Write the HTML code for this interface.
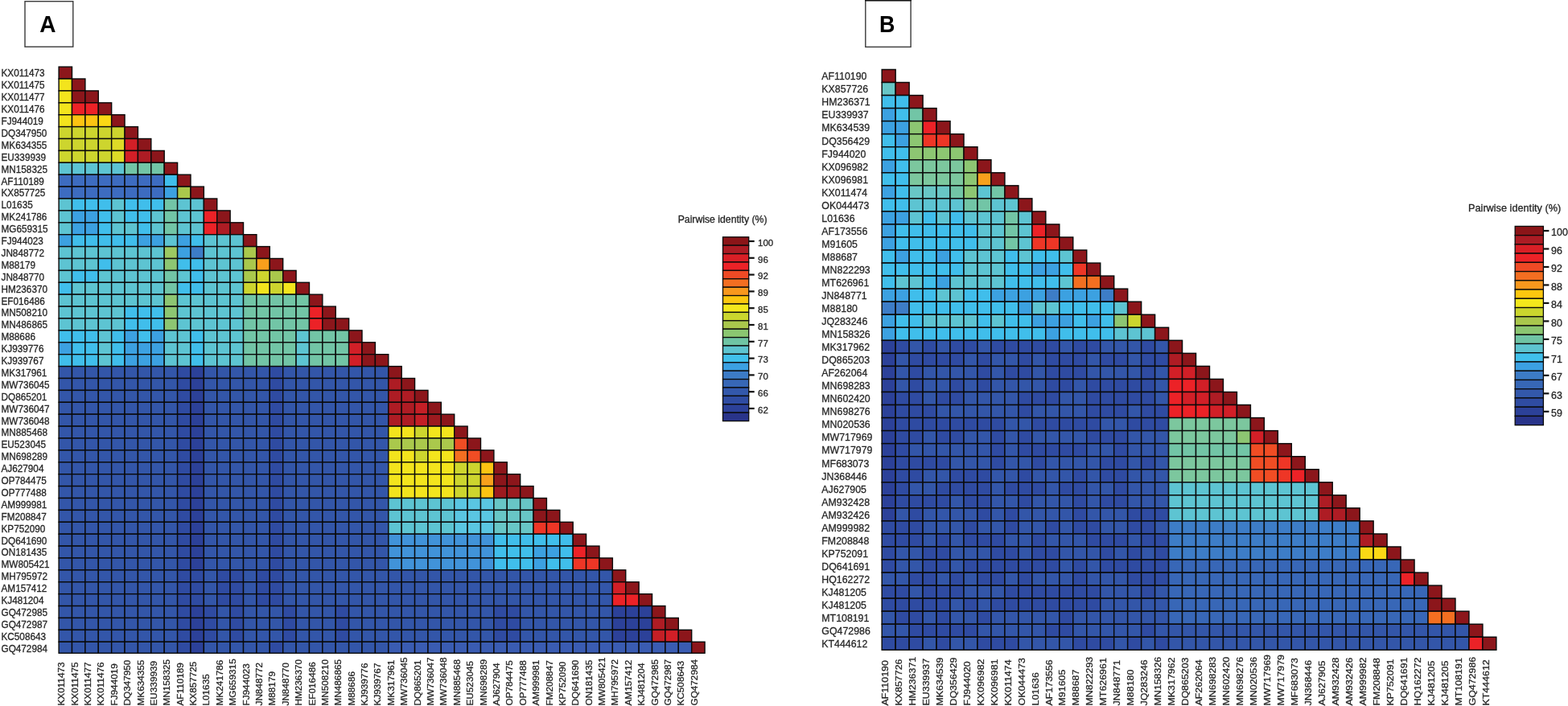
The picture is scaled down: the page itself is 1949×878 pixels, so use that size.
<!DOCTYPE html><html><head><meta charset="utf-8"><title>Pairwise identity heatmaps</title>
<style>html,body{margin:0;padding:0;background:#fff;width:1949px;height:878px;overflow:hidden}svg{display:block}text{font-family:"Liberation Sans",Arial,sans-serif;fill:#262626;stroke:#262626;stroke-width:0.3px}</style></head><body>
<svg width="1949" height="878" viewBox="0 0 1949 878">
<rect width="1949" height="878" fill="#fff"/>
<g stroke="#0a0a0a" stroke-width="1.4"><rect x="73.11" y="83.12" width="16.39" height="14.9" fill="#8c161b"/><rect x="73.11" y="98.02" width="16.39" height="14.9" fill="#f3e41d"/><rect x="89.5" y="98.02" width="16.39" height="14.9" fill="#8c161b"/><rect x="73.11" y="112.92" width="16.39" height="14.9" fill="#f3e41d"/><rect x="89.5" y="112.92" width="16.39" height="14.9" fill="#8c161b"/><rect x="105.88" y="112.92" width="16.39" height="14.9" fill="#8c161b"/><rect x="73.11" y="127.82" width="16.39" height="14.9" fill="#f3e41d"/><rect x="89.5" y="127.82" width="16.39" height="14.9" fill="#ec2227"/><rect x="105.88" y="127.82" width="16.39" height="14.9" fill="#ec2227"/><rect x="122.27" y="127.82" width="16.39" height="14.9" fill="#8c161b"/><rect x="73.11" y="142.72" width="16.39" height="14.9" fill="#f3e41d"/><rect x="89.5" y="142.72" width="16.39" height="14.9" fill="#fdc412"/><rect x="105.88" y="142.72" width="16.39" height="14.9" fill="#fdc412"/><rect x="122.27" y="142.72" width="16.39" height="14.9" fill="#fbd915"/><rect x="138.66" y="142.72" width="16.39" height="14.9" fill="#8c161b"/><rect x="73.11" y="157.62" width="16.39" height="14.9" fill="#cdd52e"/><rect x="89.5" y="157.62" width="16.39" height="14.9" fill="#cdd52e"/><rect x="105.88" y="157.62" width="16.39" height="14.9" fill="#cdd52e"/><rect x="122.27" y="157.62" width="16.39" height="14.9" fill="#cdd52e"/><rect x="138.66" y="157.62" width="16.39" height="14.9" fill="#cdd52e"/><rect x="155.05" y="157.62" width="16.39" height="14.9" fill="#8c161b"/><rect x="73.11" y="172.51" width="16.39" height="14.9" fill="#cdd52e"/><rect x="89.5" y="172.51" width="16.39" height="14.9" fill="#cdd52e"/><rect x="105.88" y="172.51" width="16.39" height="14.9" fill="#cdd52e"/><rect x="122.27" y="172.51" width="16.39" height="14.9" fill="#cdd52e"/><rect x="138.66" y="172.51" width="16.39" height="14.9" fill="#dedb27"/><rect x="155.05" y="172.51" width="16.39" height="14.9" fill="#d21f27"/><rect x="171.43" y="172.51" width="16.39" height="14.9" fill="#8c161b"/><rect x="73.11" y="187.41" width="16.39" height="14.9" fill="#cdd52e"/><rect x="89.5" y="187.41" width="16.39" height="14.9" fill="#cdd52e"/><rect x="105.88" y="187.41" width="16.39" height="14.9" fill="#cdd52e"/><rect x="122.27" y="187.41" width="16.39" height="14.9" fill="#cdd52e"/><rect x="138.66" y="187.41" width="16.39" height="14.9" fill="#dedb27"/><rect x="155.05" y="187.41" width="16.39" height="14.9" fill="#d21f27"/><rect x="171.43" y="187.41" width="16.39" height="14.9" fill="#ae1c24"/><rect x="187.82" y="187.41" width="16.39" height="14.9" fill="#8c161b"/><rect x="73.11" y="202.31" width="16.39" height="14.9" fill="#5dc4d2"/><rect x="89.5" y="202.31" width="16.39" height="14.9" fill="#5dc4d2"/><rect x="105.88" y="202.31" width="16.39" height="14.9" fill="#5dc4d2"/><rect x="122.27" y="202.31" width="16.39" height="14.9" fill="#5dc4d2"/><rect x="138.66" y="202.31" width="16.39" height="14.9" fill="#5dc4d2"/><rect x="155.05" y="202.31" width="16.39" height="14.9" fill="#72c5a6"/><rect x="171.43" y="202.31" width="16.39" height="14.9" fill="#72c5a6"/><rect x="187.82" y="202.31" width="16.39" height="14.9" fill="#72c5a6"/><rect x="204.21" y="202.31" width="16.39" height="14.9" fill="#8c161b"/><rect x="73.11" y="217.21" width="16.39" height="14.9" fill="#3d6cc0"/><rect x="89.5" y="217.21" width="16.39" height="14.9" fill="#3d6cc0"/><rect x="105.88" y="217.21" width="16.39" height="14.9" fill="#3d6cc0"/><rect x="122.27" y="217.21" width="16.39" height="14.9" fill="#3d6cc0"/><rect x="138.66" y="217.21" width="16.39" height="14.9" fill="#3d6cc0"/><rect x="155.05" y="217.21" width="16.39" height="14.9" fill="#3d6cc0"/><rect x="171.43" y="217.21" width="16.39" height="14.9" fill="#3d6cc0"/><rect x="187.82" y="217.21" width="16.39" height="14.9" fill="#3d6cc0"/><rect x="204.21" y="217.21" width="16.39" height="14.9" fill="#40beeb"/><rect x="220.59" y="217.21" width="16.39" height="14.9" fill="#8c161b"/><rect x="73.11" y="232.11" width="16.39" height="14.9" fill="#3d6cc0"/><rect x="89.5" y="232.11" width="16.39" height="14.9" fill="#3d6cc0"/><rect x="105.88" y="232.11" width="16.39" height="14.9" fill="#3d6cc0"/><rect x="122.27" y="232.11" width="16.39" height="14.9" fill="#3d6cc0"/><rect x="138.66" y="232.11" width="16.39" height="14.9" fill="#3d6cc0"/><rect x="155.05" y="232.11" width="16.39" height="14.9" fill="#3d6cc0"/><rect x="171.43" y="232.11" width="16.39" height="14.9" fill="#3d6cc0"/><rect x="187.82" y="232.11" width="16.39" height="14.9" fill="#3d6cc0"/><rect x="204.21" y="232.11" width="16.39" height="14.9" fill="#3ca1e1"/><rect x="220.59" y="232.11" width="16.39" height="14.9" fill="#aac84c"/><rect x="236.98" y="232.11" width="16.39" height="14.9" fill="#8c161b"/><rect x="73.11" y="247.01" width="16.39" height="14.9" fill="#5dc4d2"/><rect x="89.5" y="247.01" width="16.39" height="14.9" fill="#40beeb"/><rect x="105.88" y="247.01" width="16.39" height="14.9" fill="#40beeb"/><rect x="122.27" y="247.01" width="16.39" height="14.9" fill="#40beeb"/><rect x="138.66" y="247.01" width="16.39" height="14.9" fill="#5dc4d2"/><rect x="155.05" y="247.01" width="16.39" height="14.9" fill="#40beeb"/><rect x="171.43" y="247.01" width="16.39" height="14.9" fill="#40beeb"/><rect x="187.82" y="247.01" width="16.39" height="14.9" fill="#40beeb"/><rect x="204.21" y="247.01" width="16.39" height="14.9" fill="#72c5a6"/><rect x="220.59" y="247.01" width="16.39" height="14.9" fill="#5dc4d2"/><rect x="236.98" y="247.01" width="16.39" height="14.9" fill="#5dc4d2"/><rect x="253.37" y="247.01" width="16.39" height="14.9" fill="#8c161b"/><rect x="73.11" y="261.91" width="16.39" height="14.9" fill="#5dc4d2"/><rect x="89.5" y="261.91" width="16.39" height="14.9" fill="#3ca1e1"/><rect x="105.88" y="261.91" width="16.39" height="14.9" fill="#3ca1e1"/><rect x="122.27" y="261.91" width="16.39" height="14.9" fill="#40beeb"/><rect x="138.66" y="261.91" width="16.39" height="14.9" fill="#5dc4d2"/><rect x="155.05" y="261.91" width="16.39" height="14.9" fill="#40beeb"/><rect x="171.43" y="261.91" width="16.39" height="14.9" fill="#40beeb"/><rect x="187.82" y="261.91" width="16.39" height="14.9" fill="#5dc4d2"/><rect x="204.21" y="261.91" width="16.39" height="14.9" fill="#72c5a6"/><rect x="220.59" y="261.91" width="16.39" height="14.9" fill="#5dc4d2"/><rect x="236.98" y="261.91" width="16.39" height="14.9" fill="#5dc4d2"/><rect x="253.37" y="261.91" width="16.39" height="14.9" fill="#ec2227"/><rect x="269.75" y="261.91" width="16.39" height="14.9" fill="#8c161b"/><rect x="73.11" y="276.81" width="16.39" height="14.9" fill="#5dc4d2"/><rect x="89.5" y="276.81" width="16.39" height="14.9" fill="#3ca1e1"/><rect x="105.88" y="276.81" width="16.39" height="14.9" fill="#3ca1e1"/><rect x="122.27" y="276.81" width="16.39" height="14.9" fill="#40beeb"/><rect x="138.66" y="276.81" width="16.39" height="14.9" fill="#5dc4d2"/><rect x="155.05" y="276.81" width="16.39" height="14.9" fill="#5dc4d2"/><rect x="171.43" y="276.81" width="16.39" height="14.9" fill="#40beeb"/><rect x="187.82" y="276.81" width="16.39" height="14.9" fill="#5dc4d2"/><rect x="204.21" y="276.81" width="16.39" height="14.9" fill="#72c5a6"/><rect x="220.59" y="276.81" width="16.39" height="14.9" fill="#5dc4d2"/><rect x="236.98" y="276.81" width="16.39" height="14.9" fill="#5dc4d2"/><rect x="253.37" y="276.81" width="16.39" height="14.9" fill="#ec2227"/><rect x="269.75" y="276.81" width="16.39" height="14.9" fill="#ae1c24"/><rect x="286.14" y="276.81" width="16.39" height="14.9" fill="#8c161b"/><rect x="73.11" y="291.71" width="16.39" height="14.9" fill="#3ca1e1"/><rect x="89.5" y="291.71" width="16.39" height="14.9" fill="#40beeb"/><rect x="105.88" y="291.71" width="16.39" height="14.9" fill="#40beeb"/><rect x="122.27" y="291.71" width="16.39" height="14.9" fill="#40beeb"/><rect x="138.66" y="291.71" width="16.39" height="14.9" fill="#40beeb"/><rect x="155.05" y="291.71" width="16.39" height="14.9" fill="#40beeb"/><rect x="171.43" y="291.71" width="16.39" height="14.9" fill="#3ca1e1"/><rect x="187.82" y="291.71" width="16.39" height="14.9" fill="#3ca1e1"/><rect x="204.21" y="291.71" width="16.39" height="14.9" fill="#5dc4d2"/><rect x="220.59" y="291.71" width="16.39" height="14.9" fill="#3ca1e1"/><rect x="236.98" y="291.71" width="16.39" height="14.9" fill="#40beeb"/><rect x="253.37" y="291.71" width="16.39" height="14.9" fill="#5dc4d2"/><rect x="269.75" y="291.71" width="16.39" height="14.9" fill="#5dc4d2"/><rect x="286.14" y="291.71" width="16.39" height="14.9" fill="#5dc4d2"/><rect x="302.53" y="291.71" width="16.39" height="14.9" fill="#8c161b"/><rect x="73.11" y="306.61" width="16.39" height="14.9" fill="#5dc4d2"/><rect x="89.5" y="306.61" width="16.39" height="14.9" fill="#5dc4d2"/><rect x="105.88" y="306.61" width="16.39" height="14.9" fill="#5dc4d2"/><rect x="122.27" y="306.61" width="16.39" height="14.9" fill="#5dc4d2"/><rect x="138.66" y="306.61" width="16.39" height="14.9" fill="#5dc4d2"/><rect x="155.05" y="306.61" width="16.39" height="14.9" fill="#5dc4d2"/><rect x="171.43" y="306.61" width="16.39" height="14.9" fill="#5dc4d2"/><rect x="187.82" y="306.61" width="16.39" height="14.9" fill="#5dc4d2"/><rect x="204.21" y="306.61" width="16.39" height="14.9" fill="#9cc962"/><rect x="220.59" y="306.61" width="16.39" height="14.9" fill="#3ca1e1"/><rect x="236.98" y="306.61" width="16.39" height="14.9" fill="#3d7dc7"/><rect x="253.37" y="306.61" width="16.39" height="14.9" fill="#5dc4d2"/><rect x="269.75" y="306.61" width="16.39" height="14.9" fill="#5dc4d2"/><rect x="286.14" y="306.61" width="16.39" height="14.9" fill="#5dc4d2"/><rect x="302.53" y="306.61" width="16.39" height="14.9" fill="#aac84c"/><rect x="318.92" y="306.61" width="16.39" height="14.9" fill="#8c161b"/><rect x="73.11" y="321.5" width="16.39" height="14.9" fill="#5dc4d2"/><rect x="89.5" y="321.5" width="16.39" height="14.9" fill="#5dc4d2"/><rect x="105.88" y="321.5" width="16.39" height="14.9" fill="#5dc4d2"/><rect x="122.27" y="321.5" width="16.39" height="14.9" fill="#40beeb"/><rect x="138.66" y="321.5" width="16.39" height="14.9" fill="#5dc4d2"/><rect x="155.05" y="321.5" width="16.39" height="14.9" fill="#5dc4d2"/><rect x="171.43" y="321.5" width="16.39" height="14.9" fill="#5dc4d2"/><rect x="187.82" y="321.5" width="16.39" height="14.9" fill="#5dc4d2"/><rect x="204.21" y="321.5" width="16.39" height="14.9" fill="#8dc672"/><rect x="220.59" y="321.5" width="16.39" height="14.9" fill="#40beeb"/><rect x="236.98" y="321.5" width="16.39" height="14.9" fill="#40beeb"/><rect x="253.37" y="321.5" width="16.39" height="14.9" fill="#5dc4d2"/><rect x="269.75" y="321.5" width="16.39" height="14.9" fill="#5dc4d2"/><rect x="286.14" y="321.5" width="16.39" height="14.9" fill="#5dc4d2"/><rect x="302.53" y="321.5" width="16.39" height="14.9" fill="#aac84c"/><rect x="318.92" y="321.5" width="16.39" height="14.9" fill="#f8a01c"/><rect x="335.3" y="321.5" width="16.39" height="14.9" fill="#8c161b"/><rect x="73.11" y="336.4" width="16.39" height="14.9" fill="#5dc4d2"/><rect x="89.5" y="336.4" width="16.39" height="14.9" fill="#40beeb"/><rect x="105.88" y="336.4" width="16.39" height="14.9" fill="#40beeb"/><rect x="122.27" y="336.4" width="16.39" height="14.9" fill="#5dc4d2"/><rect x="138.66" y="336.4" width="16.39" height="14.9" fill="#5dc4d2"/><rect x="155.05" y="336.4" width="16.39" height="14.9" fill="#5dc4d2"/><rect x="171.43" y="336.4" width="16.39" height="14.9" fill="#5dc4d2"/><rect x="187.82" y="336.4" width="16.39" height="14.9" fill="#5dc4d2"/><rect x="204.21" y="336.4" width="16.39" height="14.9" fill="#72c5a6"/><rect x="220.59" y="336.4" width="16.39" height="14.9" fill="#5dc4d2"/><rect x="236.98" y="336.4" width="16.39" height="14.9" fill="#40beeb"/><rect x="253.37" y="336.4" width="16.39" height="14.9" fill="#5dc4d2"/><rect x="269.75" y="336.4" width="16.39" height="14.9" fill="#5dc4d2"/><rect x="286.14" y="336.4" width="16.39" height="14.9" fill="#5dc4d2"/><rect x="302.53" y="336.4" width="16.39" height="14.9" fill="#aac84c"/><rect x="318.92" y="336.4" width="16.39" height="14.9" fill="#cdd52e"/><rect x="335.3" y="336.4" width="16.39" height="14.9" fill="#aac84c"/><rect x="351.69" y="336.4" width="16.39" height="14.9" fill="#8c161b"/><rect x="73.11" y="351.3" width="16.39" height="14.9" fill="#40beeb"/><rect x="89.5" y="351.3" width="16.39" height="14.9" fill="#5dc4d2"/><rect x="105.88" y="351.3" width="16.39" height="14.9" fill="#5dc4d2"/><rect x="122.27" y="351.3" width="16.39" height="14.9" fill="#5dc4d2"/><rect x="138.66" y="351.3" width="16.39" height="14.9" fill="#5dc4d2"/><rect x="155.05" y="351.3" width="16.39" height="14.9" fill="#5dc4d2"/><rect x="171.43" y="351.3" width="16.39" height="14.9" fill="#5dc4d2"/><rect x="187.82" y="351.3" width="16.39" height="14.9" fill="#5dc4d2"/><rect x="204.21" y="351.3" width="16.39" height="14.9" fill="#72c5a6"/><rect x="220.59" y="351.3" width="16.39" height="14.9" fill="#40beeb"/><rect x="236.98" y="351.3" width="16.39" height="14.9" fill="#40beeb"/><rect x="253.37" y="351.3" width="16.39" height="14.9" fill="#5dc4d2"/><rect x="269.75" y="351.3" width="16.39" height="14.9" fill="#5dc4d2"/><rect x="286.14" y="351.3" width="16.39" height="14.9" fill="#5dc4d2"/><rect x="302.53" y="351.3" width="16.39" height="14.9" fill="#cdd52e"/><rect x="318.92" y="351.3" width="16.39" height="14.9" fill="#f3e41d"/><rect x="335.3" y="351.3" width="16.39" height="14.9" fill="#cdd52e"/><rect x="351.69" y="351.3" width="16.39" height="14.9" fill="#f3e41d"/><rect x="368.08" y="351.3" width="16.39" height="14.9" fill="#8c161b"/><rect x="73.11" y="366.2" width="16.39" height="14.9" fill="#5dc4d2"/><rect x="89.5" y="366.2" width="16.39" height="14.9" fill="#5dc4d2"/><rect x="105.88" y="366.2" width="16.39" height="14.9" fill="#5dc4d2"/><rect x="122.27" y="366.2" width="16.39" height="14.9" fill="#5dc4d2"/><rect x="138.66" y="366.2" width="16.39" height="14.9" fill="#5dc4d2"/><rect x="155.05" y="366.2" width="16.39" height="14.9" fill="#5dc4d2"/><rect x="171.43" y="366.2" width="16.39" height="14.9" fill="#5dc4d2"/><rect x="187.82" y="366.2" width="16.39" height="14.9" fill="#5dc4d2"/><rect x="204.21" y="366.2" width="16.39" height="14.9" fill="#8dc672"/><rect x="220.59" y="366.2" width="16.39" height="14.9" fill="#5dc4d2"/><rect x="236.98" y="366.2" width="16.39" height="14.9" fill="#5dc4d2"/><rect x="253.37" y="366.2" width="16.39" height="14.9" fill="#5dc4d2"/><rect x="269.75" y="366.2" width="16.39" height="14.9" fill="#5dc4d2"/><rect x="286.14" y="366.2" width="16.39" height="14.9" fill="#5dc4d2"/><rect x="302.53" y="366.2" width="16.39" height="14.9" fill="#72c5a6"/><rect x="318.92" y="366.2" width="16.39" height="14.9" fill="#72c5a6"/><rect x="335.3" y="366.2" width="16.39" height="14.9" fill="#72c5a6"/><rect x="351.69" y="366.2" width="16.39" height="14.9" fill="#72c5a6"/><rect x="368.08" y="366.2" width="16.39" height="14.9" fill="#72c5a6"/><rect x="384.46" y="366.2" width="16.39" height="14.9" fill="#8c161b"/><rect x="73.11" y="381.1" width="16.39" height="14.9" fill="#5dc4d2"/><rect x="89.5" y="381.1" width="16.39" height="14.9" fill="#5dc4d2"/><rect x="105.88" y="381.1" width="16.39" height="14.9" fill="#5dc4d2"/><rect x="122.27" y="381.1" width="16.39" height="14.9" fill="#5dc4d2"/><rect x="138.66" y="381.1" width="16.39" height="14.9" fill="#5dc4d2"/><rect x="155.05" y="381.1" width="16.39" height="14.9" fill="#40beeb"/><rect x="171.43" y="381.1" width="16.39" height="14.9" fill="#40beeb"/><rect x="187.82" y="381.1" width="16.39" height="14.9" fill="#40beeb"/><rect x="204.21" y="381.1" width="16.39" height="14.9" fill="#8dc672"/><rect x="220.59" y="381.1" width="16.39" height="14.9" fill="#5dc4d2"/><rect x="236.98" y="381.1" width="16.39" height="14.9" fill="#5dc4d2"/><rect x="253.37" y="381.1" width="16.39" height="14.9" fill="#5dc4d2"/><rect x="269.75" y="381.1" width="16.39" height="14.9" fill="#5dc4d2"/><rect x="286.14" y="381.1" width="16.39" height="14.9" fill="#5dc4d2"/><rect x="302.53" y="381.1" width="16.39" height="14.9" fill="#72c5a6"/><rect x="318.92" y="381.1" width="16.39" height="14.9" fill="#72c5a6"/><rect x="335.3" y="381.1" width="16.39" height="14.9" fill="#72c5a6"/><rect x="351.69" y="381.1" width="16.39" height="14.9" fill="#72c5a6"/><rect x="368.08" y="381.1" width="16.39" height="14.9" fill="#72c5a6"/><rect x="384.46" y="381.1" width="16.39" height="14.9" fill="#ec2227"/><rect x="400.85" y="381.1" width="16.39" height="14.9" fill="#8c161b"/><rect x="73.11" y="396" width="16.39" height="14.9" fill="#5dc4d2"/><rect x="89.5" y="396" width="16.39" height="14.9" fill="#5dc4d2"/><rect x="105.88" y="396" width="16.39" height="14.9" fill="#5dc4d2"/><rect x="122.27" y="396" width="16.39" height="14.9" fill="#5dc4d2"/><rect x="138.66" y="396" width="16.39" height="14.9" fill="#5dc4d2"/><rect x="155.05" y="396" width="16.39" height="14.9" fill="#40beeb"/><rect x="171.43" y="396" width="16.39" height="14.9" fill="#40beeb"/><rect x="187.82" y="396" width="16.39" height="14.9" fill="#40beeb"/><rect x="204.21" y="396" width="16.39" height="14.9" fill="#8dc672"/><rect x="220.59" y="396" width="16.39" height="14.9" fill="#5dc4d2"/><rect x="236.98" y="396" width="16.39" height="14.9" fill="#5dc4d2"/><rect x="253.37" y="396" width="16.39" height="14.9" fill="#5dc4d2"/><rect x="269.75" y="396" width="16.39" height="14.9" fill="#5dc4d2"/><rect x="286.14" y="396" width="16.39" height="14.9" fill="#5dc4d2"/><rect x="302.53" y="396" width="16.39" height="14.9" fill="#72c5a6"/><rect x="318.92" y="396" width="16.39" height="14.9" fill="#72c5a6"/><rect x="335.3" y="396" width="16.39" height="14.9" fill="#72c5a6"/><rect x="351.69" y="396" width="16.39" height="14.9" fill="#72c5a6"/><rect x="368.08" y="396" width="16.39" height="14.9" fill="#72c5a6"/><rect x="384.46" y="396" width="16.39" height="14.9" fill="#ec2227"/><rect x="400.85" y="396" width="16.39" height="14.9" fill="#8c161b"/><rect x="417.24" y="396" width="16.39" height="14.9" fill="#8c161b"/><rect x="73.11" y="410.9" width="16.39" height="14.9" fill="#40beeb"/><rect x="89.5" y="410.9" width="16.39" height="14.9" fill="#40beeb"/><rect x="105.88" y="410.9" width="16.39" height="14.9" fill="#40beeb"/><rect x="122.27" y="410.9" width="16.39" height="14.9" fill="#5dc4d2"/><rect x="138.66" y="410.9" width="16.39" height="14.9" fill="#40beeb"/><rect x="155.05" y="410.9" width="16.39" height="14.9" fill="#3ca1e1"/><rect x="171.43" y="410.9" width="16.39" height="14.9" fill="#40beeb"/><rect x="187.82" y="410.9" width="16.39" height="14.9" fill="#3ca1e1"/><rect x="204.21" y="410.9" width="16.39" height="14.9" fill="#5dc4d2"/><rect x="220.59" y="410.9" width="16.39" height="14.9" fill="#5dc4d2"/><rect x="236.98" y="410.9" width="16.39" height="14.9" fill="#40beeb"/><rect x="253.37" y="410.9" width="16.39" height="14.9" fill="#5dc4d2"/><rect x="269.75" y="410.9" width="16.39" height="14.9" fill="#5dc4d2"/><rect x="286.14" y="410.9" width="16.39" height="14.9" fill="#5dc4d2"/><rect x="302.53" y="410.9" width="16.39" height="14.9" fill="#72c5a6"/><rect x="318.92" y="410.9" width="16.39" height="14.9" fill="#72c5a6"/><rect x="335.3" y="410.9" width="16.39" height="14.9" fill="#72c5a6"/><rect x="351.69" y="410.9" width="16.39" height="14.9" fill="#72c5a6"/><rect x="368.08" y="410.9" width="16.39" height="14.9" fill="#5dc4d2"/><rect x="384.46" y="410.9" width="16.39" height="14.9" fill="#72c5a6"/><rect x="400.85" y="410.9" width="16.39" height="14.9" fill="#72c5a6"/><rect x="417.24" y="410.9" width="16.39" height="14.9" fill="#72c5a6"/><rect x="433.62" y="410.9" width="16.39" height="14.9" fill="#8c161b"/><rect x="73.11" y="425.8" width="16.39" height="14.9" fill="#3ca1e1"/><rect x="89.5" y="425.8" width="16.39" height="14.9" fill="#40beeb"/><rect x="105.88" y="425.8" width="16.39" height="14.9" fill="#40beeb"/><rect x="122.27" y="425.8" width="16.39" height="14.9" fill="#5dc4d2"/><rect x="138.66" y="425.8" width="16.39" height="14.9" fill="#40beeb"/><rect x="155.05" y="425.8" width="16.39" height="14.9" fill="#3ca1e1"/><rect x="171.43" y="425.8" width="16.39" height="14.9" fill="#3ca1e1"/><rect x="187.82" y="425.8" width="16.39" height="14.9" fill="#3ca1e1"/><rect x="204.21" y="425.8" width="16.39" height="14.9" fill="#5dc4d2"/><rect x="220.59" y="425.8" width="16.39" height="14.9" fill="#5dc4d2"/><rect x="236.98" y="425.8" width="16.39" height="14.9" fill="#40beeb"/><rect x="253.37" y="425.8" width="16.39" height="14.9" fill="#5dc4d2"/><rect x="269.75" y="425.8" width="16.39" height="14.9" fill="#5dc4d2"/><rect x="286.14" y="425.8" width="16.39" height="14.9" fill="#5dc4d2"/><rect x="302.53" y="425.8" width="16.39" height="14.9" fill="#72c5a6"/><rect x="318.92" y="425.8" width="16.39" height="14.9" fill="#72c5a6"/><rect x="335.3" y="425.8" width="16.39" height="14.9" fill="#72c5a6"/><rect x="351.69" y="425.8" width="16.39" height="14.9" fill="#72c5a6"/><rect x="368.08" y="425.8" width="16.39" height="14.9" fill="#5dc4d2"/><rect x="384.46" y="425.8" width="16.39" height="14.9" fill="#72c5a6"/><rect x="400.85" y="425.8" width="16.39" height="14.9" fill="#72c5a6"/><rect x="417.24" y="425.8" width="16.39" height="14.9" fill="#72c5a6"/><rect x="433.62" y="425.8" width="16.39" height="14.9" fill="#d21f27"/><rect x="450.01" y="425.8" width="16.39" height="14.9" fill="#8c161b"/><rect x="73.11" y="440.7" width="16.39" height="14.9" fill="#40beeb"/><rect x="89.5" y="440.7" width="16.39" height="14.9" fill="#40beeb"/><rect x="105.88" y="440.7" width="16.39" height="14.9" fill="#40beeb"/><rect x="122.27" y="440.7" width="16.39" height="14.9" fill="#5dc4d2"/><rect x="138.66" y="440.7" width="16.39" height="14.9" fill="#40beeb"/><rect x="155.05" y="440.7" width="16.39" height="14.9" fill="#3ca1e1"/><rect x="171.43" y="440.7" width="16.39" height="14.9" fill="#3ca1e1"/><rect x="187.82" y="440.7" width="16.39" height="14.9" fill="#3ca1e1"/><rect x="204.21" y="440.7" width="16.39" height="14.9" fill="#5dc4d2"/><rect x="220.59" y="440.7" width="16.39" height="14.9" fill="#5dc4d2"/><rect x="236.98" y="440.7" width="16.39" height="14.9" fill="#40beeb"/><rect x="253.37" y="440.7" width="16.39" height="14.9" fill="#5dc4d2"/><rect x="269.75" y="440.7" width="16.39" height="14.9" fill="#5dc4d2"/><rect x="286.14" y="440.7" width="16.39" height="14.9" fill="#5dc4d2"/><rect x="302.53" y="440.7" width="16.39" height="14.9" fill="#72c5a6"/><rect x="318.92" y="440.7" width="16.39" height="14.9" fill="#72c5a6"/><rect x="335.3" y="440.7" width="16.39" height="14.9" fill="#72c5a6"/><rect x="351.69" y="440.7" width="16.39" height="14.9" fill="#72c5a6"/><rect x="368.08" y="440.7" width="16.39" height="14.9" fill="#5dc4d2"/><rect x="384.46" y="440.7" width="16.39" height="14.9" fill="#72c5a6"/><rect x="400.85" y="440.7" width="16.39" height="14.9" fill="#72c5a6"/><rect x="417.24" y="440.7" width="16.39" height="14.9" fill="#72c5a6"/><rect x="433.62" y="440.7" width="16.39" height="14.9" fill="#d21f27"/><rect x="450.01" y="440.7" width="16.39" height="14.9" fill="#8c161b"/><rect x="466.4" y="440.7" width="16.39" height="14.9" fill="#8c161b"/><rect x="73.11" y="455.59" width="16.39" height="14.9" fill="#3356a9"/><rect x="89.5" y="455.59" width="16.39" height="14.9" fill="#3356a9"/><rect x="105.88" y="455.59" width="16.39" height="14.9" fill="#3356a9"/><rect x="122.27" y="455.59" width="16.39" height="14.9" fill="#3356a9"/><rect x="138.66" y="455.59" width="16.39" height="14.9" fill="#3356a9"/><rect x="155.05" y="455.59" width="16.39" height="14.9" fill="#3356a9"/><rect x="171.43" y="455.59" width="16.39" height="14.9" fill="#3356a9"/><rect x="187.82" y="455.59" width="16.39" height="14.9" fill="#3356a9"/><rect x="204.21" y="455.59" width="16.39" height="14.9" fill="#3356a9"/><rect x="220.59" y="455.59" width="16.39" height="14.9" fill="#2f4ba2"/><rect x="236.98" y="455.59" width="16.39" height="14.9" fill="#2c4199"/><rect x="253.37" y="455.59" width="16.39" height="14.9" fill="#3356a9"/><rect x="269.75" y="455.59" width="16.39" height="14.9" fill="#3356a9"/><rect x="286.14" y="455.59" width="16.39" height="14.9" fill="#3356a9"/><rect x="302.53" y="455.59" width="16.39" height="14.9" fill="#3356a9"/><rect x="318.92" y="455.59" width="16.39" height="14.9" fill="#3356a9"/><rect x="335.3" y="455.59" width="16.39" height="14.9" fill="#2f4ba2"/><rect x="351.69" y="455.59" width="16.39" height="14.9" fill="#3356a9"/><rect x="368.08" y="455.59" width="16.39" height="14.9" fill="#3356a9"/><rect x="384.46" y="455.59" width="16.39" height="14.9" fill="#3356a9"/><rect x="400.85" y="455.59" width="16.39" height="14.9" fill="#3356a9"/><rect x="417.24" y="455.59" width="16.39" height="14.9" fill="#3356a9"/><rect x="433.62" y="455.59" width="16.39" height="14.9" fill="#3356a9"/><rect x="450.01" y="455.59" width="16.39" height="14.9" fill="#3356a9"/><rect x="466.4" y="455.59" width="16.39" height="14.9" fill="#3356a9"/><rect x="482.79" y="455.59" width="16.39" height="14.9" fill="#8c161b"/><rect x="73.11" y="470.49" width="16.39" height="14.9" fill="#3356a9"/><rect x="89.5" y="470.49" width="16.39" height="14.9" fill="#3356a9"/><rect x="105.88" y="470.49" width="16.39" height="14.9" fill="#3356a9"/><rect x="122.27" y="470.49" width="16.39" height="14.9" fill="#3356a9"/><rect x="138.66" y="470.49" width="16.39" height="14.9" fill="#3356a9"/><rect x="155.05" y="470.49" width="16.39" height="14.9" fill="#3356a9"/><rect x="171.43" y="470.49" width="16.39" height="14.9" fill="#3356a9"/><rect x="187.82" y="470.49" width="16.39" height="14.9" fill="#3356a9"/><rect x="204.21" y="470.49" width="16.39" height="14.9" fill="#3356a9"/><rect x="220.59" y="470.49" width="16.39" height="14.9" fill="#2f4ba2"/><rect x="236.98" y="470.49" width="16.39" height="14.9" fill="#2c4199"/><rect x="253.37" y="470.49" width="16.39" height="14.9" fill="#3356a9"/><rect x="269.75" y="470.49" width="16.39" height="14.9" fill="#3356a9"/><rect x="286.14" y="470.49" width="16.39" height="14.9" fill="#3356a9"/><rect x="302.53" y="470.49" width="16.39" height="14.9" fill="#3356a9"/><rect x="318.92" y="470.49" width="16.39" height="14.9" fill="#3356a9"/><rect x="335.3" y="470.49" width="16.39" height="14.9" fill="#2f4ba2"/><rect x="351.69" y="470.49" width="16.39" height="14.9" fill="#3356a9"/><rect x="368.08" y="470.49" width="16.39" height="14.9" fill="#3356a9"/><rect x="384.46" y="470.49" width="16.39" height="14.9" fill="#3356a9"/><rect x="400.85" y="470.49" width="16.39" height="14.9" fill="#3356a9"/><rect x="417.24" y="470.49" width="16.39" height="14.9" fill="#3356a9"/><rect x="433.62" y="470.49" width="16.39" height="14.9" fill="#3356a9"/><rect x="450.01" y="470.49" width="16.39" height="14.9" fill="#3356a9"/><rect x="466.4" y="470.49" width="16.39" height="14.9" fill="#3356a9"/><rect x="482.79" y="470.49" width="16.39" height="14.9" fill="#ae1c24"/><rect x="499.17" y="470.49" width="16.39" height="14.9" fill="#8c161b"/><rect x="73.11" y="485.39" width="16.39" height="14.9" fill="#3356a9"/><rect x="89.5" y="485.39" width="16.39" height="14.9" fill="#3356a9"/><rect x="105.88" y="485.39" width="16.39" height="14.9" fill="#3356a9"/><rect x="122.27" y="485.39" width="16.39" height="14.9" fill="#3356a9"/><rect x="138.66" y="485.39" width="16.39" height="14.9" fill="#3356a9"/><rect x="155.05" y="485.39" width="16.39" height="14.9" fill="#3356a9"/><rect x="171.43" y="485.39" width="16.39" height="14.9" fill="#3356a9"/><rect x="187.82" y="485.39" width="16.39" height="14.9" fill="#3356a9"/><rect x="204.21" y="485.39" width="16.39" height="14.9" fill="#3356a9"/><rect x="220.59" y="485.39" width="16.39" height="14.9" fill="#2f4ba2"/><rect x="236.98" y="485.39" width="16.39" height="14.9" fill="#2c4199"/><rect x="253.37" y="485.39" width="16.39" height="14.9" fill="#3356a9"/><rect x="269.75" y="485.39" width="16.39" height="14.9" fill="#3356a9"/><rect x="286.14" y="485.39" width="16.39" height="14.9" fill="#3356a9"/><rect x="302.53" y="485.39" width="16.39" height="14.9" fill="#3356a9"/><rect x="318.92" y="485.39" width="16.39" height="14.9" fill="#3356a9"/><rect x="335.3" y="485.39" width="16.39" height="14.9" fill="#2f4ba2"/><rect x="351.69" y="485.39" width="16.39" height="14.9" fill="#3356a9"/><rect x="368.08" y="485.39" width="16.39" height="14.9" fill="#3356a9"/><rect x="384.46" y="485.39" width="16.39" height="14.9" fill="#3356a9"/><rect x="400.85" y="485.39" width="16.39" height="14.9" fill="#3356a9"/><rect x="417.24" y="485.39" width="16.39" height="14.9" fill="#3356a9"/><rect x="433.62" y="485.39" width="16.39" height="14.9" fill="#3356a9"/><rect x="450.01" y="485.39" width="16.39" height="14.9" fill="#3356a9"/><rect x="466.4" y="485.39" width="16.39" height="14.9" fill="#3356a9"/><rect x="482.79" y="485.39" width="16.39" height="14.9" fill="#ae1c24"/><rect x="499.17" y="485.39" width="16.39" height="14.9" fill="#ae1c24"/><rect x="515.56" y="485.39" width="16.39" height="14.9" fill="#8c161b"/><rect x="73.11" y="500.29" width="16.39" height="14.9" fill="#3356a9"/><rect x="89.5" y="500.29" width="16.39" height="14.9" fill="#3356a9"/><rect x="105.88" y="500.29" width="16.39" height="14.9" fill="#3356a9"/><rect x="122.27" y="500.29" width="16.39" height="14.9" fill="#3356a9"/><rect x="138.66" y="500.29" width="16.39" height="14.9" fill="#3356a9"/><rect x="155.05" y="500.29" width="16.39" height="14.9" fill="#3356a9"/><rect x="171.43" y="500.29" width="16.39" height="14.9" fill="#3356a9"/><rect x="187.82" y="500.29" width="16.39" height="14.9" fill="#3356a9"/><rect x="204.21" y="500.29" width="16.39" height="14.9" fill="#3356a9"/><rect x="220.59" y="500.29" width="16.39" height="14.9" fill="#2f4ba2"/><rect x="236.98" y="500.29" width="16.39" height="14.9" fill="#2c4199"/><rect x="253.37" y="500.29" width="16.39" height="14.9" fill="#3356a9"/><rect x="269.75" y="500.29" width="16.39" height="14.9" fill="#3356a9"/><rect x="286.14" y="500.29" width="16.39" height="14.9" fill="#3356a9"/><rect x="302.53" y="500.29" width="16.39" height="14.9" fill="#3356a9"/><rect x="318.92" y="500.29" width="16.39" height="14.9" fill="#3356a9"/><rect x="335.3" y="500.29" width="16.39" height="14.9" fill="#2f4ba2"/><rect x="351.69" y="500.29" width="16.39" height="14.9" fill="#3356a9"/><rect x="368.08" y="500.29" width="16.39" height="14.9" fill="#3356a9"/><rect x="384.46" y="500.29" width="16.39" height="14.9" fill="#3356a9"/><rect x="400.85" y="500.29" width="16.39" height="14.9" fill="#3356a9"/><rect x="417.24" y="500.29" width="16.39" height="14.9" fill="#3356a9"/><rect x="433.62" y="500.29" width="16.39" height="14.9" fill="#3356a9"/><rect x="450.01" y="500.29" width="16.39" height="14.9" fill="#3356a9"/><rect x="466.4" y="500.29" width="16.39" height="14.9" fill="#3356a9"/><rect x="482.79" y="500.29" width="16.39" height="14.9" fill="#ae1c24"/><rect x="499.17" y="500.29" width="16.39" height="14.9" fill="#ae1c24"/><rect x="515.56" y="500.29" width="16.39" height="14.9" fill="#c41f26"/><rect x="531.95" y="500.29" width="16.39" height="14.9" fill="#8c161b"/><rect x="73.11" y="515.19" width="16.39" height="14.9" fill="#3356a9"/><rect x="89.5" y="515.19" width="16.39" height="14.9" fill="#3356a9"/><rect x="105.88" y="515.19" width="16.39" height="14.9" fill="#3356a9"/><rect x="122.27" y="515.19" width="16.39" height="14.9" fill="#3356a9"/><rect x="138.66" y="515.19" width="16.39" height="14.9" fill="#3356a9"/><rect x="155.05" y="515.19" width="16.39" height="14.9" fill="#3356a9"/><rect x="171.43" y="515.19" width="16.39" height="14.9" fill="#3356a9"/><rect x="187.82" y="515.19" width="16.39" height="14.9" fill="#3356a9"/><rect x="204.21" y="515.19" width="16.39" height="14.9" fill="#3356a9"/><rect x="220.59" y="515.19" width="16.39" height="14.9" fill="#2f4ba2"/><rect x="236.98" y="515.19" width="16.39" height="14.9" fill="#2c4199"/><rect x="253.37" y="515.19" width="16.39" height="14.9" fill="#3356a9"/><rect x="269.75" y="515.19" width="16.39" height="14.9" fill="#3356a9"/><rect x="286.14" y="515.19" width="16.39" height="14.9" fill="#3356a9"/><rect x="302.53" y="515.19" width="16.39" height="14.9" fill="#3356a9"/><rect x="318.92" y="515.19" width="16.39" height="14.9" fill="#3356a9"/><rect x="335.3" y="515.19" width="16.39" height="14.9" fill="#2f4ba2"/><rect x="351.69" y="515.19" width="16.39" height="14.9" fill="#3356a9"/><rect x="368.08" y="515.19" width="16.39" height="14.9" fill="#3356a9"/><rect x="384.46" y="515.19" width="16.39" height="14.9" fill="#3356a9"/><rect x="400.85" y="515.19" width="16.39" height="14.9" fill="#3356a9"/><rect x="417.24" y="515.19" width="16.39" height="14.9" fill="#3356a9"/><rect x="433.62" y="515.19" width="16.39" height="14.9" fill="#3356a9"/><rect x="450.01" y="515.19" width="16.39" height="14.9" fill="#3356a9"/><rect x="466.4" y="515.19" width="16.39" height="14.9" fill="#3356a9"/><rect x="482.79" y="515.19" width="16.39" height="14.9" fill="#ae1c24"/><rect x="499.17" y="515.19" width="16.39" height="14.9" fill="#ae1c24"/><rect x="515.56" y="515.19" width="16.39" height="14.9" fill="#c41f26"/><rect x="531.95" y="515.19" width="16.39" height="14.9" fill="#9c1a1f"/><rect x="548.33" y="515.19" width="16.39" height="14.9" fill="#8c161b"/><rect x="73.11" y="530.09" width="16.39" height="14.9" fill="#3356a9"/><rect x="89.5" y="530.09" width="16.39" height="14.9" fill="#3356a9"/><rect x="105.88" y="530.09" width="16.39" height="14.9" fill="#3356a9"/><rect x="122.27" y="530.09" width="16.39" height="14.9" fill="#3356a9"/><rect x="138.66" y="530.09" width="16.39" height="14.9" fill="#3356a9"/><rect x="155.05" y="530.09" width="16.39" height="14.9" fill="#3356a9"/><rect x="171.43" y="530.09" width="16.39" height="14.9" fill="#3356a9"/><rect x="187.82" y="530.09" width="16.39" height="14.9" fill="#3356a9"/><rect x="204.21" y="530.09" width="16.39" height="14.9" fill="#3356a9"/><rect x="220.59" y="530.09" width="16.39" height="14.9" fill="#2f4ba2"/><rect x="236.98" y="530.09" width="16.39" height="14.9" fill="#2c4199"/><rect x="253.37" y="530.09" width="16.39" height="14.9" fill="#3356a9"/><rect x="269.75" y="530.09" width="16.39" height="14.9" fill="#3356a9"/><rect x="286.14" y="530.09" width="16.39" height="14.9" fill="#3356a9"/><rect x="302.53" y="530.09" width="16.39" height="14.9" fill="#3356a9"/><rect x="318.92" y="530.09" width="16.39" height="14.9" fill="#3356a9"/><rect x="335.3" y="530.09" width="16.39" height="14.9" fill="#2f4ba2"/><rect x="351.69" y="530.09" width="16.39" height="14.9" fill="#3356a9"/><rect x="368.08" y="530.09" width="16.39" height="14.9" fill="#3356a9"/><rect x="384.46" y="530.09" width="16.39" height="14.9" fill="#3356a9"/><rect x="400.85" y="530.09" width="16.39" height="14.9" fill="#3356a9"/><rect x="417.24" y="530.09" width="16.39" height="14.9" fill="#3356a9"/><rect x="433.62" y="530.09" width="16.39" height="14.9" fill="#3356a9"/><rect x="450.01" y="530.09" width="16.39" height="14.9" fill="#3356a9"/><rect x="466.4" y="530.09" width="16.39" height="14.9" fill="#3356a9"/><rect x="482.79" y="530.09" width="16.39" height="14.9" fill="#f3e41d"/><rect x="499.17" y="530.09" width="16.39" height="14.9" fill="#f3e41d"/><rect x="515.56" y="530.09" width="16.39" height="14.9" fill="#cdd52e"/><rect x="531.95" y="530.09" width="16.39" height="14.9" fill="#f3e41d"/><rect x="548.33" y="530.09" width="16.39" height="14.9" fill="#f3e41d"/><rect x="564.72" y="530.09" width="16.39" height="14.9" fill="#8c161b"/><rect x="73.11" y="544.99" width="16.39" height="14.9" fill="#3356a9"/><rect x="89.5" y="544.99" width="16.39" height="14.9" fill="#3356a9"/><rect x="105.88" y="544.99" width="16.39" height="14.9" fill="#3356a9"/><rect x="122.27" y="544.99" width="16.39" height="14.9" fill="#3356a9"/><rect x="138.66" y="544.99" width="16.39" height="14.9" fill="#3356a9"/><rect x="155.05" y="544.99" width="16.39" height="14.9" fill="#3356a9"/><rect x="171.43" y="544.99" width="16.39" height="14.9" fill="#3356a9"/><rect x="187.82" y="544.99" width="16.39" height="14.9" fill="#3356a9"/><rect x="204.21" y="544.99" width="16.39" height="14.9" fill="#3356a9"/><rect x="220.59" y="544.99" width="16.39" height="14.9" fill="#2f4ba2"/><rect x="236.98" y="544.99" width="16.39" height="14.9" fill="#2c4199"/><rect x="253.37" y="544.99" width="16.39" height="14.9" fill="#3356a9"/><rect x="269.75" y="544.99" width="16.39" height="14.9" fill="#3356a9"/><rect x="286.14" y="544.99" width="16.39" height="14.9" fill="#3356a9"/><rect x="302.53" y="544.99" width="16.39" height="14.9" fill="#3356a9"/><rect x="318.92" y="544.99" width="16.39" height="14.9" fill="#3356a9"/><rect x="335.3" y="544.99" width="16.39" height="14.9" fill="#2f4ba2"/><rect x="351.69" y="544.99" width="16.39" height="14.9" fill="#3356a9"/><rect x="368.08" y="544.99" width="16.39" height="14.9" fill="#3356a9"/><rect x="384.46" y="544.99" width="16.39" height="14.9" fill="#3356a9"/><rect x="400.85" y="544.99" width="16.39" height="14.9" fill="#3356a9"/><rect x="417.24" y="544.99" width="16.39" height="14.9" fill="#3356a9"/><rect x="433.62" y="544.99" width="16.39" height="14.9" fill="#3356a9"/><rect x="450.01" y="544.99" width="16.39" height="14.9" fill="#3356a9"/><rect x="466.4" y="544.99" width="16.39" height="14.9" fill="#3356a9"/><rect x="482.79" y="544.99" width="16.39" height="14.9" fill="#aac84c"/><rect x="499.17" y="544.99" width="16.39" height="14.9" fill="#aac84c"/><rect x="515.56" y="544.99" width="16.39" height="14.9" fill="#aac84c"/><rect x="531.95" y="544.99" width="16.39" height="14.9" fill="#aac84c"/><rect x="548.33" y="544.99" width="16.39" height="14.9" fill="#aac84c"/><rect x="564.72" y="544.99" width="16.39" height="14.9" fill="#f04d24"/><rect x="581.11" y="544.99" width="16.39" height="14.9" fill="#8c161b"/><rect x="73.11" y="559.89" width="16.39" height="14.9" fill="#3356a9"/><rect x="89.5" y="559.89" width="16.39" height="14.9" fill="#3356a9"/><rect x="105.88" y="559.89" width="16.39" height="14.9" fill="#3356a9"/><rect x="122.27" y="559.89" width="16.39" height="14.9" fill="#3356a9"/><rect x="138.66" y="559.89" width="16.39" height="14.9" fill="#3356a9"/><rect x="155.05" y="559.89" width="16.39" height="14.9" fill="#3356a9"/><rect x="171.43" y="559.89" width="16.39" height="14.9" fill="#3356a9"/><rect x="187.82" y="559.89" width="16.39" height="14.9" fill="#3356a9"/><rect x="204.21" y="559.89" width="16.39" height="14.9" fill="#3356a9"/><rect x="220.59" y="559.89" width="16.39" height="14.9" fill="#2f4ba2"/><rect x="236.98" y="559.89" width="16.39" height="14.9" fill="#2c4199"/><rect x="253.37" y="559.89" width="16.39" height="14.9" fill="#3356a9"/><rect x="269.75" y="559.89" width="16.39" height="14.9" fill="#3356a9"/><rect x="286.14" y="559.89" width="16.39" height="14.9" fill="#3356a9"/><rect x="302.53" y="559.89" width="16.39" height="14.9" fill="#3356a9"/><rect x="318.92" y="559.89" width="16.39" height="14.9" fill="#3356a9"/><rect x="335.3" y="559.89" width="16.39" height="14.9" fill="#2f4ba2"/><rect x="351.69" y="559.89" width="16.39" height="14.9" fill="#3356a9"/><rect x="368.08" y="559.89" width="16.39" height="14.9" fill="#3356a9"/><rect x="384.46" y="559.89" width="16.39" height="14.9" fill="#3356a9"/><rect x="400.85" y="559.89" width="16.39" height="14.9" fill="#3356a9"/><rect x="417.24" y="559.89" width="16.39" height="14.9" fill="#3356a9"/><rect x="433.62" y="559.89" width="16.39" height="14.9" fill="#3356a9"/><rect x="450.01" y="559.89" width="16.39" height="14.9" fill="#3356a9"/><rect x="466.4" y="559.89" width="16.39" height="14.9" fill="#3356a9"/><rect x="482.79" y="559.89" width="16.39" height="14.9" fill="#f3e41d"/><rect x="499.17" y="559.89" width="16.39" height="14.9" fill="#f3e41d"/><rect x="515.56" y="559.89" width="16.39" height="14.9" fill="#cdd52e"/><rect x="531.95" y="559.89" width="16.39" height="14.9" fill="#f3e41d"/><rect x="548.33" y="559.89" width="16.39" height="14.9" fill="#f3e41d"/><rect x="564.72" y="559.89" width="16.39" height="14.9" fill="#f36f21"/><rect x="581.11" y="559.89" width="16.39" height="14.9" fill="#f04d24"/><rect x="597.49" y="559.89" width="16.39" height="14.9" fill="#8c161b"/><rect x="73.11" y="574.79" width="16.39" height="14.9" fill="#3356a9"/><rect x="89.5" y="574.79" width="16.39" height="14.9" fill="#3356a9"/><rect x="105.88" y="574.79" width="16.39" height="14.9" fill="#3356a9"/><rect x="122.27" y="574.79" width="16.39" height="14.9" fill="#3356a9"/><rect x="138.66" y="574.79" width="16.39" height="14.9" fill="#3356a9"/><rect x="155.05" y="574.79" width="16.39" height="14.9" fill="#3356a9"/><rect x="171.43" y="574.79" width="16.39" height="14.9" fill="#3356a9"/><rect x="187.82" y="574.79" width="16.39" height="14.9" fill="#3356a9"/><rect x="204.21" y="574.79" width="16.39" height="14.9" fill="#3356a9"/><rect x="220.59" y="574.79" width="16.39" height="14.9" fill="#2f4ba2"/><rect x="236.98" y="574.79" width="16.39" height="14.9" fill="#2c4199"/><rect x="253.37" y="574.79" width="16.39" height="14.9" fill="#3356a9"/><rect x="269.75" y="574.79" width="16.39" height="14.9" fill="#3356a9"/><rect x="286.14" y="574.79" width="16.39" height="14.9" fill="#3356a9"/><rect x="302.53" y="574.79" width="16.39" height="14.9" fill="#3356a9"/><rect x="318.92" y="574.79" width="16.39" height="14.9" fill="#3356a9"/><rect x="335.3" y="574.79" width="16.39" height="14.9" fill="#2f4ba2"/><rect x="351.69" y="574.79" width="16.39" height="14.9" fill="#3356a9"/><rect x="368.08" y="574.79" width="16.39" height="14.9" fill="#3356a9"/><rect x="384.46" y="574.79" width="16.39" height="14.9" fill="#3356a9"/><rect x="400.85" y="574.79" width="16.39" height="14.9" fill="#3356a9"/><rect x="417.24" y="574.79" width="16.39" height="14.9" fill="#3356a9"/><rect x="433.62" y="574.79" width="16.39" height="14.9" fill="#3356a9"/><rect x="450.01" y="574.79" width="16.39" height="14.9" fill="#3356a9"/><rect x="466.4" y="574.79" width="16.39" height="14.9" fill="#3356a9"/><rect x="482.79" y="574.79" width="16.39" height="14.9" fill="#f3e41d"/><rect x="499.17" y="574.79" width="16.39" height="14.9" fill="#f3e41d"/><rect x="515.56" y="574.79" width="16.39" height="14.9" fill="#f3e41d"/><rect x="531.95" y="574.79" width="16.39" height="14.9" fill="#f3e41d"/><rect x="548.33" y="574.79" width="16.39" height="14.9" fill="#f3e41d"/><rect x="564.72" y="574.79" width="16.39" height="14.9" fill="#cdd52e"/><rect x="581.11" y="574.79" width="16.39" height="14.9" fill="#cdd52e"/><rect x="597.49" y="574.79" width="16.39" height="14.9" fill="#fdc412"/><rect x="613.88" y="574.79" width="16.39" height="14.9" fill="#8c161b"/><rect x="73.11" y="589.69" width="16.39" height="14.9" fill="#3356a9"/><rect x="89.5" y="589.69" width="16.39" height="14.9" fill="#3356a9"/><rect x="105.88" y="589.69" width="16.39" height="14.9" fill="#3356a9"/><rect x="122.27" y="589.69" width="16.39" height="14.9" fill="#3356a9"/><rect x="138.66" y="589.69" width="16.39" height="14.9" fill="#3356a9"/><rect x="155.05" y="589.69" width="16.39" height="14.9" fill="#3356a9"/><rect x="171.43" y="589.69" width="16.39" height="14.9" fill="#3356a9"/><rect x="187.82" y="589.69" width="16.39" height="14.9" fill="#3356a9"/><rect x="204.21" y="589.69" width="16.39" height="14.9" fill="#3356a9"/><rect x="220.59" y="589.69" width="16.39" height="14.9" fill="#2f4ba2"/><rect x="236.98" y="589.69" width="16.39" height="14.9" fill="#2c4199"/><rect x="253.37" y="589.69" width="16.39" height="14.9" fill="#3356a9"/><rect x="269.75" y="589.69" width="16.39" height="14.9" fill="#3356a9"/><rect x="286.14" y="589.69" width="16.39" height="14.9" fill="#3356a9"/><rect x="302.53" y="589.69" width="16.39" height="14.9" fill="#3356a9"/><rect x="318.92" y="589.69" width="16.39" height="14.9" fill="#3356a9"/><rect x="335.3" y="589.69" width="16.39" height="14.9" fill="#2f4ba2"/><rect x="351.69" y="589.69" width="16.39" height="14.9" fill="#3356a9"/><rect x="368.08" y="589.69" width="16.39" height="14.9" fill="#3356a9"/><rect x="384.46" y="589.69" width="16.39" height="14.9" fill="#3356a9"/><rect x="400.85" y="589.69" width="16.39" height="14.9" fill="#3356a9"/><rect x="417.24" y="589.69" width="16.39" height="14.9" fill="#3356a9"/><rect x="433.62" y="589.69" width="16.39" height="14.9" fill="#3356a9"/><rect x="450.01" y="589.69" width="16.39" height="14.9" fill="#3356a9"/><rect x="466.4" y="589.69" width="16.39" height="14.9" fill="#3356a9"/><rect x="482.79" y="589.69" width="16.39" height="14.9" fill="#f3e41d"/><rect x="499.17" y="589.69" width="16.39" height="14.9" fill="#f3e41d"/><rect x="515.56" y="589.69" width="16.39" height="14.9" fill="#f3e41d"/><rect x="531.95" y="589.69" width="16.39" height="14.9" fill="#f3e41d"/><rect x="548.33" y="589.69" width="16.39" height="14.9" fill="#f3e41d"/><rect x="564.72" y="589.69" width="16.39" height="14.9" fill="#cdd52e"/><rect x="581.11" y="589.69" width="16.39" height="14.9" fill="#cdd52e"/><rect x="597.49" y="589.69" width="16.39" height="14.9" fill="#f8a01c"/><rect x="613.88" y="589.69" width="16.39" height="14.9" fill="#8c161b"/><rect x="630.27" y="589.69" width="16.39" height="14.9" fill="#8c161b"/><rect x="73.11" y="604.58" width="16.39" height="14.9" fill="#3356a9"/><rect x="89.5" y="604.58" width="16.39" height="14.9" fill="#3356a9"/><rect x="105.88" y="604.58" width="16.39" height="14.9" fill="#3356a9"/><rect x="122.27" y="604.58" width="16.39" height="14.9" fill="#3356a9"/><rect x="138.66" y="604.58" width="16.39" height="14.9" fill="#3356a9"/><rect x="155.05" y="604.58" width="16.39" height="14.9" fill="#3356a9"/><rect x="171.43" y="604.58" width="16.39" height="14.9" fill="#3356a9"/><rect x="187.82" y="604.58" width="16.39" height="14.9" fill="#3356a9"/><rect x="204.21" y="604.58" width="16.39" height="14.9" fill="#3356a9"/><rect x="220.59" y="604.58" width="16.39" height="14.9" fill="#2f4ba2"/><rect x="236.98" y="604.58" width="16.39" height="14.9" fill="#2c4199"/><rect x="253.37" y="604.58" width="16.39" height="14.9" fill="#3356a9"/><rect x="269.75" y="604.58" width="16.39" height="14.9" fill="#3356a9"/><rect x="286.14" y="604.58" width="16.39" height="14.9" fill="#3356a9"/><rect x="302.53" y="604.58" width="16.39" height="14.9" fill="#3356a9"/><rect x="318.92" y="604.58" width="16.39" height="14.9" fill="#3356a9"/><rect x="335.3" y="604.58" width="16.39" height="14.9" fill="#2f4ba2"/><rect x="351.69" y="604.58" width="16.39" height="14.9" fill="#3356a9"/><rect x="368.08" y="604.58" width="16.39" height="14.9" fill="#3356a9"/><rect x="384.46" y="604.58" width="16.39" height="14.9" fill="#3356a9"/><rect x="400.85" y="604.58" width="16.39" height="14.9" fill="#3356a9"/><rect x="417.24" y="604.58" width="16.39" height="14.9" fill="#3356a9"/><rect x="433.62" y="604.58" width="16.39" height="14.9" fill="#3356a9"/><rect x="450.01" y="604.58" width="16.39" height="14.9" fill="#3356a9"/><rect x="466.4" y="604.58" width="16.39" height="14.9" fill="#3356a9"/><rect x="482.79" y="604.58" width="16.39" height="14.9" fill="#f3e41d"/><rect x="499.17" y="604.58" width="16.39" height="14.9" fill="#f3e41d"/><rect x="515.56" y="604.58" width="16.39" height="14.9" fill="#f3e41d"/><rect x="531.95" y="604.58" width="16.39" height="14.9" fill="#f3e41d"/><rect x="548.33" y="604.58" width="16.39" height="14.9" fill="#f3e41d"/><rect x="564.72" y="604.58" width="16.39" height="14.9" fill="#cdd52e"/><rect x="581.11" y="604.58" width="16.39" height="14.9" fill="#cdd52e"/><rect x="597.49" y="604.58" width="16.39" height="14.9" fill="#fdc412"/><rect x="613.88" y="604.58" width="16.39" height="14.9" fill="#9c1a1f"/><rect x="630.27" y="604.58" width="16.39" height="14.9" fill="#9c1a1f"/><rect x="646.66" y="604.58" width="16.39" height="14.9" fill="#8c161b"/><rect x="73.11" y="619.48" width="16.39" height="14.9" fill="#3356a9"/><rect x="89.5" y="619.48" width="16.39" height="14.9" fill="#3356a9"/><rect x="105.88" y="619.48" width="16.39" height="14.9" fill="#3356a9"/><rect x="122.27" y="619.48" width="16.39" height="14.9" fill="#3356a9"/><rect x="138.66" y="619.48" width="16.39" height="14.9" fill="#3356a9"/><rect x="155.05" y="619.48" width="16.39" height="14.9" fill="#3356a9"/><rect x="171.43" y="619.48" width="16.39" height="14.9" fill="#3356a9"/><rect x="187.82" y="619.48" width="16.39" height="14.9" fill="#3356a9"/><rect x="204.21" y="619.48" width="16.39" height="14.9" fill="#3356a9"/><rect x="220.59" y="619.48" width="16.39" height="14.9" fill="#2f4ba2"/><rect x="236.98" y="619.48" width="16.39" height="14.9" fill="#2c4199"/><rect x="253.37" y="619.48" width="16.39" height="14.9" fill="#3356a9"/><rect x="269.75" y="619.48" width="16.39" height="14.9" fill="#3356a9"/><rect x="286.14" y="619.48" width="16.39" height="14.9" fill="#3356a9"/><rect x="302.53" y="619.48" width="16.39" height="14.9" fill="#3356a9"/><rect x="318.92" y="619.48" width="16.39" height="14.9" fill="#3356a9"/><rect x="335.3" y="619.48" width="16.39" height="14.9" fill="#2f4ba2"/><rect x="351.69" y="619.48" width="16.39" height="14.9" fill="#3356a9"/><rect x="368.08" y="619.48" width="16.39" height="14.9" fill="#3356a9"/><rect x="384.46" y="619.48" width="16.39" height="14.9" fill="#3356a9"/><rect x="400.85" y="619.48" width="16.39" height="14.9" fill="#3356a9"/><rect x="417.24" y="619.48" width="16.39" height="14.9" fill="#3356a9"/><rect x="433.62" y="619.48" width="16.39" height="14.9" fill="#3356a9"/><rect x="450.01" y="619.48" width="16.39" height="14.9" fill="#3356a9"/><rect x="466.4" y="619.48" width="16.39" height="14.9" fill="#3356a9"/><rect x="482.79" y="619.48" width="16.39" height="14.9" fill="#5dc4d2"/><rect x="499.17" y="619.48" width="16.39" height="14.9" fill="#5dc4d2"/><rect x="515.56" y="619.48" width="16.39" height="14.9" fill="#5dc4d2"/><rect x="531.95" y="619.48" width="16.39" height="14.9" fill="#5dc4d2"/><rect x="548.33" y="619.48" width="16.39" height="14.9" fill="#5dc4d2"/><rect x="564.72" y="619.48" width="16.39" height="14.9" fill="#5ac6e2"/><rect x="581.11" y="619.48" width="16.39" height="14.9" fill="#5ac6e2"/><rect x="597.49" y="619.48" width="16.39" height="14.9" fill="#5ac6e2"/><rect x="613.88" y="619.48" width="16.39" height="14.9" fill="#68c6c6"/><rect x="630.27" y="619.48" width="16.39" height="14.9" fill="#68c6c6"/><rect x="646.66" y="619.48" width="16.39" height="14.9" fill="#68c6c6"/><rect x="663.04" y="619.48" width="16.39" height="14.9" fill="#8c161b"/><rect x="73.11" y="634.38" width="16.39" height="14.9" fill="#3356a9"/><rect x="89.5" y="634.38" width="16.39" height="14.9" fill="#3356a9"/><rect x="105.88" y="634.38" width="16.39" height="14.9" fill="#3356a9"/><rect x="122.27" y="634.38" width="16.39" height="14.9" fill="#3356a9"/><rect x="138.66" y="634.38" width="16.39" height="14.9" fill="#3356a9"/><rect x="155.05" y="634.38" width="16.39" height="14.9" fill="#3356a9"/><rect x="171.43" y="634.38" width="16.39" height="14.9" fill="#3356a9"/><rect x="187.82" y="634.38" width="16.39" height="14.9" fill="#3356a9"/><rect x="204.21" y="634.38" width="16.39" height="14.9" fill="#3356a9"/><rect x="220.59" y="634.38" width="16.39" height="14.9" fill="#2f4ba2"/><rect x="236.98" y="634.38" width="16.39" height="14.9" fill="#2c4199"/><rect x="253.37" y="634.38" width="16.39" height="14.9" fill="#3356a9"/><rect x="269.75" y="634.38" width="16.39" height="14.9" fill="#3356a9"/><rect x="286.14" y="634.38" width="16.39" height="14.9" fill="#3356a9"/><rect x="302.53" y="634.38" width="16.39" height="14.9" fill="#3356a9"/><rect x="318.92" y="634.38" width="16.39" height="14.9" fill="#3356a9"/><rect x="335.3" y="634.38" width="16.39" height="14.9" fill="#2f4ba2"/><rect x="351.69" y="634.38" width="16.39" height="14.9" fill="#3356a9"/><rect x="368.08" y="634.38" width="16.39" height="14.9" fill="#3356a9"/><rect x="384.46" y="634.38" width="16.39" height="14.9" fill="#3356a9"/><rect x="400.85" y="634.38" width="16.39" height="14.9" fill="#3356a9"/><rect x="417.24" y="634.38" width="16.39" height="14.9" fill="#3356a9"/><rect x="433.62" y="634.38" width="16.39" height="14.9" fill="#3356a9"/><rect x="450.01" y="634.38" width="16.39" height="14.9" fill="#3356a9"/><rect x="466.4" y="634.38" width="16.39" height="14.9" fill="#3356a9"/><rect x="482.79" y="634.38" width="16.39" height="14.9" fill="#5dc4d2"/><rect x="499.17" y="634.38" width="16.39" height="14.9" fill="#5dc4d2"/><rect x="515.56" y="634.38" width="16.39" height="14.9" fill="#5dc4d2"/><rect x="531.95" y="634.38" width="16.39" height="14.9" fill="#5dc4d2"/><rect x="548.33" y="634.38" width="16.39" height="14.9" fill="#5dc4d2"/><rect x="564.72" y="634.38" width="16.39" height="14.9" fill="#5ac6e2"/><rect x="581.11" y="634.38" width="16.39" height="14.9" fill="#5ac6e2"/><rect x="597.49" y="634.38" width="16.39" height="14.9" fill="#5ac6e2"/><rect x="613.88" y="634.38" width="16.39" height="14.9" fill="#68c6c6"/><rect x="630.27" y="634.38" width="16.39" height="14.9" fill="#68c6c6"/><rect x="646.66" y="634.38" width="16.39" height="14.9" fill="#68c6c6"/><rect x="663.04" y="634.38" width="16.39" height="14.9" fill="#8c161b"/><rect x="679.43" y="634.38" width="16.39" height="14.9" fill="#8c161b"/><rect x="73.11" y="649.28" width="16.39" height="14.9" fill="#3356a9"/><rect x="89.5" y="649.28" width="16.39" height="14.9" fill="#3356a9"/><rect x="105.88" y="649.28" width="16.39" height="14.9" fill="#3356a9"/><rect x="122.27" y="649.28" width="16.39" height="14.9" fill="#3356a9"/><rect x="138.66" y="649.28" width="16.39" height="14.9" fill="#3356a9"/><rect x="155.05" y="649.28" width="16.39" height="14.9" fill="#3356a9"/><rect x="171.43" y="649.28" width="16.39" height="14.9" fill="#3356a9"/><rect x="187.82" y="649.28" width="16.39" height="14.9" fill="#3356a9"/><rect x="204.21" y="649.28" width="16.39" height="14.9" fill="#3356a9"/><rect x="220.59" y="649.28" width="16.39" height="14.9" fill="#2f4ba2"/><rect x="236.98" y="649.28" width="16.39" height="14.9" fill="#2c4199"/><rect x="253.37" y="649.28" width="16.39" height="14.9" fill="#3356a9"/><rect x="269.75" y="649.28" width="16.39" height="14.9" fill="#3356a9"/><rect x="286.14" y="649.28" width="16.39" height="14.9" fill="#3356a9"/><rect x="302.53" y="649.28" width="16.39" height="14.9" fill="#3356a9"/><rect x="318.92" y="649.28" width="16.39" height="14.9" fill="#3356a9"/><rect x="335.3" y="649.28" width="16.39" height="14.9" fill="#2f4ba2"/><rect x="351.69" y="649.28" width="16.39" height="14.9" fill="#3356a9"/><rect x="368.08" y="649.28" width="16.39" height="14.9" fill="#3356a9"/><rect x="384.46" y="649.28" width="16.39" height="14.9" fill="#3356a9"/><rect x="400.85" y="649.28" width="16.39" height="14.9" fill="#3356a9"/><rect x="417.24" y="649.28" width="16.39" height="14.9" fill="#3356a9"/><rect x="433.62" y="649.28" width="16.39" height="14.9" fill="#3356a9"/><rect x="450.01" y="649.28" width="16.39" height="14.9" fill="#3356a9"/><rect x="466.4" y="649.28" width="16.39" height="14.9" fill="#3356a9"/><rect x="482.79" y="649.28" width="16.39" height="14.9" fill="#5dc4d2"/><rect x="499.17" y="649.28" width="16.39" height="14.9" fill="#5dc4d2"/><rect x="515.56" y="649.28" width="16.39" height="14.9" fill="#5dc4d2"/><rect x="531.95" y="649.28" width="16.39" height="14.9" fill="#5dc4d2"/><rect x="548.33" y="649.28" width="16.39" height="14.9" fill="#5dc4d2"/><rect x="564.72" y="649.28" width="16.39" height="14.9" fill="#5ac6e2"/><rect x="581.11" y="649.28" width="16.39" height="14.9" fill="#5ac6e2"/><rect x="597.49" y="649.28" width="16.39" height="14.9" fill="#5ac6e2"/><rect x="613.88" y="649.28" width="16.39" height="14.9" fill="#68c6c6"/><rect x="630.27" y="649.28" width="16.39" height="14.9" fill="#68c6c6"/><rect x="646.66" y="649.28" width="16.39" height="14.9" fill="#68c6c6"/><rect x="663.04" y="649.28" width="16.39" height="14.9" fill="#ee3626"/><rect x="679.43" y="649.28" width="16.39" height="14.9" fill="#ee3626"/><rect x="695.82" y="649.28" width="16.39" height="14.9" fill="#8c161b"/><rect x="73.11" y="664.18" width="16.39" height="14.9" fill="#3356a9"/><rect x="89.5" y="664.18" width="16.39" height="14.9" fill="#3356a9"/><rect x="105.88" y="664.18" width="16.39" height="14.9" fill="#3356a9"/><rect x="122.27" y="664.18" width="16.39" height="14.9" fill="#3356a9"/><rect x="138.66" y="664.18" width="16.39" height="14.9" fill="#3356a9"/><rect x="155.05" y="664.18" width="16.39" height="14.9" fill="#3356a9"/><rect x="171.43" y="664.18" width="16.39" height="14.9" fill="#3356a9"/><rect x="187.82" y="664.18" width="16.39" height="14.9" fill="#3356a9"/><rect x="204.21" y="664.18" width="16.39" height="14.9" fill="#3356a9"/><rect x="220.59" y="664.18" width="16.39" height="14.9" fill="#2f4ba2"/><rect x="236.98" y="664.18" width="16.39" height="14.9" fill="#2c4199"/><rect x="253.37" y="664.18" width="16.39" height="14.9" fill="#3356a9"/><rect x="269.75" y="664.18" width="16.39" height="14.9" fill="#3356a9"/><rect x="286.14" y="664.18" width="16.39" height="14.9" fill="#3356a9"/><rect x="302.53" y="664.18" width="16.39" height="14.9" fill="#3356a9"/><rect x="318.92" y="664.18" width="16.39" height="14.9" fill="#3356a9"/><rect x="335.3" y="664.18" width="16.39" height="14.9" fill="#2f4ba2"/><rect x="351.69" y="664.18" width="16.39" height="14.9" fill="#3356a9"/><rect x="368.08" y="664.18" width="16.39" height="14.9" fill="#3356a9"/><rect x="384.46" y="664.18" width="16.39" height="14.9" fill="#3356a9"/><rect x="400.85" y="664.18" width="16.39" height="14.9" fill="#3356a9"/><rect x="417.24" y="664.18" width="16.39" height="14.9" fill="#3356a9"/><rect x="433.62" y="664.18" width="16.39" height="14.9" fill="#3356a9"/><rect x="450.01" y="664.18" width="16.39" height="14.9" fill="#3356a9"/><rect x="466.4" y="664.18" width="16.39" height="14.9" fill="#3356a9"/><rect x="482.79" y="664.18" width="16.39" height="14.9" fill="#4193d9"/><rect x="499.17" y="664.18" width="16.39" height="14.9" fill="#4193d9"/><rect x="515.56" y="664.18" width="16.39" height="14.9" fill="#4193d9"/><rect x="531.95" y="664.18" width="16.39" height="14.9" fill="#4193d9"/><rect x="548.33" y="664.18" width="16.39" height="14.9" fill="#4193d9"/><rect x="564.72" y="664.18" width="16.39" height="14.9" fill="#4193d9"/><rect x="581.11" y="664.18" width="16.39" height="14.9" fill="#4193d9"/><rect x="597.49" y="664.18" width="16.39" height="14.9" fill="#4193d9"/><rect x="613.88" y="664.18" width="16.39" height="14.9" fill="#40beeb"/><rect x="630.27" y="664.18" width="16.39" height="14.9" fill="#40beeb"/><rect x="646.66" y="664.18" width="16.39" height="14.9" fill="#40beeb"/><rect x="663.04" y="664.18" width="16.39" height="14.9" fill="#40beeb"/><rect x="679.43" y="664.18" width="16.39" height="14.9" fill="#40beeb"/><rect x="695.82" y="664.18" width="16.39" height="14.9" fill="#40beeb"/><rect x="712.2" y="664.18" width="16.39" height="14.9" fill="#8c161b"/><rect x="73.11" y="679.08" width="16.39" height="14.9" fill="#3356a9"/><rect x="89.5" y="679.08" width="16.39" height="14.9" fill="#3356a9"/><rect x="105.88" y="679.08" width="16.39" height="14.9" fill="#3356a9"/><rect x="122.27" y="679.08" width="16.39" height="14.9" fill="#3356a9"/><rect x="138.66" y="679.08" width="16.39" height="14.9" fill="#3356a9"/><rect x="155.05" y="679.08" width="16.39" height="14.9" fill="#3356a9"/><rect x="171.43" y="679.08" width="16.39" height="14.9" fill="#3356a9"/><rect x="187.82" y="679.08" width="16.39" height="14.9" fill="#3356a9"/><rect x="204.21" y="679.08" width="16.39" height="14.9" fill="#3356a9"/><rect x="220.59" y="679.08" width="16.39" height="14.9" fill="#2f4ba2"/><rect x="236.98" y="679.08" width="16.39" height="14.9" fill="#2c4199"/><rect x="253.37" y="679.08" width="16.39" height="14.9" fill="#3356a9"/><rect x="269.75" y="679.08" width="16.39" height="14.9" fill="#3356a9"/><rect x="286.14" y="679.08" width="16.39" height="14.9" fill="#3356a9"/><rect x="302.53" y="679.08" width="16.39" height="14.9" fill="#3356a9"/><rect x="318.92" y="679.08" width="16.39" height="14.9" fill="#3356a9"/><rect x="335.3" y="679.08" width="16.39" height="14.9" fill="#2f4ba2"/><rect x="351.69" y="679.08" width="16.39" height="14.9" fill="#3356a9"/><rect x="368.08" y="679.08" width="16.39" height="14.9" fill="#3356a9"/><rect x="384.46" y="679.08" width="16.39" height="14.9" fill="#3356a9"/><rect x="400.85" y="679.08" width="16.39" height="14.9" fill="#3356a9"/><rect x="417.24" y="679.08" width="16.39" height="14.9" fill="#3356a9"/><rect x="433.62" y="679.08" width="16.39" height="14.9" fill="#3356a9"/><rect x="450.01" y="679.08" width="16.39" height="14.9" fill="#3356a9"/><rect x="466.4" y="679.08" width="16.39" height="14.9" fill="#3356a9"/><rect x="482.79" y="679.08" width="16.39" height="14.9" fill="#4193d9"/><rect x="499.17" y="679.08" width="16.39" height="14.9" fill="#4193d9"/><rect x="515.56" y="679.08" width="16.39" height="14.9" fill="#4193d9"/><rect x="531.95" y="679.08" width="16.39" height="14.9" fill="#4193d9"/><rect x="548.33" y="679.08" width="16.39" height="14.9" fill="#4193d9"/><rect x="564.72" y="679.08" width="16.39" height="14.9" fill="#4193d9"/><rect x="581.11" y="679.08" width="16.39" height="14.9" fill="#4193d9"/><rect x="597.49" y="679.08" width="16.39" height="14.9" fill="#4193d9"/><rect x="613.88" y="679.08" width="16.39" height="14.9" fill="#40beeb"/><rect x="630.27" y="679.08" width="16.39" height="14.9" fill="#40beeb"/><rect x="646.66" y="679.08" width="16.39" height="14.9" fill="#40beeb"/><rect x="663.04" y="679.08" width="16.39" height="14.9" fill="#3ca1e1"/><rect x="679.43" y="679.08" width="16.39" height="14.9" fill="#3ca1e1"/><rect x="695.82" y="679.08" width="16.39" height="14.9" fill="#40beeb"/><rect x="712.2" y="679.08" width="16.39" height="14.9" fill="#ec2227"/><rect x="728.59" y="679.08" width="16.39" height="14.9" fill="#8c161b"/><rect x="73.11" y="693.98" width="16.39" height="14.9" fill="#3356a9"/><rect x="89.5" y="693.98" width="16.39" height="14.9" fill="#3356a9"/><rect x="105.88" y="693.98" width="16.39" height="14.9" fill="#3356a9"/><rect x="122.27" y="693.98" width="16.39" height="14.9" fill="#3356a9"/><rect x="138.66" y="693.98" width="16.39" height="14.9" fill="#3356a9"/><rect x="155.05" y="693.98" width="16.39" height="14.9" fill="#3356a9"/><rect x="171.43" y="693.98" width="16.39" height="14.9" fill="#3356a9"/><rect x="187.82" y="693.98" width="16.39" height="14.9" fill="#3356a9"/><rect x="204.21" y="693.98" width="16.39" height="14.9" fill="#3356a9"/><rect x="220.59" y="693.98" width="16.39" height="14.9" fill="#2f4ba2"/><rect x="236.98" y="693.98" width="16.39" height="14.9" fill="#2c4199"/><rect x="253.37" y="693.98" width="16.39" height="14.9" fill="#3356a9"/><rect x="269.75" y="693.98" width="16.39" height="14.9" fill="#3356a9"/><rect x="286.14" y="693.98" width="16.39" height="14.9" fill="#3356a9"/><rect x="302.53" y="693.98" width="16.39" height="14.9" fill="#3356a9"/><rect x="318.92" y="693.98" width="16.39" height="14.9" fill="#3356a9"/><rect x="335.3" y="693.98" width="16.39" height="14.9" fill="#2f4ba2"/><rect x="351.69" y="693.98" width="16.39" height="14.9" fill="#3356a9"/><rect x="368.08" y="693.98" width="16.39" height="14.9" fill="#3356a9"/><rect x="384.46" y="693.98" width="16.39" height="14.9" fill="#3356a9"/><rect x="400.85" y="693.98" width="16.39" height="14.9" fill="#3356a9"/><rect x="417.24" y="693.98" width="16.39" height="14.9" fill="#3356a9"/><rect x="433.62" y="693.98" width="16.39" height="14.9" fill="#3356a9"/><rect x="450.01" y="693.98" width="16.39" height="14.9" fill="#3356a9"/><rect x="466.4" y="693.98" width="16.39" height="14.9" fill="#3356a9"/><rect x="482.79" y="693.98" width="16.39" height="14.9" fill="#4193d9"/><rect x="499.17" y="693.98" width="16.39" height="14.9" fill="#4193d9"/><rect x="515.56" y="693.98" width="16.39" height="14.9" fill="#4193d9"/><rect x="531.95" y="693.98" width="16.39" height="14.9" fill="#4193d9"/><rect x="548.33" y="693.98" width="16.39" height="14.9" fill="#4193d9"/><rect x="564.72" y="693.98" width="16.39" height="14.9" fill="#4193d9"/><rect x="581.11" y="693.98" width="16.39" height="14.9" fill="#4193d9"/><rect x="597.49" y="693.98" width="16.39" height="14.9" fill="#4193d9"/><rect x="613.88" y="693.98" width="16.39" height="14.9" fill="#40beeb"/><rect x="630.27" y="693.98" width="16.39" height="14.9" fill="#40beeb"/><rect x="646.66" y="693.98" width="16.39" height="14.9" fill="#40beeb"/><rect x="663.04" y="693.98" width="16.39" height="14.9" fill="#3ca1e1"/><rect x="679.43" y="693.98" width="16.39" height="14.9" fill="#40beeb"/><rect x="695.82" y="693.98" width="16.39" height="14.9" fill="#40beeb"/><rect x="712.2" y="693.98" width="16.39" height="14.9" fill="#ee3626"/><rect x="728.59" y="693.98" width="16.39" height="14.9" fill="#ee3626"/><rect x="744.98" y="693.98" width="16.39" height="14.9" fill="#8c161b"/><rect x="73.11" y="708.88" width="16.39" height="14.9" fill="#3356a9"/><rect x="89.5" y="708.88" width="16.39" height="14.9" fill="#3356a9"/><rect x="105.88" y="708.88" width="16.39" height="14.9" fill="#3356a9"/><rect x="122.27" y="708.88" width="16.39" height="14.9" fill="#3356a9"/><rect x="138.66" y="708.88" width="16.39" height="14.9" fill="#3356a9"/><rect x="155.05" y="708.88" width="16.39" height="14.9" fill="#3356a9"/><rect x="171.43" y="708.88" width="16.39" height="14.9" fill="#3356a9"/><rect x="187.82" y="708.88" width="16.39" height="14.9" fill="#3356a9"/><rect x="204.21" y="708.88" width="16.39" height="14.9" fill="#3356a9"/><rect x="220.59" y="708.88" width="16.39" height="14.9" fill="#2f4ba2"/><rect x="236.98" y="708.88" width="16.39" height="14.9" fill="#2f4ba2"/><rect x="253.37" y="708.88" width="16.39" height="14.9" fill="#3356a9"/><rect x="269.75" y="708.88" width="16.39" height="14.9" fill="#2f4ba2"/><rect x="286.14" y="708.88" width="16.39" height="14.9" fill="#2f4ba2"/><rect x="302.53" y="708.88" width="16.39" height="14.9" fill="#3356a9"/><rect x="318.92" y="708.88" width="16.39" height="14.9" fill="#2f4ba2"/><rect x="335.3" y="708.88" width="16.39" height="14.9" fill="#2f4ba2"/><rect x="351.69" y="708.88" width="16.39" height="14.9" fill="#3356a9"/><rect x="368.08" y="708.88" width="16.39" height="14.9" fill="#3356a9"/><rect x="384.46" y="708.88" width="16.39" height="14.9" fill="#3356a9"/><rect x="400.85" y="708.88" width="16.39" height="14.9" fill="#3356a9"/><rect x="417.24" y="708.88" width="16.39" height="14.9" fill="#3356a9"/><rect x="433.62" y="708.88" width="16.39" height="14.9" fill="#3356a9"/><rect x="450.01" y="708.88" width="16.39" height="14.9" fill="#3356a9"/><rect x="466.4" y="708.88" width="16.39" height="14.9" fill="#3356a9"/><rect x="482.79" y="708.88" width="16.39" height="14.9" fill="#3356a9"/><rect x="499.17" y="708.88" width="16.39" height="14.9" fill="#3356a9"/><rect x="515.56" y="708.88" width="16.39" height="14.9" fill="#3356a9"/><rect x="531.95" y="708.88" width="16.39" height="14.9" fill="#3356a9"/><rect x="548.33" y="708.88" width="16.39" height="14.9" fill="#3356a9"/><rect x="564.72" y="708.88" width="16.39" height="14.9" fill="#3356a9"/><rect x="581.11" y="708.88" width="16.39" height="14.9" fill="#3356a9"/><rect x="597.49" y="708.88" width="16.39" height="14.9" fill="#3356a9"/><rect x="613.88" y="708.88" width="16.39" height="14.9" fill="#3356a9"/><rect x="630.27" y="708.88" width="16.39" height="14.9" fill="#3356a9"/><rect x="646.66" y="708.88" width="16.39" height="14.9" fill="#3356a9"/><rect x="663.04" y="708.88" width="16.39" height="14.9" fill="#3356a9"/><rect x="679.43" y="708.88" width="16.39" height="14.9" fill="#3356a9"/><rect x="695.82" y="708.88" width="16.39" height="14.9" fill="#3356a9"/><rect x="712.2" y="708.88" width="16.39" height="14.9" fill="#3356a9"/><rect x="728.59" y="708.88" width="16.39" height="14.9" fill="#3356a9"/><rect x="744.98" y="708.88" width="16.39" height="14.9" fill="#3356a9"/><rect x="761.36" y="708.88" width="16.39" height="14.9" fill="#8c161b"/><rect x="73.11" y="723.78" width="16.39" height="14.9" fill="#3356a9"/><rect x="89.5" y="723.78" width="16.39" height="14.9" fill="#3356a9"/><rect x="105.88" y="723.78" width="16.39" height="14.9" fill="#3356a9"/><rect x="122.27" y="723.78" width="16.39" height="14.9" fill="#3356a9"/><rect x="138.66" y="723.78" width="16.39" height="14.9" fill="#3356a9"/><rect x="155.05" y="723.78" width="16.39" height="14.9" fill="#3356a9"/><rect x="171.43" y="723.78" width="16.39" height="14.9" fill="#3356a9"/><rect x="187.82" y="723.78" width="16.39" height="14.9" fill="#3356a9"/><rect x="204.21" y="723.78" width="16.39" height="14.9" fill="#3356a9"/><rect x="220.59" y="723.78" width="16.39" height="14.9" fill="#2f4ba2"/><rect x="236.98" y="723.78" width="16.39" height="14.9" fill="#2f4ba2"/><rect x="253.37" y="723.78" width="16.39" height="14.9" fill="#3356a9"/><rect x="269.75" y="723.78" width="16.39" height="14.9" fill="#2f4ba2"/><rect x="286.14" y="723.78" width="16.39" height="14.9" fill="#2f4ba2"/><rect x="302.53" y="723.78" width="16.39" height="14.9" fill="#3356a9"/><rect x="318.92" y="723.78" width="16.39" height="14.9" fill="#2f4ba2"/><rect x="335.3" y="723.78" width="16.39" height="14.9" fill="#2f4ba2"/><rect x="351.69" y="723.78" width="16.39" height="14.9" fill="#3356a9"/><rect x="368.08" y="723.78" width="16.39" height="14.9" fill="#3356a9"/><rect x="384.46" y="723.78" width="16.39" height="14.9" fill="#3356a9"/><rect x="400.85" y="723.78" width="16.39" height="14.9" fill="#3356a9"/><rect x="417.24" y="723.78" width="16.39" height="14.9" fill="#3356a9"/><rect x="433.62" y="723.78" width="16.39" height="14.9" fill="#3356a9"/><rect x="450.01" y="723.78" width="16.39" height="14.9" fill="#3356a9"/><rect x="466.4" y="723.78" width="16.39" height="14.9" fill="#3356a9"/><rect x="482.79" y="723.78" width="16.39" height="14.9" fill="#3356a9"/><rect x="499.17" y="723.78" width="16.39" height="14.9" fill="#3356a9"/><rect x="515.56" y="723.78" width="16.39" height="14.9" fill="#3356a9"/><rect x="531.95" y="723.78" width="16.39" height="14.9" fill="#3356a9"/><rect x="548.33" y="723.78" width="16.39" height="14.9" fill="#3356a9"/><rect x="564.72" y="723.78" width="16.39" height="14.9" fill="#3356a9"/><rect x="581.11" y="723.78" width="16.39" height="14.9" fill="#3356a9"/><rect x="597.49" y="723.78" width="16.39" height="14.9" fill="#3356a9"/><rect x="613.88" y="723.78" width="16.39" height="14.9" fill="#3356a9"/><rect x="630.27" y="723.78" width="16.39" height="14.9" fill="#3356a9"/><rect x="646.66" y="723.78" width="16.39" height="14.9" fill="#3356a9"/><rect x="663.04" y="723.78" width="16.39" height="14.9" fill="#3356a9"/><rect x="679.43" y="723.78" width="16.39" height="14.9" fill="#3356a9"/><rect x="695.82" y="723.78" width="16.39" height="14.9" fill="#3356a9"/><rect x="712.2" y="723.78" width="16.39" height="14.9" fill="#3356a9"/><rect x="728.59" y="723.78" width="16.39" height="14.9" fill="#3356a9"/><rect x="744.98" y="723.78" width="16.39" height="14.9" fill="#3356a9"/><rect x="761.36" y="723.78" width="16.39" height="14.9" fill="#d21f27"/><rect x="777.75" y="723.78" width="16.39" height="14.9" fill="#8c161b"/><rect x="73.11" y="738.68" width="16.39" height="14.9" fill="#3356a9"/><rect x="89.5" y="738.68" width="16.39" height="14.9" fill="#3356a9"/><rect x="105.88" y="738.68" width="16.39" height="14.9" fill="#3356a9"/><rect x="122.27" y="738.68" width="16.39" height="14.9" fill="#3356a9"/><rect x="138.66" y="738.68" width="16.39" height="14.9" fill="#3356a9"/><rect x="155.05" y="738.68" width="16.39" height="14.9" fill="#3356a9"/><rect x="171.43" y="738.68" width="16.39" height="14.9" fill="#3356a9"/><rect x="187.82" y="738.68" width="16.39" height="14.9" fill="#3356a9"/><rect x="204.21" y="738.68" width="16.39" height="14.9" fill="#3356a9"/><rect x="220.59" y="738.68" width="16.39" height="14.9" fill="#2f4ba2"/><rect x="236.98" y="738.68" width="16.39" height="14.9" fill="#2f4ba2"/><rect x="253.37" y="738.68" width="16.39" height="14.9" fill="#3356a9"/><rect x="269.75" y="738.68" width="16.39" height="14.9" fill="#2f4ba2"/><rect x="286.14" y="738.68" width="16.39" height="14.9" fill="#2f4ba2"/><rect x="302.53" y="738.68" width="16.39" height="14.9" fill="#3356a9"/><rect x="318.92" y="738.68" width="16.39" height="14.9" fill="#2f4ba2"/><rect x="335.3" y="738.68" width="16.39" height="14.9" fill="#2f4ba2"/><rect x="351.69" y="738.68" width="16.39" height="14.9" fill="#3356a9"/><rect x="368.08" y="738.68" width="16.39" height="14.9" fill="#3356a9"/><rect x="384.46" y="738.68" width="16.39" height="14.9" fill="#3356a9"/><rect x="400.85" y="738.68" width="16.39" height="14.9" fill="#3356a9"/><rect x="417.24" y="738.68" width="16.39" height="14.9" fill="#3356a9"/><rect x="433.62" y="738.68" width="16.39" height="14.9" fill="#3356a9"/><rect x="450.01" y="738.68" width="16.39" height="14.9" fill="#3356a9"/><rect x="466.4" y="738.68" width="16.39" height="14.9" fill="#3356a9"/><rect x="482.79" y="738.68" width="16.39" height="14.9" fill="#3356a9"/><rect x="499.17" y="738.68" width="16.39" height="14.9" fill="#3356a9"/><rect x="515.56" y="738.68" width="16.39" height="14.9" fill="#3356a9"/><rect x="531.95" y="738.68" width="16.39" height="14.9" fill="#3356a9"/><rect x="548.33" y="738.68" width="16.39" height="14.9" fill="#3356a9"/><rect x="564.72" y="738.68" width="16.39" height="14.9" fill="#3356a9"/><rect x="581.11" y="738.68" width="16.39" height="14.9" fill="#3356a9"/><rect x="597.49" y="738.68" width="16.39" height="14.9" fill="#3356a9"/><rect x="613.88" y="738.68" width="16.39" height="14.9" fill="#3356a9"/><rect x="630.27" y="738.68" width="16.39" height="14.9" fill="#3356a9"/><rect x="646.66" y="738.68" width="16.39" height="14.9" fill="#3356a9"/><rect x="663.04" y="738.68" width="16.39" height="14.9" fill="#3356a9"/><rect x="679.43" y="738.68" width="16.39" height="14.9" fill="#3356a9"/><rect x="695.82" y="738.68" width="16.39" height="14.9" fill="#3356a9"/><rect x="712.2" y="738.68" width="16.39" height="14.9" fill="#3356a9"/><rect x="728.59" y="738.68" width="16.39" height="14.9" fill="#3356a9"/><rect x="744.98" y="738.68" width="16.39" height="14.9" fill="#3356a9"/><rect x="761.36" y="738.68" width="16.39" height="14.9" fill="#ec2227"/><rect x="777.75" y="738.68" width="16.39" height="14.9" fill="#ec2227"/><rect x="794.14" y="738.68" width="16.39" height="14.9" fill="#8c161b"/><rect x="73.11" y="753.57" width="16.39" height="14.9" fill="#3356a9"/><rect x="89.5" y="753.57" width="16.39" height="14.9" fill="#3356a9"/><rect x="105.88" y="753.57" width="16.39" height="14.9" fill="#3356a9"/><rect x="122.27" y="753.57" width="16.39" height="14.9" fill="#3356a9"/><rect x="138.66" y="753.57" width="16.39" height="14.9" fill="#3356a9"/><rect x="155.05" y="753.57" width="16.39" height="14.9" fill="#3356a9"/><rect x="171.43" y="753.57" width="16.39" height="14.9" fill="#3356a9"/><rect x="187.82" y="753.57" width="16.39" height="14.9" fill="#3356a9"/><rect x="204.21" y="753.57" width="16.39" height="14.9" fill="#3356a9"/><rect x="220.59" y="753.57" width="16.39" height="14.9" fill="#2f4ba2"/><rect x="236.98" y="753.57" width="16.39" height="14.9" fill="#2c4199"/><rect x="253.37" y="753.57" width="16.39" height="14.9" fill="#2f4ba2"/><rect x="269.75" y="753.57" width="16.39" height="14.9" fill="#3356a9"/><rect x="286.14" y="753.57" width="16.39" height="14.9" fill="#2f4ba2"/><rect x="302.53" y="753.57" width="16.39" height="14.9" fill="#3356a9"/><rect x="318.92" y="753.57" width="16.39" height="14.9" fill="#3356a9"/><rect x="335.3" y="753.57" width="16.39" height="14.9" fill="#3356a9"/><rect x="351.69" y="753.57" width="16.39" height="14.9" fill="#2f4ba2"/><rect x="368.08" y="753.57" width="16.39" height="14.9" fill="#3356a9"/><rect x="384.46" y="753.57" width="16.39" height="14.9" fill="#3356a9"/><rect x="400.85" y="753.57" width="16.39" height="14.9" fill="#3356a9"/><rect x="417.24" y="753.57" width="16.39" height="14.9" fill="#2f4ba2"/><rect x="433.62" y="753.57" width="16.39" height="14.9" fill="#3356a9"/><rect x="450.01" y="753.57" width="16.39" height="14.9" fill="#3356a9"/><rect x="466.4" y="753.57" width="16.39" height="14.9" fill="#3356a9"/><rect x="482.79" y="753.57" width="16.39" height="14.9" fill="#3356a9"/><rect x="499.17" y="753.57" width="16.39" height="14.9" fill="#3356a9"/><rect x="515.56" y="753.57" width="16.39" height="14.9" fill="#3356a9"/><rect x="531.95" y="753.57" width="16.39" height="14.9" fill="#3356a9"/><rect x="548.33" y="753.57" width="16.39" height="14.9" fill="#3356a9"/><rect x="564.72" y="753.57" width="16.39" height="14.9" fill="#3356a9"/><rect x="581.11" y="753.57" width="16.39" height="14.9" fill="#3356a9"/><rect x="597.49" y="753.57" width="16.39" height="14.9" fill="#3356a9"/><rect x="613.88" y="753.57" width="16.39" height="14.9" fill="#2f4ba2"/><rect x="630.27" y="753.57" width="16.39" height="14.9" fill="#2f4ba2"/><rect x="646.66" y="753.57" width="16.39" height="14.9" fill="#3356a9"/><rect x="663.04" y="753.57" width="16.39" height="14.9" fill="#3356a9"/><rect x="679.43" y="753.57" width="16.39" height="14.9" fill="#3356a9"/><rect x="695.82" y="753.57" width="16.39" height="14.9" fill="#3356a9"/><rect x="712.2" y="753.57" width="16.39" height="14.9" fill="#3356a9"/><rect x="728.59" y="753.57" width="16.39" height="14.9" fill="#3356a9"/><rect x="744.98" y="753.57" width="16.39" height="14.9" fill="#3356a9"/><rect x="761.36" y="753.57" width="16.39" height="14.9" fill="#2c4199"/><rect x="777.75" y="753.57" width="16.39" height="14.9" fill="#2c4199"/><rect x="794.14" y="753.57" width="16.39" height="14.9" fill="#2c4199"/><rect x="810.52" y="753.57" width="16.39" height="14.9" fill="#8c161b"/><rect x="73.11" y="768.47" width="16.39" height="14.9" fill="#3356a9"/><rect x="89.5" y="768.47" width="16.39" height="14.9" fill="#3356a9"/><rect x="105.88" y="768.47" width="16.39" height="14.9" fill="#3356a9"/><rect x="122.27" y="768.47" width="16.39" height="14.9" fill="#3356a9"/><rect x="138.66" y="768.47" width="16.39" height="14.9" fill="#3356a9"/><rect x="155.05" y="768.47" width="16.39" height="14.9" fill="#3356a9"/><rect x="171.43" y="768.47" width="16.39" height="14.9" fill="#3356a9"/><rect x="187.82" y="768.47" width="16.39" height="14.9" fill="#3356a9"/><rect x="204.21" y="768.47" width="16.39" height="14.9" fill="#3356a9"/><rect x="220.59" y="768.47" width="16.39" height="14.9" fill="#2f4ba2"/><rect x="236.98" y="768.47" width="16.39" height="14.9" fill="#2c4199"/><rect x="253.37" y="768.47" width="16.39" height="14.9" fill="#2f4ba2"/><rect x="269.75" y="768.47" width="16.39" height="14.9" fill="#3356a9"/><rect x="286.14" y="768.47" width="16.39" height="14.9" fill="#2f4ba2"/><rect x="302.53" y="768.47" width="16.39" height="14.9" fill="#3356a9"/><rect x="318.92" y="768.47" width="16.39" height="14.9" fill="#3356a9"/><rect x="335.3" y="768.47" width="16.39" height="14.9" fill="#3356a9"/><rect x="351.69" y="768.47" width="16.39" height="14.9" fill="#2f4ba2"/><rect x="368.08" y="768.47" width="16.39" height="14.9" fill="#3356a9"/><rect x="384.46" y="768.47" width="16.39" height="14.9" fill="#3356a9"/><rect x="400.85" y="768.47" width="16.39" height="14.9" fill="#3356a9"/><rect x="417.24" y="768.47" width="16.39" height="14.9" fill="#2f4ba2"/><rect x="433.62" y="768.47" width="16.39" height="14.9" fill="#3356a9"/><rect x="450.01" y="768.47" width="16.39" height="14.9" fill="#3356a9"/><rect x="466.4" y="768.47" width="16.39" height="14.9" fill="#3356a9"/><rect x="482.79" y="768.47" width="16.39" height="14.9" fill="#3356a9"/><rect x="499.17" y="768.47" width="16.39" height="14.9" fill="#3356a9"/><rect x="515.56" y="768.47" width="16.39" height="14.9" fill="#3356a9"/><rect x="531.95" y="768.47" width="16.39" height="14.9" fill="#3356a9"/><rect x="548.33" y="768.47" width="16.39" height="14.9" fill="#3356a9"/><rect x="564.72" y="768.47" width="16.39" height="14.9" fill="#3356a9"/><rect x="581.11" y="768.47" width="16.39" height="14.9" fill="#3356a9"/><rect x="597.49" y="768.47" width="16.39" height="14.9" fill="#3356a9"/><rect x="613.88" y="768.47" width="16.39" height="14.9" fill="#2f4ba2"/><rect x="630.27" y="768.47" width="16.39" height="14.9" fill="#2f4ba2"/><rect x="646.66" y="768.47" width="16.39" height="14.9" fill="#3356a9"/><rect x="663.04" y="768.47" width="16.39" height="14.9" fill="#3356a9"/><rect x="679.43" y="768.47" width="16.39" height="14.9" fill="#3356a9"/><rect x="695.82" y="768.47" width="16.39" height="14.9" fill="#3356a9"/><rect x="712.2" y="768.47" width="16.39" height="14.9" fill="#3356a9"/><rect x="728.59" y="768.47" width="16.39" height="14.9" fill="#3356a9"/><rect x="744.98" y="768.47" width="16.39" height="14.9" fill="#3356a9"/><rect x="761.36" y="768.47" width="16.39" height="14.9" fill="#2c4199"/><rect x="777.75" y="768.47" width="16.39" height="14.9" fill="#2c4199"/><rect x="794.14" y="768.47" width="16.39" height="14.9" fill="#2c4199"/><rect x="810.52" y="768.47" width="16.39" height="14.9" fill="#ae1c24"/><rect x="826.91" y="768.47" width="16.39" height="14.9" fill="#8c161b"/><rect x="73.11" y="783.37" width="16.39" height="14.9" fill="#3356a9"/><rect x="89.5" y="783.37" width="16.39" height="14.9" fill="#3356a9"/><rect x="105.88" y="783.37" width="16.39" height="14.9" fill="#3356a9"/><rect x="122.27" y="783.37" width="16.39" height="14.9" fill="#3356a9"/><rect x="138.66" y="783.37" width="16.39" height="14.9" fill="#3356a9"/><rect x="155.05" y="783.37" width="16.39" height="14.9" fill="#3356a9"/><rect x="171.43" y="783.37" width="16.39" height="14.9" fill="#3356a9"/><rect x="187.82" y="783.37" width="16.39" height="14.9" fill="#3356a9"/><rect x="204.21" y="783.37" width="16.39" height="14.9" fill="#3356a9"/><rect x="220.59" y="783.37" width="16.39" height="14.9" fill="#2f4ba2"/><rect x="236.98" y="783.37" width="16.39" height="14.9" fill="#2c4199"/><rect x="253.37" y="783.37" width="16.39" height="14.9" fill="#2f4ba2"/><rect x="269.75" y="783.37" width="16.39" height="14.9" fill="#3356a9"/><rect x="286.14" y="783.37" width="16.39" height="14.9" fill="#2f4ba2"/><rect x="302.53" y="783.37" width="16.39" height="14.9" fill="#3356a9"/><rect x="318.92" y="783.37" width="16.39" height="14.9" fill="#3356a9"/><rect x="335.3" y="783.37" width="16.39" height="14.9" fill="#3356a9"/><rect x="351.69" y="783.37" width="16.39" height="14.9" fill="#2f4ba2"/><rect x="368.08" y="783.37" width="16.39" height="14.9" fill="#3356a9"/><rect x="384.46" y="783.37" width="16.39" height="14.9" fill="#3356a9"/><rect x="400.85" y="783.37" width="16.39" height="14.9" fill="#3356a9"/><rect x="417.24" y="783.37" width="16.39" height="14.9" fill="#2f4ba2"/><rect x="433.62" y="783.37" width="16.39" height="14.9" fill="#3356a9"/><rect x="450.01" y="783.37" width="16.39" height="14.9" fill="#3356a9"/><rect x="466.4" y="783.37" width="16.39" height="14.9" fill="#3356a9"/><rect x="482.79" y="783.37" width="16.39" height="14.9" fill="#3356a9"/><rect x="499.17" y="783.37" width="16.39" height="14.9" fill="#3356a9"/><rect x="515.56" y="783.37" width="16.39" height="14.9" fill="#3356a9"/><rect x="531.95" y="783.37" width="16.39" height="14.9" fill="#3356a9"/><rect x="548.33" y="783.37" width="16.39" height="14.9" fill="#3356a9"/><rect x="564.72" y="783.37" width="16.39" height="14.9" fill="#3356a9"/><rect x="581.11" y="783.37" width="16.39" height="14.9" fill="#3356a9"/><rect x="597.49" y="783.37" width="16.39" height="14.9" fill="#3356a9"/><rect x="613.88" y="783.37" width="16.39" height="14.9" fill="#2f4ba2"/><rect x="630.27" y="783.37" width="16.39" height="14.9" fill="#2f4ba2"/><rect x="646.66" y="783.37" width="16.39" height="14.9" fill="#3356a9"/><rect x="663.04" y="783.37" width="16.39" height="14.9" fill="#3356a9"/><rect x="679.43" y="783.37" width="16.39" height="14.9" fill="#3356a9"/><rect x="695.82" y="783.37" width="16.39" height="14.9" fill="#3356a9"/><rect x="712.2" y="783.37" width="16.39" height="14.9" fill="#3356a9"/><rect x="728.59" y="783.37" width="16.39" height="14.9" fill="#3356a9"/><rect x="744.98" y="783.37" width="16.39" height="14.9" fill="#3356a9"/><rect x="761.36" y="783.37" width="16.39" height="14.9" fill="#2c4199"/><rect x="777.75" y="783.37" width="16.39" height="14.9" fill="#2c4199"/><rect x="794.14" y="783.37" width="16.39" height="14.9" fill="#2c4199"/><rect x="810.52" y="783.37" width="16.39" height="14.9" fill="#c41f26"/><rect x="826.91" y="783.37" width="16.39" height="14.9" fill="#d21f27"/><rect x="843.3" y="783.37" width="16.39" height="14.9" fill="#8c161b"/><rect x="73.11" y="798.27" width="16.39" height="14" fill="#3356a9"/><rect x="89.5" y="798.27" width="16.39" height="14" fill="#3356a9"/><rect x="105.88" y="798.27" width="16.39" height="14" fill="#3356a9"/><rect x="122.27" y="798.27" width="16.39" height="14" fill="#3356a9"/><rect x="138.66" y="798.27" width="16.39" height="14" fill="#3356a9"/><rect x="155.05" y="798.27" width="16.39" height="14" fill="#3356a9"/><rect x="171.43" y="798.27" width="16.39" height="14" fill="#3356a9"/><rect x="187.82" y="798.27" width="16.39" height="14" fill="#3356a9"/><rect x="204.21" y="798.27" width="16.39" height="14" fill="#3356a9"/><rect x="220.59" y="798.27" width="16.39" height="14" fill="#2f4ba2"/><rect x="236.98" y="798.27" width="16.39" height="14" fill="#2c4199"/><rect x="253.37" y="798.27" width="16.39" height="14" fill="#3356a9"/><rect x="269.75" y="798.27" width="16.39" height="14" fill="#3356a9"/><rect x="286.14" y="798.27" width="16.39" height="14" fill="#3356a9"/><rect x="302.53" y="798.27" width="16.39" height="14" fill="#3356a9"/><rect x="318.92" y="798.27" width="16.39" height="14" fill="#3356a9"/><rect x="335.3" y="798.27" width="16.39" height="14" fill="#2f4ba2"/><rect x="351.69" y="798.27" width="16.39" height="14" fill="#3356a9"/><rect x="368.08" y="798.27" width="16.39" height="14" fill="#3356a9"/><rect x="384.46" y="798.27" width="16.39" height="14" fill="#3356a9"/><rect x="400.85" y="798.27" width="16.39" height="14" fill="#3356a9"/><rect x="417.24" y="798.27" width="16.39" height="14" fill="#3356a9"/><rect x="433.62" y="798.27" width="16.39" height="14" fill="#3356a9"/><rect x="450.01" y="798.27" width="16.39" height="14" fill="#3356a9"/><rect x="466.4" y="798.27" width="16.39" height="14" fill="#3356a9"/><rect x="482.79" y="798.27" width="16.39" height="14" fill="#3a5cb2"/><rect x="499.17" y="798.27" width="16.39" height="14" fill="#3a5cb2"/><rect x="515.56" y="798.27" width="16.39" height="14" fill="#3a5cb2"/><rect x="531.95" y="798.27" width="16.39" height="14" fill="#3a5cb2"/><rect x="548.33" y="798.27" width="16.39" height="14" fill="#3a5cb2"/><rect x="564.72" y="798.27" width="16.39" height="14" fill="#3a5cb2"/><rect x="581.11" y="798.27" width="16.39" height="14" fill="#3a5cb2"/><rect x="597.49" y="798.27" width="16.39" height="14" fill="#3a5cb2"/><rect x="613.88" y="798.27" width="16.39" height="14" fill="#3a5cb2"/><rect x="630.27" y="798.27" width="16.39" height="14" fill="#3a5cb2"/><rect x="646.66" y="798.27" width="16.39" height="14" fill="#3a5cb2"/><rect x="663.04" y="798.27" width="16.39" height="14" fill="#3a5cb2"/><rect x="679.43" y="798.27" width="16.39" height="14" fill="#3a5cb2"/><rect x="695.82" y="798.27" width="16.39" height="14" fill="#3a5cb2"/><rect x="712.2" y="798.27" width="16.39" height="14" fill="#3a5cb2"/><rect x="728.59" y="798.27" width="16.39" height="14" fill="#3a5cb2"/><rect x="744.98" y="798.27" width="16.39" height="14" fill="#3a5cb2"/><rect x="761.36" y="798.27" width="16.39" height="14" fill="#3a5cb2"/><rect x="777.75" y="798.27" width="16.39" height="14" fill="#3a5cb2"/><rect x="794.14" y="798.27" width="16.39" height="14" fill="#3a5cb2"/><rect x="810.52" y="798.27" width="16.39" height="14" fill="#3a5cb2"/><rect x="826.91" y="798.27" width="16.39" height="14" fill="#3a5cb2"/><rect x="843.3" y="798.27" width="16.39" height="14" fill="#3a5cb2"/><rect x="859.69" y="798.27" width="16.39" height="14" fill="#8c161b"/></g>
<text transform="translate(1.5 95.47) scale(0.98 1)" font-size="12">KX011473</text><text transform="translate(1.5 110.37) scale(0.98 1)" font-size="12">KX011475</text><text transform="translate(1.5 125.27) scale(0.98 1)" font-size="12">KX011477</text><text transform="translate(1.5 140.17) scale(0.98 1)" font-size="12">KX011476</text><text transform="translate(1.5 155.07) scale(0.98 1)" font-size="12">FJ944019</text><text transform="translate(1.5 169.96) scale(0.98 1)" font-size="12">DQ347950</text><text transform="translate(1.5 184.86) scale(0.98 1)" font-size="12">MK634355</text><text transform="translate(1.5 199.76) scale(0.98 1)" font-size="12">EU339939</text><text transform="translate(1.5 214.66) scale(0.98 1)" font-size="12">MN158325</text><text transform="translate(1.5 229.56) scale(0.98 1)" font-size="12">AF110189</text><text transform="translate(1.5 244.46) scale(0.98 1)" font-size="12">KX857725</text><text transform="translate(1.5 259.36) scale(0.98 1)" font-size="12">L01635</text><text transform="translate(1.5 274.26) scale(0.98 1)" font-size="12">MK241786</text><text transform="translate(1.5 289.16) scale(0.98 1)" font-size="12">MG659315</text><text transform="translate(1.5 304.06) scale(0.98 1)" font-size="12">FJ944023</text><text transform="translate(1.5 318.95) scale(0.98 1)" font-size="12">JN848772</text><text transform="translate(1.5 333.85) scale(0.98 1)" font-size="12">M88179</text><text transform="translate(1.5 348.75) scale(0.98 1)" font-size="12">JN848770</text><text transform="translate(1.5 363.65) scale(0.98 1)" font-size="12">HM236370</text><text transform="translate(1.5 378.55) scale(0.98 1)" font-size="12">EF016486</text><text transform="translate(1.5 393.45) scale(0.98 1)" font-size="12">MN508210</text><text transform="translate(1.5 408.35) scale(0.98 1)" font-size="12">MN486865</text><text transform="translate(1.5 423.25) scale(0.98 1)" font-size="12">M88686</text><text transform="translate(1.5 438.15) scale(0.98 1)" font-size="12">KJ939776</text><text transform="translate(1.5 453.05) scale(0.98 1)" font-size="12">KJ939767</text><text transform="translate(1.5 467.94) scale(0.98 1)" font-size="12">MK317961</text><text transform="translate(1.5 482.84) scale(0.98 1)" font-size="12">MW736045</text><text transform="translate(1.5 497.74) scale(0.98 1)" font-size="12">DQ865201</text><text transform="translate(1.5 512.64) scale(0.98 1)" font-size="12">MW736047</text><text transform="translate(1.5 527.54) scale(0.98 1)" font-size="12">MW736048</text><text transform="translate(1.5 542.44) scale(0.98 1)" font-size="12">MN885468</text><text transform="translate(1.5 557.34) scale(0.98 1)" font-size="12">EU523045</text><text transform="translate(1.5 572.24) scale(0.98 1)" font-size="12">MN698289</text><text transform="translate(1.5 587.14) scale(0.98 1)" font-size="12">AJ627904</text><text transform="translate(1.5 602.04) scale(0.98 1)" font-size="12">OP784475</text><text transform="translate(1.5 616.93) scale(0.98 1)" font-size="12">OP777488</text><text transform="translate(1.5 631.83) scale(0.98 1)" font-size="12">AM999981</text><text transform="translate(1.5 646.73) scale(0.98 1)" font-size="12">FM208847</text><text transform="translate(1.5 661.63) scale(0.98 1)" font-size="12">KP752090</text><text transform="translate(1.5 676.53) scale(0.98 1)" font-size="12">DQ641690</text><text transform="translate(1.5 691.43) scale(0.98 1)" font-size="12">ON181435</text><text transform="translate(1.5 706.33) scale(0.98 1)" font-size="12">MW805421</text><text transform="translate(1.5 721.23) scale(0.98 1)" font-size="12">MH795972</text><text transform="translate(1.5 736.13) scale(0.98 1)" font-size="12">AM157412</text><text transform="translate(1.5 751.03) scale(0.98 1)" font-size="12">KJ481204</text><text transform="translate(1.5 765.92) scale(0.98 1)" font-size="12">GQ472985</text><text transform="translate(1.5 780.82) scale(0.98 1)" font-size="12">GQ472987</text><text transform="translate(1.5 795.72) scale(0.98 1)" font-size="12">KC508643</text><text transform="translate(1.5 810.62) scale(0.98 1)" font-size="12">GQ472984</text>
<text transform="translate(80.2 877.5) rotate(-90) scale(1.09 1)" font-size="10.8">KX011473</text><text transform="translate(96.59 877.5) rotate(-90) scale(1.09 1)" font-size="10.8">KX011475</text><text transform="translate(112.98 877.5) rotate(-90) scale(1.09 1)" font-size="10.8">KX011477</text><text transform="translate(129.36 877.5) rotate(-90) scale(1.09 1)" font-size="10.8">KX011476</text><text transform="translate(145.75 877.5) rotate(-90) scale(1.09 1)" font-size="10.8">FJ944019</text><text transform="translate(162.14 877.5) rotate(-90) scale(1.09 1)" font-size="10.8">DQ347950</text><text transform="translate(178.53 877.5) rotate(-90) scale(1.09 1)" font-size="10.8">MK634355</text><text transform="translate(194.91 877.5) rotate(-90) scale(1.09 1)" font-size="10.8">EU339939</text><text transform="translate(211.3 877.5) rotate(-90) scale(1.09 1)" font-size="10.8">MN158325</text><text transform="translate(227.69 877.5) rotate(-90) scale(1.09 1)" font-size="10.8">AF110189</text><text transform="translate(244.07 877.5) rotate(-90) scale(1.09 1)" font-size="10.8">KX857725</text><text transform="translate(260.46 877.5) rotate(-90) scale(1.09 1)" font-size="10.8">L01635</text><text transform="translate(276.85 877.5) rotate(-90) scale(1.09 1)" font-size="10.8">MK241786</text><text transform="translate(293.23 877.5) rotate(-90) scale(1.09 1)" font-size="10.8">MG659315</text><text transform="translate(309.62 877.5) rotate(-90) scale(1.09 1)" font-size="10.8">FJ944023</text><text transform="translate(326.01 877.5) rotate(-90) scale(1.09 1)" font-size="10.8">JN848772</text><text transform="translate(342.4 877.5) rotate(-90) scale(1.09 1)" font-size="10.8">M88179</text><text transform="translate(358.78 877.5) rotate(-90) scale(1.09 1)" font-size="10.8">JN848770</text><text transform="translate(375.17 877.5) rotate(-90) scale(1.09 1)" font-size="10.8">HM236370</text><text transform="translate(391.56 877.5) rotate(-90) scale(1.09 1)" font-size="10.8">EF016486</text><text transform="translate(407.94 877.5) rotate(-90) scale(1.09 1)" font-size="10.8">MN508210</text><text transform="translate(424.33 877.5) rotate(-90) scale(1.09 1)" font-size="10.8">MN486865</text><text transform="translate(440.72 877.5) rotate(-90) scale(1.09 1)" font-size="10.8">M88686</text><text transform="translate(457.1 877.5) rotate(-90) scale(1.09 1)" font-size="10.8">KJ939776</text><text transform="translate(473.49 877.5) rotate(-90) scale(1.09 1)" font-size="10.8">KJ939767</text><text transform="translate(489.88 877.5) rotate(-90) scale(1.09 1)" font-size="10.8">MK317961</text><text transform="translate(506.27 877.5) rotate(-90) scale(1.09 1)" font-size="10.8">MW736045</text><text transform="translate(522.65 877.5) rotate(-90) scale(1.09 1)" font-size="10.8">DQ865201</text><text transform="translate(539.04 877.5) rotate(-90) scale(1.09 1)" font-size="10.8">MW736047</text><text transform="translate(555.43 877.5) rotate(-90) scale(1.09 1)" font-size="10.8">MW736048</text><text transform="translate(571.81 877.5) rotate(-90) scale(1.09 1)" font-size="10.8">MN885468</text><text transform="translate(588.2 877.5) rotate(-90) scale(1.09 1)" font-size="10.8">EU523045</text><text transform="translate(604.59 877.5) rotate(-90) scale(1.09 1)" font-size="10.8">MN698289</text><text transform="translate(620.97 877.5) rotate(-90) scale(1.09 1)" font-size="10.8">AJ627904</text><text transform="translate(637.36 877.5) rotate(-90) scale(1.09 1)" font-size="10.8">OP784475</text><text transform="translate(653.75 877.5) rotate(-90) scale(1.09 1)" font-size="10.8">OP777488</text><text transform="translate(670.14 877.5) rotate(-90) scale(1.09 1)" font-size="10.8">AM999981</text><text transform="translate(686.52 877.5) rotate(-90) scale(1.09 1)" font-size="10.8">FM208847</text><text transform="translate(702.91 877.5) rotate(-90) scale(1.09 1)" font-size="10.8">KP752090</text><text transform="translate(719.3 877.5) rotate(-90) scale(1.09 1)" font-size="10.8">DQ641690</text><text transform="translate(735.68 877.5) rotate(-90) scale(1.09 1)" font-size="10.8">ON181435</text><text transform="translate(752.07 877.5) rotate(-90) scale(1.09 1)" font-size="10.8">MW805421</text><text transform="translate(768.46 877.5) rotate(-90) scale(1.09 1)" font-size="10.8">MH795972</text><text transform="translate(784.84 877.5) rotate(-90) scale(1.09 1)" font-size="10.8">AM157412</text><text transform="translate(801.23 877.5) rotate(-90) scale(1.09 1)" font-size="10.8">KJ481204</text><text transform="translate(817.62 877.5) rotate(-90) scale(1.09 1)" font-size="10.8">GQ472985</text><text transform="translate(834.01 877.5) rotate(-90) scale(1.09 1)" font-size="10.8">GQ472987</text><text transform="translate(850.39 877.5) rotate(-90) scale(1.09 1)" font-size="10.8">KC508643</text><text transform="translate(866.78 877.5) rotate(-90) scale(1.09 1)" font-size="10.8">GQ472984</text>
<text x="0" y="277" font-size="12" transform="translate(842.7 0) scale(1.02 1) translate(0 0)">Pairwise identity (%)</text><g stroke="#0a0a0a" stroke-width="1.3"><rect x="898.5" y="294.8" width="32.2" height="10.4" fill="#8b1518"/><rect x="898.5" y="305.2" width="32.2" height="10.4" fill="#ac1c24"/><rect x="898.5" y="315.6" width="32.2" height="10.4" fill="#d91f26"/><rect x="898.5" y="326" width="32.2" height="10.4" fill="#ec2227"/><rect x="898.5" y="336.4" width="32.2" height="10.4" fill="#ee4a25"/><rect x="898.5" y="346.8" width="32.2" height="10.4" fill="#f36e21"/><rect x="898.5" y="357.2" width="32.2" height="10.4" fill="#f8981d"/><rect x="898.5" y="367.6" width="32.2" height="10.4" fill="#fdc70f"/><rect x="898.5" y="378" width="32.2" height="10.4" fill="#f4e81c"/><rect x="898.5" y="388.4" width="32.2" height="10.4" fill="#cbd62e"/><rect x="898.5" y="398.8" width="32.2" height="10.4" fill="#a9c74c"/><rect x="898.5" y="409.2" width="32.2" height="10.4" fill="#8bc671"/><rect x="898.5" y="419.6" width="32.2" height="10.4" fill="#6fc4a4"/><rect x="898.5" y="430" width="32.2" height="10.4" fill="#5dc4d0"/><rect x="898.5" y="440.4" width="32.2" height="10.4" fill="#40c0eb"/><rect x="898.5" y="450.8" width="32.2" height="10.4" fill="#3ca0e2"/><rect x="898.5" y="461.2" width="32.2" height="10.4" fill="#3c7bc6"/><rect x="898.5" y="471.6" width="32.2" height="10.4" fill="#3767b6"/><rect x="898.5" y="482" width="32.2" height="10.4" fill="#3358ab"/><rect x="898.5" y="492.4" width="32.2" height="10.4" fill="#2f4ca2"/><rect x="898.5" y="502.8" width="32.2" height="10.4" fill="#2c4199"/><rect x="898.5" y="513.2" width="32.2" height="10.4" fill="#29348a"/></g><line x1="930.7" y1="300" x2="937.7" y2="300" stroke="#111" stroke-width="2.2"/><text x="942" y="305.84" font-size="11.5">100</text><line x1="930.7" y1="320.8" x2="937.7" y2="320.8" stroke="#111" stroke-width="2.2"/><text x="942" y="326.64" font-size="11.5">96</text><line x1="930.7" y1="341.6" x2="937.7" y2="341.6" stroke="#111" stroke-width="2.2"/><text x="942" y="347.44" font-size="11.5">92</text><line x1="930.7" y1="362.4" x2="937.7" y2="362.4" stroke="#111" stroke-width="2.2"/><text x="942" y="368.24" font-size="11.5">89</text><line x1="930.7" y1="383.2" x2="937.7" y2="383.2" stroke="#111" stroke-width="2.2"/><text x="942" y="389.04" font-size="11.5">85</text><line x1="930.7" y1="404" x2="937.7" y2="404" stroke="#111" stroke-width="2.2"/><text x="942" y="409.84" font-size="11.5">81</text><line x1="930.7" y1="424.8" x2="937.7" y2="424.8" stroke="#111" stroke-width="2.2"/><text x="942" y="430.64" font-size="11.5">77</text><line x1="930.7" y1="445.6" x2="937.7" y2="445.6" stroke="#111" stroke-width="2.2"/><text x="942" y="451.44" font-size="11.5">73</text><line x1="930.7" y1="466.4" x2="937.7" y2="466.4" stroke="#111" stroke-width="2.2"/><text x="942" y="472.24" font-size="11.5">70</text><line x1="930.7" y1="487.2" x2="937.7" y2="487.2" stroke="#111" stroke-width="2.2"/><text x="942" y="493.04" font-size="11.5">66</text><line x1="930.7" y1="508" x2="937.7" y2="508" stroke="#111" stroke-width="2.2"/><text x="942" y="513.84" font-size="11.5">62</text>
<g stroke="#0a0a0a" stroke-width="1.45"><rect x="1096.18" y="86.47" width="16.97" height="16.04" fill="#8c161b"/><rect x="1096.18" y="102.51" width="16.97" height="16.04" fill="#68c6c6"/><rect x="1113.15" y="102.51" width="16.97" height="16.04" fill="#8c161b"/><rect x="1096.18" y="118.55" width="16.97" height="16.04" fill="#40beeb"/><rect x="1113.15" y="118.55" width="16.97" height="16.04" fill="#40beeb"/><rect x="1130.12" y="118.55" width="16.97" height="16.04" fill="#8c161b"/><rect x="1096.18" y="134.59" width="16.97" height="16.04" fill="#3ca1e1"/><rect x="1113.15" y="134.59" width="16.97" height="16.04" fill="#40beeb"/><rect x="1130.12" y="134.59" width="16.97" height="16.04" fill="#72c5a6"/><rect x="1147.09" y="134.59" width="16.97" height="16.04" fill="#8c161b"/><rect x="1096.18" y="150.63" width="16.97" height="16.04" fill="#3ca1e1"/><rect x="1113.15" y="150.63" width="16.97" height="16.04" fill="#3ca1e1"/><rect x="1130.12" y="150.63" width="16.97" height="16.04" fill="#8dc672"/><rect x="1147.09" y="150.63" width="16.97" height="16.04" fill="#ec2227"/><rect x="1164.06" y="150.63" width="16.97" height="16.04" fill="#8c161b"/><rect x="1096.18" y="166.68" width="16.97" height="16.04" fill="#40beeb"/><rect x="1113.15" y="166.68" width="16.97" height="16.04" fill="#3ca1e1"/><rect x="1130.12" y="166.68" width="16.97" height="16.04" fill="#8dc672"/><rect x="1147.09" y="166.68" width="16.97" height="16.04" fill="#ee3626"/><rect x="1164.06" y="166.68" width="16.97" height="16.04" fill="#ee3626"/><rect x="1181.04" y="166.68" width="16.97" height="16.04" fill="#8c161b"/><rect x="1096.18" y="182.72" width="16.97" height="16.04" fill="#40beeb"/><rect x="1113.15" y="182.72" width="16.97" height="16.04" fill="#40beeb"/><rect x="1130.12" y="182.72" width="16.97" height="16.04" fill="#8dc672"/><rect x="1147.09" y="182.72" width="16.97" height="16.04" fill="#8dc672"/><rect x="1164.06" y="182.72" width="16.97" height="16.04" fill="#8dc672"/><rect x="1181.04" y="182.72" width="16.97" height="16.04" fill="#8dc672"/><rect x="1198.01" y="182.72" width="16.97" height="16.04" fill="#8c161b"/><rect x="1096.18" y="198.76" width="16.97" height="16.04" fill="#3ca1e1"/><rect x="1113.15" y="198.76" width="16.97" height="16.04" fill="#40beeb"/><rect x="1130.12" y="198.76" width="16.97" height="16.04" fill="#7cc79e"/><rect x="1147.09" y="198.76" width="16.97" height="16.04" fill="#7cc79e"/><rect x="1164.06" y="198.76" width="16.97" height="16.04" fill="#7cc79e"/><rect x="1181.04" y="198.76" width="16.97" height="16.04" fill="#7cc79e"/><rect x="1198.01" y="198.76" width="16.97" height="16.04" fill="#8dc672"/><rect x="1214.98" y="198.76" width="16.97" height="16.04" fill="#8c161b"/><rect x="1096.18" y="214.8" width="16.97" height="16.04" fill="#40beeb"/><rect x="1113.15" y="214.8" width="16.97" height="16.04" fill="#40beeb"/><rect x="1130.12" y="214.8" width="16.97" height="16.04" fill="#7cc79e"/><rect x="1147.09" y="214.8" width="16.97" height="16.04" fill="#7cc79e"/><rect x="1164.06" y="214.8" width="16.97" height="16.04" fill="#7cc79e"/><rect x="1181.04" y="214.8" width="16.97" height="16.04" fill="#7cc79e"/><rect x="1198.01" y="214.8" width="16.97" height="16.04" fill="#8dc672"/><rect x="1214.98" y="214.8" width="16.97" height="16.04" fill="#f8a01c"/><rect x="1231.95" y="214.8" width="16.97" height="16.04" fill="#8c161b"/><rect x="1096.18" y="230.84" width="16.97" height="16.04" fill="#3ca1e1"/><rect x="1113.15" y="230.84" width="16.97" height="16.04" fill="#40beeb"/><rect x="1130.12" y="230.84" width="16.97" height="16.04" fill="#68c6c6"/><rect x="1147.09" y="230.84" width="16.97" height="16.04" fill="#68c6c6"/><rect x="1164.06" y="230.84" width="16.97" height="16.04" fill="#68c6c6"/><rect x="1181.04" y="230.84" width="16.97" height="16.04" fill="#72c5a6"/><rect x="1198.01" y="230.84" width="16.97" height="16.04" fill="#8dc672"/><rect x="1214.98" y="230.84" width="16.97" height="16.04" fill="#5dc4d2"/><rect x="1231.95" y="230.84" width="16.97" height="16.04" fill="#72c5a6"/><rect x="1248.92" y="230.84" width="16.97" height="16.04" fill="#8c161b"/><rect x="1096.18" y="246.88" width="16.97" height="16.04" fill="#40beeb"/><rect x="1113.15" y="246.88" width="16.97" height="16.04" fill="#40beeb"/><rect x="1130.12" y="246.88" width="16.97" height="16.04" fill="#5dc4d2"/><rect x="1147.09" y="246.88" width="16.97" height="16.04" fill="#5dc4d2"/><rect x="1164.06" y="246.88" width="16.97" height="16.04" fill="#5dc4d2"/><rect x="1181.04" y="246.88" width="16.97" height="16.04" fill="#5dc4d2"/><rect x="1198.01" y="246.88" width="16.97" height="16.04" fill="#72c5a6"/><rect x="1214.98" y="246.88" width="16.97" height="16.04" fill="#72c5a6"/><rect x="1231.95" y="246.88" width="16.97" height="16.04" fill="#5dc4d2"/><rect x="1248.92" y="246.88" width="16.97" height="16.04" fill="#5dc4d2"/><rect x="1265.89" y="246.88" width="16.97" height="16.04" fill="#8c161b"/><rect x="1096.18" y="262.92" width="16.97" height="16.04" fill="#3ca1e1"/><rect x="1113.15" y="262.92" width="16.97" height="16.04" fill="#3ca1e1"/><rect x="1130.12" y="262.92" width="16.97" height="16.04" fill="#5dc4d2"/><rect x="1147.09" y="262.92" width="16.97" height="16.04" fill="#40beeb"/><rect x="1164.06" y="262.92" width="16.97" height="16.04" fill="#5dc4d2"/><rect x="1181.04" y="262.92" width="16.97" height="16.04" fill="#40beeb"/><rect x="1198.01" y="262.92" width="16.97" height="16.04" fill="#5dc4d2"/><rect x="1214.98" y="262.92" width="16.97" height="16.04" fill="#5dc4d2"/><rect x="1231.95" y="262.92" width="16.97" height="16.04" fill="#5dc4d2"/><rect x="1248.92" y="262.92" width="16.97" height="16.04" fill="#72c5a6"/><rect x="1265.89" y="262.92" width="16.97" height="16.04" fill="#5dc4d2"/><rect x="1282.86" y="262.92" width="16.97" height="16.04" fill="#8c161b"/><rect x="1096.18" y="278.96" width="16.97" height="16.04" fill="#3ca1e1"/><rect x="1113.15" y="278.96" width="16.97" height="16.04" fill="#40beeb"/><rect x="1130.12" y="278.96" width="16.97" height="16.04" fill="#40beeb"/><rect x="1147.09" y="278.96" width="16.97" height="16.04" fill="#40beeb"/><rect x="1164.06" y="278.96" width="16.97" height="16.04" fill="#40beeb"/><rect x="1181.04" y="278.96" width="16.97" height="16.04" fill="#40beeb"/><rect x="1198.01" y="278.96" width="16.97" height="16.04" fill="#40beeb"/><rect x="1214.98" y="278.96" width="16.97" height="16.04" fill="#5dc4d2"/><rect x="1231.95" y="278.96" width="16.97" height="16.04" fill="#5dc4d2"/><rect x="1248.92" y="278.96" width="16.97" height="16.04" fill="#72c5a6"/><rect x="1265.89" y="278.96" width="16.97" height="16.04" fill="#5dc4d2"/><rect x="1282.86" y="278.96" width="16.97" height="16.04" fill="#ec2227"/><rect x="1299.83" y="278.96" width="16.97" height="16.04" fill="#8c161b"/><rect x="1096.18" y="295" width="16.97" height="16.04" fill="#3ca1e1"/><rect x="1113.15" y="295" width="16.97" height="16.04" fill="#40beeb"/><rect x="1130.12" y="295" width="16.97" height="16.04" fill="#40beeb"/><rect x="1147.09" y="295" width="16.97" height="16.04" fill="#40beeb"/><rect x="1164.06" y="295" width="16.97" height="16.04" fill="#40beeb"/><rect x="1181.04" y="295" width="16.97" height="16.04" fill="#40beeb"/><rect x="1198.01" y="295" width="16.97" height="16.04" fill="#40beeb"/><rect x="1214.98" y="295" width="16.97" height="16.04" fill="#5dc4d2"/><rect x="1231.95" y="295" width="16.97" height="16.04" fill="#5dc4d2"/><rect x="1248.92" y="295" width="16.97" height="16.04" fill="#72c5a6"/><rect x="1265.89" y="295" width="16.97" height="16.04" fill="#5dc4d2"/><rect x="1282.86" y="295" width="16.97" height="16.04" fill="#ee3626"/><rect x="1299.83" y="295" width="16.97" height="16.04" fill="#ee3626"/><rect x="1316.8" y="295" width="16.97" height="16.04" fill="#8c161b"/><rect x="1096.18" y="311.04" width="16.97" height="16.04" fill="#40beeb"/><rect x="1113.15" y="311.04" width="16.97" height="16.04" fill="#3ca1e1"/><rect x="1130.12" y="311.04" width="16.97" height="16.04" fill="#40beeb"/><rect x="1147.09" y="311.04" width="16.97" height="16.04" fill="#40beeb"/><rect x="1164.06" y="311.04" width="16.97" height="16.04" fill="#3ca1e1"/><rect x="1181.04" y="311.04" width="16.97" height="16.04" fill="#40beeb"/><rect x="1198.01" y="311.04" width="16.97" height="16.04" fill="#5dc4d2"/><rect x="1214.98" y="311.04" width="16.97" height="16.04" fill="#5dc4d2"/><rect x="1231.95" y="311.04" width="16.97" height="16.04" fill="#5dc4d2"/><rect x="1248.92" y="311.04" width="16.97" height="16.04" fill="#40beeb"/><rect x="1265.89" y="311.04" width="16.97" height="16.04" fill="#5dc4d2"/><rect x="1282.86" y="311.04" width="16.97" height="16.04" fill="#40beeb"/><rect x="1299.83" y="311.04" width="16.97" height="16.04" fill="#40beeb"/><rect x="1316.8" y="311.04" width="16.97" height="16.04" fill="#5dc4d2"/><rect x="1333.77" y="311.04" width="16.97" height="16.04" fill="#8c161b"/><rect x="1096.18" y="327.09" width="16.97" height="16.04" fill="#40beeb"/><rect x="1113.15" y="327.09" width="16.97" height="16.04" fill="#40beeb"/><rect x="1130.12" y="327.09" width="16.97" height="16.04" fill="#40beeb"/><rect x="1147.09" y="327.09" width="16.97" height="16.04" fill="#40beeb"/><rect x="1164.06" y="327.09" width="16.97" height="16.04" fill="#40beeb"/><rect x="1181.04" y="327.09" width="16.97" height="16.04" fill="#40beeb"/><rect x="1198.01" y="327.09" width="16.97" height="16.04" fill="#5dc4d2"/><rect x="1214.98" y="327.09" width="16.97" height="16.04" fill="#5dc4d2"/><rect x="1231.95" y="327.09" width="16.97" height="16.04" fill="#5dc4d2"/><rect x="1248.92" y="327.09" width="16.97" height="16.04" fill="#40beeb"/><rect x="1265.89" y="327.09" width="16.97" height="16.04" fill="#40beeb"/><rect x="1282.86" y="327.09" width="16.97" height="16.04" fill="#3ca1e1"/><rect x="1299.83" y="327.09" width="16.97" height="16.04" fill="#3ca1e1"/><rect x="1316.8" y="327.09" width="16.97" height="16.04" fill="#40beeb"/><rect x="1333.77" y="327.09" width="16.97" height="16.04" fill="#ee3626"/><rect x="1350.75" y="327.09" width="16.97" height="16.04" fill="#8c161b"/><rect x="1096.18" y="343.13" width="16.97" height="16.04" fill="#40beeb"/><rect x="1113.15" y="343.13" width="16.97" height="16.04" fill="#5dc4d2"/><rect x="1130.12" y="343.13" width="16.97" height="16.04" fill="#5dc4d2"/><rect x="1147.09" y="343.13" width="16.97" height="16.04" fill="#40beeb"/><rect x="1164.06" y="343.13" width="16.97" height="16.04" fill="#3ca1e1"/><rect x="1181.04" y="343.13" width="16.97" height="16.04" fill="#5dc4d2"/><rect x="1198.01" y="343.13" width="16.97" height="16.04" fill="#5dc4d2"/><rect x="1214.98" y="343.13" width="16.97" height="16.04" fill="#5dc4d2"/><rect x="1231.95" y="343.13" width="16.97" height="16.04" fill="#5dc4d2"/><rect x="1248.92" y="343.13" width="16.97" height="16.04" fill="#40beeb"/><rect x="1265.89" y="343.13" width="16.97" height="16.04" fill="#40beeb"/><rect x="1282.86" y="343.13" width="16.97" height="16.04" fill="#40beeb"/><rect x="1299.83" y="343.13" width="16.97" height="16.04" fill="#40beeb"/><rect x="1316.8" y="343.13" width="16.97" height="16.04" fill="#5dc4d2"/><rect x="1333.77" y="343.13" width="16.97" height="16.04" fill="#f36f21"/><rect x="1350.75" y="343.13" width="16.97" height="16.04" fill="#f36f21"/><rect x="1367.72" y="343.13" width="16.97" height="16.04" fill="#8c161b"/><rect x="1096.18" y="359.17" width="16.97" height="16.04" fill="#3ca1e1"/><rect x="1113.15" y="359.17" width="16.97" height="16.04" fill="#3ca1e1"/><rect x="1130.12" y="359.17" width="16.97" height="16.04" fill="#40beeb"/><rect x="1147.09" y="359.17" width="16.97" height="16.04" fill="#40beeb"/><rect x="1164.06" y="359.17" width="16.97" height="16.04" fill="#5dc4d2"/><rect x="1181.04" y="359.17" width="16.97" height="16.04" fill="#5dc4d2"/><rect x="1198.01" y="359.17" width="16.97" height="16.04" fill="#40beeb"/><rect x="1214.98" y="359.17" width="16.97" height="16.04" fill="#40beeb"/><rect x="1231.95" y="359.17" width="16.97" height="16.04" fill="#3ca1e1"/><rect x="1248.92" y="359.17" width="16.97" height="16.04" fill="#3ca1e1"/><rect x="1265.89" y="359.17" width="16.97" height="16.04" fill="#3ca1e1"/><rect x="1282.86" y="359.17" width="16.97" height="16.04" fill="#3ca1e1"/><rect x="1299.83" y="359.17" width="16.97" height="16.04" fill="#3d7dc7"/><rect x="1316.8" y="359.17" width="16.97" height="16.04" fill="#3ca1e1"/><rect x="1333.77" y="359.17" width="16.97" height="16.04" fill="#3ca1e1"/><rect x="1350.75" y="359.17" width="16.97" height="16.04" fill="#3ca1e1"/><rect x="1367.72" y="359.17" width="16.97" height="16.04" fill="#3d7dc7"/><rect x="1384.69" y="359.17" width="16.97" height="16.04" fill="#8c161b"/><rect x="1096.18" y="375.21" width="16.97" height="16.04" fill="#3d7dc7"/><rect x="1113.15" y="375.21" width="16.97" height="16.04" fill="#3d7dc7"/><rect x="1130.12" y="375.21" width="16.97" height="16.04" fill="#40beeb"/><rect x="1147.09" y="375.21" width="16.97" height="16.04" fill="#40beeb"/><rect x="1164.06" y="375.21" width="16.97" height="16.04" fill="#40beeb"/><rect x="1181.04" y="375.21" width="16.97" height="16.04" fill="#40beeb"/><rect x="1198.01" y="375.21" width="16.97" height="16.04" fill="#40beeb"/><rect x="1214.98" y="375.21" width="16.97" height="16.04" fill="#40beeb"/><rect x="1231.95" y="375.21" width="16.97" height="16.04" fill="#40beeb"/><rect x="1248.92" y="375.21" width="16.97" height="16.04" fill="#40beeb"/><rect x="1265.89" y="375.21" width="16.97" height="16.04" fill="#3ca1e1"/><rect x="1282.86" y="375.21" width="16.97" height="16.04" fill="#5dc4d2"/><rect x="1299.83" y="375.21" width="16.97" height="16.04" fill="#5dc4d2"/><rect x="1316.8" y="375.21" width="16.97" height="16.04" fill="#40beeb"/><rect x="1333.77" y="375.21" width="16.97" height="16.04" fill="#40beeb"/><rect x="1350.75" y="375.21" width="16.97" height="16.04" fill="#40beeb"/><rect x="1367.72" y="375.21" width="16.97" height="16.04" fill="#40beeb"/><rect x="1384.69" y="375.21" width="16.97" height="16.04" fill="#5dc4d2"/><rect x="1401.66" y="375.21" width="16.97" height="16.04" fill="#8c161b"/><rect x="1096.18" y="391.25" width="16.97" height="16.04" fill="#3ca1e1"/><rect x="1113.15" y="391.25" width="16.97" height="16.04" fill="#40beeb"/><rect x="1130.12" y="391.25" width="16.97" height="16.04" fill="#40beeb"/><rect x="1147.09" y="391.25" width="16.97" height="16.04" fill="#5dc4d2"/><rect x="1164.06" y="391.25" width="16.97" height="16.04" fill="#5dc4d2"/><rect x="1181.04" y="391.25" width="16.97" height="16.04" fill="#5dc4d2"/><rect x="1198.01" y="391.25" width="16.97" height="16.04" fill="#5dc4d2"/><rect x="1214.98" y="391.25" width="16.97" height="16.04" fill="#40beeb"/><rect x="1231.95" y="391.25" width="16.97" height="16.04" fill="#5dc4d2"/><rect x="1248.92" y="391.25" width="16.97" height="16.04" fill="#40beeb"/><rect x="1265.89" y="391.25" width="16.97" height="16.04" fill="#40beeb"/><rect x="1282.86" y="391.25" width="16.97" height="16.04" fill="#3ca1e1"/><rect x="1299.83" y="391.25" width="16.97" height="16.04" fill="#3ca1e1"/><rect x="1316.8" y="391.25" width="16.97" height="16.04" fill="#3ca1e1"/><rect x="1333.77" y="391.25" width="16.97" height="16.04" fill="#40beeb"/><rect x="1350.75" y="391.25" width="16.97" height="16.04" fill="#3ca1e1"/><rect x="1367.72" y="391.25" width="16.97" height="16.04" fill="#40beeb"/><rect x="1384.69" y="391.25" width="16.97" height="16.04" fill="#8dc672"/><rect x="1401.66" y="391.25" width="16.97" height="16.04" fill="#cdd52e"/><rect x="1418.63" y="391.25" width="16.97" height="16.04" fill="#8c161b"/><rect x="1096.18" y="407.29" width="16.97" height="16.04" fill="#3ca1e1"/><rect x="1113.15" y="407.29" width="16.97" height="16.04" fill="#40beeb"/><rect x="1130.12" y="407.29" width="16.97" height="16.04" fill="#40beeb"/><rect x="1147.09" y="407.29" width="16.97" height="16.04" fill="#40beeb"/><rect x="1164.06" y="407.29" width="16.97" height="16.04" fill="#40beeb"/><rect x="1181.04" y="407.29" width="16.97" height="16.04" fill="#40beeb"/><rect x="1198.01" y="407.29" width="16.97" height="16.04" fill="#40beeb"/><rect x="1214.98" y="407.29" width="16.97" height="16.04" fill="#40beeb"/><rect x="1231.95" y="407.29" width="16.97" height="16.04" fill="#40beeb"/><rect x="1248.92" y="407.29" width="16.97" height="16.04" fill="#40beeb"/><rect x="1265.89" y="407.29" width="16.97" height="16.04" fill="#40beeb"/><rect x="1282.86" y="407.29" width="16.97" height="16.04" fill="#40beeb"/><rect x="1299.83" y="407.29" width="16.97" height="16.04" fill="#3ca1e1"/><rect x="1316.8" y="407.29" width="16.97" height="16.04" fill="#40beeb"/><rect x="1333.77" y="407.29" width="16.97" height="16.04" fill="#40beeb"/><rect x="1350.75" y="407.29" width="16.97" height="16.04" fill="#40beeb"/><rect x="1367.72" y="407.29" width="16.97" height="16.04" fill="#40beeb"/><rect x="1384.69" y="407.29" width="16.97" height="16.04" fill="#5dc4d2"/><rect x="1401.66" y="407.29" width="16.97" height="16.04" fill="#5dc4d2"/><rect x="1418.63" y="407.29" width="16.97" height="16.04" fill="#5dc4d2"/><rect x="1435.6" y="407.29" width="16.97" height="16.04" fill="#8c161b"/><rect x="1096.18" y="423.33" width="16.97" height="16.04" fill="#2c4199"/><rect x="1113.15" y="423.33" width="16.97" height="16.04" fill="#2f4ba2"/><rect x="1130.12" y="423.33" width="16.97" height="16.04" fill="#3356a9"/><rect x="1147.09" y="423.33" width="16.97" height="16.04" fill="#2f4ba2"/><rect x="1164.06" y="423.33" width="16.97" height="16.04" fill="#3356a9"/><rect x="1181.04" y="423.33" width="16.97" height="16.04" fill="#2f4ba2"/><rect x="1198.01" y="423.33" width="16.97" height="16.04" fill="#2f4ba2"/><rect x="1214.98" y="423.33" width="16.97" height="16.04" fill="#3356a9"/><rect x="1231.95" y="423.33" width="16.97" height="16.04" fill="#2f4ba2"/><rect x="1248.92" y="423.33" width="16.97" height="16.04" fill="#2f4ba2"/><rect x="1265.89" y="423.33" width="16.97" height="16.04" fill="#2f4ba2"/><rect x="1282.86" y="423.33" width="16.97" height="16.04" fill="#2f4ba2"/><rect x="1299.83" y="423.33" width="16.97" height="16.04" fill="#2f4ba2"/><rect x="1316.8" y="423.33" width="16.97" height="16.04" fill="#3356a9"/><rect x="1333.77" y="423.33" width="16.97" height="16.04" fill="#2f4ba2"/><rect x="1350.75" y="423.33" width="16.97" height="16.04" fill="#2f4ba2"/><rect x="1367.72" y="423.33" width="16.97" height="16.04" fill="#3356a9"/><rect x="1384.69" y="423.33" width="16.97" height="16.04" fill="#3356a9"/><rect x="1401.66" y="423.33" width="16.97" height="16.04" fill="#3356a9"/><rect x="1418.63" y="423.33" width="16.97" height="16.04" fill="#2f4ba2"/><rect x="1435.6" y="423.33" width="16.97" height="16.04" fill="#3356a9"/><rect x="1452.57" y="423.33" width="16.97" height="16.04" fill="#8c161b"/><rect x="1096.18" y="439.37" width="16.97" height="16.04" fill="#2c4199"/><rect x="1113.15" y="439.37" width="16.97" height="16.04" fill="#3356a9"/><rect x="1130.12" y="439.37" width="16.97" height="16.04" fill="#2f4ba2"/><rect x="1147.09" y="439.37" width="16.97" height="16.04" fill="#2f4ba2"/><rect x="1164.06" y="439.37" width="16.97" height="16.04" fill="#2f4ba2"/><rect x="1181.04" y="439.37" width="16.97" height="16.04" fill="#2f4ba2"/><rect x="1198.01" y="439.37" width="16.97" height="16.04" fill="#3356a9"/><rect x="1214.98" y="439.37" width="16.97" height="16.04" fill="#2f4ba2"/><rect x="1231.95" y="439.37" width="16.97" height="16.04" fill="#3356a9"/><rect x="1248.92" y="439.37" width="16.97" height="16.04" fill="#3356a9"/><rect x="1265.89" y="439.37" width="16.97" height="16.04" fill="#2f4ba2"/><rect x="1282.86" y="439.37" width="16.97" height="16.04" fill="#3356a9"/><rect x="1299.83" y="439.37" width="16.97" height="16.04" fill="#2f4ba2"/><rect x="1316.8" y="439.37" width="16.97" height="16.04" fill="#2f4ba2"/><rect x="1333.77" y="439.37" width="16.97" height="16.04" fill="#2f4ba2"/><rect x="1350.75" y="439.37" width="16.97" height="16.04" fill="#3356a9"/><rect x="1367.72" y="439.37" width="16.97" height="16.04" fill="#2f4ba2"/><rect x="1384.69" y="439.37" width="16.97" height="16.04" fill="#2f4ba2"/><rect x="1401.66" y="439.37" width="16.97" height="16.04" fill="#3356a9"/><rect x="1418.63" y="439.37" width="16.97" height="16.04" fill="#2f4ba2"/><rect x="1435.6" y="439.37" width="16.97" height="16.04" fill="#2f4ba2"/><rect x="1452.57" y="439.37" width="16.97" height="16.04" fill="#ae1c24"/><rect x="1469.54" y="439.37" width="16.97" height="16.04" fill="#8c161b"/><rect x="1096.18" y="455.41" width="16.97" height="16.04" fill="#2c4199"/><rect x="1113.15" y="455.41" width="16.97" height="16.04" fill="#3356a9"/><rect x="1130.12" y="455.41" width="16.97" height="16.04" fill="#2f4ba2"/><rect x="1147.09" y="455.41" width="16.97" height="16.04" fill="#3356a9"/><rect x="1164.06" y="455.41" width="16.97" height="16.04" fill="#3356a9"/><rect x="1181.04" y="455.41" width="16.97" height="16.04" fill="#3356a9"/><rect x="1198.01" y="455.41" width="16.97" height="16.04" fill="#3356a9"/><rect x="1214.98" y="455.41" width="16.97" height="16.04" fill="#2f4ba2"/><rect x="1231.95" y="455.41" width="16.97" height="16.04" fill="#3356a9"/><rect x="1248.92" y="455.41" width="16.97" height="16.04" fill="#2f4ba2"/><rect x="1265.89" y="455.41" width="16.97" height="16.04" fill="#2f4ba2"/><rect x="1282.86" y="455.41" width="16.97" height="16.04" fill="#3356a9"/><rect x="1299.83" y="455.41" width="16.97" height="16.04" fill="#2f4ba2"/><rect x="1316.8" y="455.41" width="16.97" height="16.04" fill="#2f4ba2"/><rect x="1333.77" y="455.41" width="16.97" height="16.04" fill="#2f4ba2"/><rect x="1350.75" y="455.41" width="16.97" height="16.04" fill="#3356a9"/><rect x="1367.72" y="455.41" width="16.97" height="16.04" fill="#3356a9"/><rect x="1384.69" y="455.41" width="16.97" height="16.04" fill="#3356a9"/><rect x="1401.66" y="455.41" width="16.97" height="16.04" fill="#3356a9"/><rect x="1418.63" y="455.41" width="16.97" height="16.04" fill="#2f4ba2"/><rect x="1435.6" y="455.41" width="16.97" height="16.04" fill="#3356a9"/><rect x="1452.57" y="455.41" width="16.97" height="16.04" fill="#d21f27"/><rect x="1469.54" y="455.41" width="16.97" height="16.04" fill="#d21f27"/><rect x="1486.51" y="455.41" width="16.97" height="16.04" fill="#8c161b"/><rect x="1096.18" y="471.45" width="16.97" height="16.04" fill="#2c4199"/><rect x="1113.15" y="471.45" width="16.97" height="16.04" fill="#3356a9"/><rect x="1130.12" y="471.45" width="16.97" height="16.04" fill="#2f4ba2"/><rect x="1147.09" y="471.45" width="16.97" height="16.04" fill="#3356a9"/><rect x="1164.06" y="471.45" width="16.97" height="16.04" fill="#3356a9"/><rect x="1181.04" y="471.45" width="16.97" height="16.04" fill="#2f4ba2"/><rect x="1198.01" y="471.45" width="16.97" height="16.04" fill="#3356a9"/><rect x="1214.98" y="471.45" width="16.97" height="16.04" fill="#2f4ba2"/><rect x="1231.95" y="471.45" width="16.97" height="16.04" fill="#3356a9"/><rect x="1248.92" y="471.45" width="16.97" height="16.04" fill="#3356a9"/><rect x="1265.89" y="471.45" width="16.97" height="16.04" fill="#3356a9"/><rect x="1282.86" y="471.45" width="16.97" height="16.04" fill="#3356a9"/><rect x="1299.83" y="471.45" width="16.97" height="16.04" fill="#2f4ba2"/><rect x="1316.8" y="471.45" width="16.97" height="16.04" fill="#2f4ba2"/><rect x="1333.77" y="471.45" width="16.97" height="16.04" fill="#3356a9"/><rect x="1350.75" y="471.45" width="16.97" height="16.04" fill="#2f4ba2"/><rect x="1367.72" y="471.45" width="16.97" height="16.04" fill="#2f4ba2"/><rect x="1384.69" y="471.45" width="16.97" height="16.04" fill="#2f4ba2"/><rect x="1401.66" y="471.45" width="16.97" height="16.04" fill="#2f4ba2"/><rect x="1418.63" y="471.45" width="16.97" height="16.04" fill="#2f4ba2"/><rect x="1435.6" y="471.45" width="16.97" height="16.04" fill="#3356a9"/><rect x="1452.57" y="471.45" width="16.97" height="16.04" fill="#ec2227"/><rect x="1469.54" y="471.45" width="16.97" height="16.04" fill="#ec2227"/><rect x="1486.51" y="471.45" width="16.97" height="16.04" fill="#d21f27"/><rect x="1503.48" y="471.45" width="16.97" height="16.04" fill="#8c161b"/><rect x="1096.18" y="487.5" width="16.97" height="16.04" fill="#2c4199"/><rect x="1113.15" y="487.5" width="16.97" height="16.04" fill="#2f4ba2"/><rect x="1130.12" y="487.5" width="16.97" height="16.04" fill="#2f4ba2"/><rect x="1147.09" y="487.5" width="16.97" height="16.04" fill="#3356a9"/><rect x="1164.06" y="487.5" width="16.97" height="16.04" fill="#2f4ba2"/><rect x="1181.04" y="487.5" width="16.97" height="16.04" fill="#2f4ba2"/><rect x="1198.01" y="487.5" width="16.97" height="16.04" fill="#3356a9"/><rect x="1214.98" y="487.5" width="16.97" height="16.04" fill="#3356a9"/><rect x="1231.95" y="487.5" width="16.97" height="16.04" fill="#3356a9"/><rect x="1248.92" y="487.5" width="16.97" height="16.04" fill="#3356a9"/><rect x="1265.89" y="487.5" width="16.97" height="16.04" fill="#2f4ba2"/><rect x="1282.86" y="487.5" width="16.97" height="16.04" fill="#2f4ba2"/><rect x="1299.83" y="487.5" width="16.97" height="16.04" fill="#2f4ba2"/><rect x="1316.8" y="487.5" width="16.97" height="16.04" fill="#3356a9"/><rect x="1333.77" y="487.5" width="16.97" height="16.04" fill="#3356a9"/><rect x="1350.75" y="487.5" width="16.97" height="16.04" fill="#2f4ba2"/><rect x="1367.72" y="487.5" width="16.97" height="16.04" fill="#2f4ba2"/><rect x="1384.69" y="487.5" width="16.97" height="16.04" fill="#2f4ba2"/><rect x="1401.66" y="487.5" width="16.97" height="16.04" fill="#2f4ba2"/><rect x="1418.63" y="487.5" width="16.97" height="16.04" fill="#2f4ba2"/><rect x="1435.6" y="487.5" width="16.97" height="16.04" fill="#3356a9"/><rect x="1452.57" y="487.5" width="16.97" height="16.04" fill="#ec2227"/><rect x="1469.54" y="487.5" width="16.97" height="16.04" fill="#d21f27"/><rect x="1486.51" y="487.5" width="16.97" height="16.04" fill="#d21f27"/><rect x="1503.48" y="487.5" width="16.97" height="16.04" fill="#ae1c24"/><rect x="1520.45" y="487.5" width="16.97" height="16.04" fill="#8c161b"/><rect x="1096.18" y="503.54" width="16.97" height="16.04" fill="#2c4199"/><rect x="1113.15" y="503.54" width="16.97" height="16.04" fill="#2f4ba2"/><rect x="1130.12" y="503.54" width="16.97" height="16.04" fill="#2f4ba2"/><rect x="1147.09" y="503.54" width="16.97" height="16.04" fill="#2f4ba2"/><rect x="1164.06" y="503.54" width="16.97" height="16.04" fill="#3356a9"/><rect x="1181.04" y="503.54" width="16.97" height="16.04" fill="#3356a9"/><rect x="1198.01" y="503.54" width="16.97" height="16.04" fill="#3356a9"/><rect x="1214.98" y="503.54" width="16.97" height="16.04" fill="#3356a9"/><rect x="1231.95" y="503.54" width="16.97" height="16.04" fill="#3356a9"/><rect x="1248.92" y="503.54" width="16.97" height="16.04" fill="#3356a9"/><rect x="1265.89" y="503.54" width="16.97" height="16.04" fill="#2f4ba2"/><rect x="1282.86" y="503.54" width="16.97" height="16.04" fill="#3356a9"/><rect x="1299.83" y="503.54" width="16.97" height="16.04" fill="#3356a9"/><rect x="1316.8" y="503.54" width="16.97" height="16.04" fill="#3356a9"/><rect x="1333.77" y="503.54" width="16.97" height="16.04" fill="#3356a9"/><rect x="1350.75" y="503.54" width="16.97" height="16.04" fill="#2f4ba2"/><rect x="1367.72" y="503.54" width="16.97" height="16.04" fill="#2f4ba2"/><rect x="1384.69" y="503.54" width="16.97" height="16.04" fill="#2f4ba2"/><rect x="1401.66" y="503.54" width="16.97" height="16.04" fill="#3356a9"/><rect x="1418.63" y="503.54" width="16.97" height="16.04" fill="#2f4ba2"/><rect x="1435.6" y="503.54" width="16.97" height="16.04" fill="#2f4ba2"/><rect x="1452.57" y="503.54" width="16.97" height="16.04" fill="#ec2227"/><rect x="1469.54" y="503.54" width="16.97" height="16.04" fill="#ec2227"/><rect x="1486.51" y="503.54" width="16.97" height="16.04" fill="#ec2227"/><rect x="1503.48" y="503.54" width="16.97" height="16.04" fill="#d21f27"/><rect x="1520.45" y="503.54" width="16.97" height="16.04" fill="#d21f27"/><rect x="1537.43" y="503.54" width="16.97" height="16.04" fill="#8c161b"/><rect x="1096.18" y="519.58" width="16.97" height="16.04" fill="#2c4199"/><rect x="1113.15" y="519.58" width="16.97" height="16.04" fill="#2f4ba2"/><rect x="1130.12" y="519.58" width="16.97" height="16.04" fill="#2f4ba2"/><rect x="1147.09" y="519.58" width="16.97" height="16.04" fill="#2f4ba2"/><rect x="1164.06" y="519.58" width="16.97" height="16.04" fill="#2f4ba2"/><rect x="1181.04" y="519.58" width="16.97" height="16.04" fill="#2f4ba2"/><rect x="1198.01" y="519.58" width="16.97" height="16.04" fill="#2f4ba2"/><rect x="1214.98" y="519.58" width="16.97" height="16.04" fill="#2f4ba2"/><rect x="1231.95" y="519.58" width="16.97" height="16.04" fill="#2f4ba2"/><rect x="1248.92" y="519.58" width="16.97" height="16.04" fill="#3356a9"/><rect x="1265.89" y="519.58" width="16.97" height="16.04" fill="#3356a9"/><rect x="1282.86" y="519.58" width="16.97" height="16.04" fill="#2f4ba2"/><rect x="1299.83" y="519.58" width="16.97" height="16.04" fill="#2f4ba2"/><rect x="1316.8" y="519.58" width="16.97" height="16.04" fill="#2f4ba2"/><rect x="1333.77" y="519.58" width="16.97" height="16.04" fill="#2f4ba2"/><rect x="1350.75" y="519.58" width="16.97" height="16.04" fill="#2f4ba2"/><rect x="1367.72" y="519.58" width="16.97" height="16.04" fill="#3356a9"/><rect x="1384.69" y="519.58" width="16.97" height="16.04" fill="#3356a9"/><rect x="1401.66" y="519.58" width="16.97" height="16.04" fill="#2f4ba2"/><rect x="1418.63" y="519.58" width="16.97" height="16.04" fill="#2f4ba2"/><rect x="1435.6" y="519.58" width="16.97" height="16.04" fill="#2f4ba2"/><rect x="1452.57" y="519.58" width="16.97" height="16.04" fill="#7cc79e"/><rect x="1469.54" y="519.58" width="16.97" height="16.04" fill="#7cc79e"/><rect x="1486.51" y="519.58" width="16.97" height="16.04" fill="#7cc79e"/><rect x="1503.48" y="519.58" width="16.97" height="16.04" fill="#7cc79e"/><rect x="1520.45" y="519.58" width="16.97" height="16.04" fill="#7cc79e"/><rect x="1537.43" y="519.58" width="16.97" height="16.04" fill="#7cc79e"/><rect x="1554.4" y="519.58" width="16.97" height="16.04" fill="#8c161b"/><rect x="1096.18" y="535.62" width="16.97" height="16.04" fill="#2c4199"/><rect x="1113.15" y="535.62" width="16.97" height="16.04" fill="#2f4ba2"/><rect x="1130.12" y="535.62" width="16.97" height="16.04" fill="#2f4ba2"/><rect x="1147.09" y="535.62" width="16.97" height="16.04" fill="#3356a9"/><rect x="1164.06" y="535.62" width="16.97" height="16.04" fill="#2f4ba2"/><rect x="1181.04" y="535.62" width="16.97" height="16.04" fill="#2f4ba2"/><rect x="1198.01" y="535.62" width="16.97" height="16.04" fill="#3356a9"/><rect x="1214.98" y="535.62" width="16.97" height="16.04" fill="#3356a9"/><rect x="1231.95" y="535.62" width="16.97" height="16.04" fill="#2f4ba2"/><rect x="1248.92" y="535.62" width="16.97" height="16.04" fill="#3356a9"/><rect x="1265.89" y="535.62" width="16.97" height="16.04" fill="#2f4ba2"/><rect x="1282.86" y="535.62" width="16.97" height="16.04" fill="#3356a9"/><rect x="1299.83" y="535.62" width="16.97" height="16.04" fill="#3356a9"/><rect x="1316.8" y="535.62" width="16.97" height="16.04" fill="#3356a9"/><rect x="1333.77" y="535.62" width="16.97" height="16.04" fill="#3356a9"/><rect x="1350.75" y="535.62" width="16.97" height="16.04" fill="#2f4ba2"/><rect x="1367.72" y="535.62" width="16.97" height="16.04" fill="#2f4ba2"/><rect x="1384.69" y="535.62" width="16.97" height="16.04" fill="#2f4ba2"/><rect x="1401.66" y="535.62" width="16.97" height="16.04" fill="#3356a9"/><rect x="1418.63" y="535.62" width="16.97" height="16.04" fill="#3356a9"/><rect x="1435.6" y="535.62" width="16.97" height="16.04" fill="#3356a9"/><rect x="1452.57" y="535.62" width="16.97" height="16.04" fill="#7cc79e"/><rect x="1469.54" y="535.62" width="16.97" height="16.04" fill="#7cc79e"/><rect x="1486.51" y="535.62" width="16.97" height="16.04" fill="#7cc79e"/><rect x="1503.48" y="535.62" width="16.97" height="16.04" fill="#7cc79e"/><rect x="1520.45" y="535.62" width="16.97" height="16.04" fill="#7cc79e"/><rect x="1537.43" y="535.62" width="16.97" height="16.04" fill="#8dc672"/><rect x="1554.4" y="535.62" width="16.97" height="16.04" fill="#d21f27"/><rect x="1571.37" y="535.62" width="16.97" height="16.04" fill="#8c161b"/><rect x="1096.18" y="551.66" width="16.97" height="16.04" fill="#2c4199"/><rect x="1113.15" y="551.66" width="16.97" height="16.04" fill="#2f4ba2"/><rect x="1130.12" y="551.66" width="16.97" height="16.04" fill="#3356a9"/><rect x="1147.09" y="551.66" width="16.97" height="16.04" fill="#3356a9"/><rect x="1164.06" y="551.66" width="16.97" height="16.04" fill="#3356a9"/><rect x="1181.04" y="551.66" width="16.97" height="16.04" fill="#3356a9"/><rect x="1198.01" y="551.66" width="16.97" height="16.04" fill="#3356a9"/><rect x="1214.98" y="551.66" width="16.97" height="16.04" fill="#3356a9"/><rect x="1231.95" y="551.66" width="16.97" height="16.04" fill="#2f4ba2"/><rect x="1248.92" y="551.66" width="16.97" height="16.04" fill="#3356a9"/><rect x="1265.89" y="551.66" width="16.97" height="16.04" fill="#2f4ba2"/><rect x="1282.86" y="551.66" width="16.97" height="16.04" fill="#2f4ba2"/><rect x="1299.83" y="551.66" width="16.97" height="16.04" fill="#2f4ba2"/><rect x="1316.8" y="551.66" width="16.97" height="16.04" fill="#2f4ba2"/><rect x="1333.77" y="551.66" width="16.97" height="16.04" fill="#2f4ba2"/><rect x="1350.75" y="551.66" width="16.97" height="16.04" fill="#3356a9"/><rect x="1367.72" y="551.66" width="16.97" height="16.04" fill="#3356a9"/><rect x="1384.69" y="551.66" width="16.97" height="16.04" fill="#2f4ba2"/><rect x="1401.66" y="551.66" width="16.97" height="16.04" fill="#3356a9"/><rect x="1418.63" y="551.66" width="16.97" height="16.04" fill="#3356a9"/><rect x="1435.6" y="551.66" width="16.97" height="16.04" fill="#3356a9"/><rect x="1452.57" y="551.66" width="16.97" height="16.04" fill="#72c5a6"/><rect x="1469.54" y="551.66" width="16.97" height="16.04" fill="#72c5a6"/><rect x="1486.51" y="551.66" width="16.97" height="16.04" fill="#72c5a6"/><rect x="1503.48" y="551.66" width="16.97" height="16.04" fill="#72c5a6"/><rect x="1520.45" y="551.66" width="16.97" height="16.04" fill="#72c5a6"/><rect x="1537.43" y="551.66" width="16.97" height="16.04" fill="#72c5a6"/><rect x="1554.4" y="551.66" width="16.97" height="16.04" fill="#f04d24"/><rect x="1571.37" y="551.66" width="16.97" height="16.04" fill="#f04d24"/><rect x="1588.34" y="551.66" width="16.97" height="16.04" fill="#8c161b"/><rect x="1096.18" y="567.7" width="16.97" height="16.04" fill="#2c4199"/><rect x="1113.15" y="567.7" width="16.97" height="16.04" fill="#2f4ba2"/><rect x="1130.12" y="567.7" width="16.97" height="16.04" fill="#2f4ba2"/><rect x="1147.09" y="567.7" width="16.97" height="16.04" fill="#2f4ba2"/><rect x="1164.06" y="567.7" width="16.97" height="16.04" fill="#2f4ba2"/><rect x="1181.04" y="567.7" width="16.97" height="16.04" fill="#3356a9"/><rect x="1198.01" y="567.7" width="16.97" height="16.04" fill="#3356a9"/><rect x="1214.98" y="567.7" width="16.97" height="16.04" fill="#3356a9"/><rect x="1231.95" y="567.7" width="16.97" height="16.04" fill="#2f4ba2"/><rect x="1248.92" y="567.7" width="16.97" height="16.04" fill="#3356a9"/><rect x="1265.89" y="567.7" width="16.97" height="16.04" fill="#3356a9"/><rect x="1282.86" y="567.7" width="16.97" height="16.04" fill="#2f4ba2"/><rect x="1299.83" y="567.7" width="16.97" height="16.04" fill="#3356a9"/><rect x="1316.8" y="567.7" width="16.97" height="16.04" fill="#3356a9"/><rect x="1333.77" y="567.7" width="16.97" height="16.04" fill="#3356a9"/><rect x="1350.75" y="567.7" width="16.97" height="16.04" fill="#3356a9"/><rect x="1367.72" y="567.7" width="16.97" height="16.04" fill="#2f4ba2"/><rect x="1384.69" y="567.7" width="16.97" height="16.04" fill="#2f4ba2"/><rect x="1401.66" y="567.7" width="16.97" height="16.04" fill="#3356a9"/><rect x="1418.63" y="567.7" width="16.97" height="16.04" fill="#2f4ba2"/><rect x="1435.6" y="567.7" width="16.97" height="16.04" fill="#3356a9"/><rect x="1452.57" y="567.7" width="16.97" height="16.04" fill="#7cc79e"/><rect x="1469.54" y="567.7" width="16.97" height="16.04" fill="#7cc79e"/><rect x="1486.51" y="567.7" width="16.97" height="16.04" fill="#7cc79e"/><rect x="1503.48" y="567.7" width="16.97" height="16.04" fill="#7cc79e"/><rect x="1520.45" y="567.7" width="16.97" height="16.04" fill="#7cc79e"/><rect x="1537.43" y="567.7" width="16.97" height="16.04" fill="#7cc79e"/><rect x="1554.4" y="567.7" width="16.97" height="16.04" fill="#f04d24"/><rect x="1571.37" y="567.7" width="16.97" height="16.04" fill="#f04d24"/><rect x="1588.34" y="567.7" width="16.97" height="16.04" fill="#ee3626"/><rect x="1605.31" y="567.7" width="16.97" height="16.04" fill="#8c161b"/><rect x="1096.18" y="583.74" width="16.97" height="16.04" fill="#2c4199"/><rect x="1113.15" y="583.74" width="16.97" height="16.04" fill="#2f4ba2"/><rect x="1130.12" y="583.74" width="16.97" height="16.04" fill="#2f4ba2"/><rect x="1147.09" y="583.74" width="16.97" height="16.04" fill="#3356a9"/><rect x="1164.06" y="583.74" width="16.97" height="16.04" fill="#3356a9"/><rect x="1181.04" y="583.74" width="16.97" height="16.04" fill="#2f4ba2"/><rect x="1198.01" y="583.74" width="16.97" height="16.04" fill="#2f4ba2"/><rect x="1214.98" y="583.74" width="16.97" height="16.04" fill="#2f4ba2"/><rect x="1231.95" y="583.74" width="16.97" height="16.04" fill="#3356a9"/><rect x="1248.92" y="583.74" width="16.97" height="16.04" fill="#3356a9"/><rect x="1265.89" y="583.74" width="16.97" height="16.04" fill="#2f4ba2"/><rect x="1282.86" y="583.74" width="16.97" height="16.04" fill="#3356a9"/><rect x="1299.83" y="583.74" width="16.97" height="16.04" fill="#3356a9"/><rect x="1316.8" y="583.74" width="16.97" height="16.04" fill="#3356a9"/><rect x="1333.77" y="583.74" width="16.97" height="16.04" fill="#2f4ba2"/><rect x="1350.75" y="583.74" width="16.97" height="16.04" fill="#3356a9"/><rect x="1367.72" y="583.74" width="16.97" height="16.04" fill="#2f4ba2"/><rect x="1384.69" y="583.74" width="16.97" height="16.04" fill="#2f4ba2"/><rect x="1401.66" y="583.74" width="16.97" height="16.04" fill="#3356a9"/><rect x="1418.63" y="583.74" width="16.97" height="16.04" fill="#3356a9"/><rect x="1435.6" y="583.74" width="16.97" height="16.04" fill="#3356a9"/><rect x="1452.57" y="583.74" width="16.97" height="16.04" fill="#7cc79e"/><rect x="1469.54" y="583.74" width="16.97" height="16.04" fill="#7cc79e"/><rect x="1486.51" y="583.74" width="16.97" height="16.04" fill="#7cc79e"/><rect x="1503.48" y="583.74" width="16.97" height="16.04" fill="#7cc79e"/><rect x="1520.45" y="583.74" width="16.97" height="16.04" fill="#7cc79e"/><rect x="1537.43" y="583.74" width="16.97" height="16.04" fill="#7cc79e"/><rect x="1554.4" y="583.74" width="16.97" height="16.04" fill="#f04d24"/><rect x="1571.37" y="583.74" width="16.97" height="16.04" fill="#f04d24"/><rect x="1588.34" y="583.74" width="16.97" height="16.04" fill="#ee3626"/><rect x="1605.31" y="583.74" width="16.97" height="16.04" fill="#ec2227"/><rect x="1622.28" y="583.74" width="16.97" height="16.04" fill="#8c161b"/><rect x="1096.18" y="599.78" width="16.97" height="16.04" fill="#2c4199"/><rect x="1113.15" y="599.78" width="16.97" height="16.04" fill="#2f4ba2"/><rect x="1130.12" y="599.78" width="16.97" height="16.04" fill="#3356a9"/><rect x="1147.09" y="599.78" width="16.97" height="16.04" fill="#3356a9"/><rect x="1164.06" y="599.78" width="16.97" height="16.04" fill="#2f4ba2"/><rect x="1181.04" y="599.78" width="16.97" height="16.04" fill="#2f4ba2"/><rect x="1198.01" y="599.78" width="16.97" height="16.04" fill="#2f4ba2"/><rect x="1214.98" y="599.78" width="16.97" height="16.04" fill="#2f4ba2"/><rect x="1231.95" y="599.78" width="16.97" height="16.04" fill="#3356a9"/><rect x="1248.92" y="599.78" width="16.97" height="16.04" fill="#2f4ba2"/><rect x="1265.89" y="599.78" width="16.97" height="16.04" fill="#2f4ba2"/><rect x="1282.86" y="599.78" width="16.97" height="16.04" fill="#2f4ba2"/><rect x="1299.83" y="599.78" width="16.97" height="16.04" fill="#3356a9"/><rect x="1316.8" y="599.78" width="16.97" height="16.04" fill="#2f4ba2"/><rect x="1333.77" y="599.78" width="16.97" height="16.04" fill="#2f4ba2"/><rect x="1350.75" y="599.78" width="16.97" height="16.04" fill="#3356a9"/><rect x="1367.72" y="599.78" width="16.97" height="16.04" fill="#3356a9"/><rect x="1384.69" y="599.78" width="16.97" height="16.04" fill="#2f4ba2"/><rect x="1401.66" y="599.78" width="16.97" height="16.04" fill="#3356a9"/><rect x="1418.63" y="599.78" width="16.97" height="16.04" fill="#3356a9"/><rect x="1435.6" y="599.78" width="16.97" height="16.04" fill="#3356a9"/><rect x="1452.57" y="599.78" width="16.97" height="16.04" fill="#5dc4d2"/><rect x="1469.54" y="599.78" width="16.97" height="16.04" fill="#5dc4d2"/><rect x="1486.51" y="599.78" width="16.97" height="16.04" fill="#5dc4d2"/><rect x="1503.48" y="599.78" width="16.97" height="16.04" fill="#5dc4d2"/><rect x="1520.45" y="599.78" width="16.97" height="16.04" fill="#5dc4d2"/><rect x="1537.43" y="599.78" width="16.97" height="16.04" fill="#5dc4d2"/><rect x="1554.4" y="599.78" width="16.97" height="16.04" fill="#5dc4d2"/><rect x="1571.37" y="599.78" width="16.97" height="16.04" fill="#5dc4d2"/><rect x="1588.34" y="599.78" width="16.97" height="16.04" fill="#5dc4d2"/><rect x="1605.31" y="599.78" width="16.97" height="16.04" fill="#5dc4d2"/><rect x="1622.28" y="599.78" width="16.97" height="16.04" fill="#5dc4d2"/><rect x="1639.25" y="599.78" width="16.97" height="16.04" fill="#8c161b"/><rect x="1096.18" y="615.82" width="16.97" height="16.04" fill="#2c4199"/><rect x="1113.15" y="615.82" width="16.97" height="16.04" fill="#2f4ba2"/><rect x="1130.12" y="615.82" width="16.97" height="16.04" fill="#2f4ba2"/><rect x="1147.09" y="615.82" width="16.97" height="16.04" fill="#2f4ba2"/><rect x="1164.06" y="615.82" width="16.97" height="16.04" fill="#2f4ba2"/><rect x="1181.04" y="615.82" width="16.97" height="16.04" fill="#3356a9"/><rect x="1198.01" y="615.82" width="16.97" height="16.04" fill="#2f4ba2"/><rect x="1214.98" y="615.82" width="16.97" height="16.04" fill="#2f4ba2"/><rect x="1231.95" y="615.82" width="16.97" height="16.04" fill="#3356a9"/><rect x="1248.92" y="615.82" width="16.97" height="16.04" fill="#3356a9"/><rect x="1265.89" y="615.82" width="16.97" height="16.04" fill="#2f4ba2"/><rect x="1282.86" y="615.82" width="16.97" height="16.04" fill="#3356a9"/><rect x="1299.83" y="615.82" width="16.97" height="16.04" fill="#3356a9"/><rect x="1316.8" y="615.82" width="16.97" height="16.04" fill="#3356a9"/><rect x="1333.77" y="615.82" width="16.97" height="16.04" fill="#2f4ba2"/><rect x="1350.75" y="615.82" width="16.97" height="16.04" fill="#3356a9"/><rect x="1367.72" y="615.82" width="16.97" height="16.04" fill="#2f4ba2"/><rect x="1384.69" y="615.82" width="16.97" height="16.04" fill="#2f4ba2"/><rect x="1401.66" y="615.82" width="16.97" height="16.04" fill="#3356a9"/><rect x="1418.63" y="615.82" width="16.97" height="16.04" fill="#3356a9"/><rect x="1435.6" y="615.82" width="16.97" height="16.04" fill="#3356a9"/><rect x="1452.57" y="615.82" width="16.97" height="16.04" fill="#5dc4d2"/><rect x="1469.54" y="615.82" width="16.97" height="16.04" fill="#5dc4d2"/><rect x="1486.51" y="615.82" width="16.97" height="16.04" fill="#5dc4d2"/><rect x="1503.48" y="615.82" width="16.97" height="16.04" fill="#5dc4d2"/><rect x="1520.45" y="615.82" width="16.97" height="16.04" fill="#5dc4d2"/><rect x="1537.43" y="615.82" width="16.97" height="16.04" fill="#5dc4d2"/><rect x="1554.4" y="615.82" width="16.97" height="16.04" fill="#5dc4d2"/><rect x="1571.37" y="615.82" width="16.97" height="16.04" fill="#5dc4d2"/><rect x="1588.34" y="615.82" width="16.97" height="16.04" fill="#5dc4d2"/><rect x="1605.31" y="615.82" width="16.97" height="16.04" fill="#5dc4d2"/><rect x="1622.28" y="615.82" width="16.97" height="16.04" fill="#5dc4d2"/><rect x="1639.25" y="615.82" width="16.97" height="16.04" fill="#ae1c24"/><rect x="1656.22" y="615.82" width="16.97" height="16.04" fill="#8c161b"/><rect x="1096.18" y="631.86" width="16.97" height="16.04" fill="#2c4199"/><rect x="1113.15" y="631.86" width="16.97" height="16.04" fill="#3356a9"/><rect x="1130.12" y="631.86" width="16.97" height="16.04" fill="#2f4ba2"/><rect x="1147.09" y="631.86" width="16.97" height="16.04" fill="#3356a9"/><rect x="1164.06" y="631.86" width="16.97" height="16.04" fill="#3356a9"/><rect x="1181.04" y="631.86" width="16.97" height="16.04" fill="#3356a9"/><rect x="1198.01" y="631.86" width="16.97" height="16.04" fill="#3356a9"/><rect x="1214.98" y="631.86" width="16.97" height="16.04" fill="#2f4ba2"/><rect x="1231.95" y="631.86" width="16.97" height="16.04" fill="#3356a9"/><rect x="1248.92" y="631.86" width="16.97" height="16.04" fill="#2f4ba2"/><rect x="1265.89" y="631.86" width="16.97" height="16.04" fill="#3356a9"/><rect x="1282.86" y="631.86" width="16.97" height="16.04" fill="#3356a9"/><rect x="1299.83" y="631.86" width="16.97" height="16.04" fill="#3356a9"/><rect x="1316.8" y="631.86" width="16.97" height="16.04" fill="#3356a9"/><rect x="1333.77" y="631.86" width="16.97" height="16.04" fill="#2f4ba2"/><rect x="1350.75" y="631.86" width="16.97" height="16.04" fill="#3356a9"/><rect x="1367.72" y="631.86" width="16.97" height="16.04" fill="#3356a9"/><rect x="1384.69" y="631.86" width="16.97" height="16.04" fill="#3356a9"/><rect x="1401.66" y="631.86" width="16.97" height="16.04" fill="#2f4ba2"/><rect x="1418.63" y="631.86" width="16.97" height="16.04" fill="#2f4ba2"/><rect x="1435.6" y="631.86" width="16.97" height="16.04" fill="#2f4ba2"/><rect x="1452.57" y="631.86" width="16.97" height="16.04" fill="#5dc4d2"/><rect x="1469.54" y="631.86" width="16.97" height="16.04" fill="#5dc4d2"/><rect x="1486.51" y="631.86" width="16.97" height="16.04" fill="#5dc4d2"/><rect x="1503.48" y="631.86" width="16.97" height="16.04" fill="#5dc4d2"/><rect x="1520.45" y="631.86" width="16.97" height="16.04" fill="#5dc4d2"/><rect x="1537.43" y="631.86" width="16.97" height="16.04" fill="#5dc4d2"/><rect x="1554.4" y="631.86" width="16.97" height="16.04" fill="#5dc4d2"/><rect x="1571.37" y="631.86" width="16.97" height="16.04" fill="#5dc4d2"/><rect x="1588.34" y="631.86" width="16.97" height="16.04" fill="#5dc4d2"/><rect x="1605.31" y="631.86" width="16.97" height="16.04" fill="#5dc4d2"/><rect x="1622.28" y="631.86" width="16.97" height="16.04" fill="#5dc4d2"/><rect x="1639.25" y="631.86" width="16.97" height="16.04" fill="#ae1c24"/><rect x="1656.22" y="631.86" width="16.97" height="16.04" fill="#ae1c24"/><rect x="1673.19" y="631.86" width="16.97" height="16.04" fill="#8c161b"/><rect x="1096.18" y="647.91" width="16.97" height="16.04" fill="#2f4ba2"/><rect x="1113.15" y="647.91" width="16.97" height="16.04" fill="#2f4ba2"/><rect x="1130.12" y="647.91" width="16.97" height="16.04" fill="#2f4ba2"/><rect x="1147.09" y="647.91" width="16.97" height="16.04" fill="#3356a9"/><rect x="1164.06" y="647.91" width="16.97" height="16.04" fill="#3356a9"/><rect x="1181.04" y="647.91" width="16.97" height="16.04" fill="#3356a9"/><rect x="1198.01" y="647.91" width="16.97" height="16.04" fill="#2f4ba2"/><rect x="1214.98" y="647.91" width="16.97" height="16.04" fill="#3356a9"/><rect x="1231.95" y="647.91" width="16.97" height="16.04" fill="#3356a9"/><rect x="1248.92" y="647.91" width="16.97" height="16.04" fill="#2f4ba2"/><rect x="1265.89" y="647.91" width="16.97" height="16.04" fill="#3356a9"/><rect x="1282.86" y="647.91" width="16.97" height="16.04" fill="#3356a9"/><rect x="1299.83" y="647.91" width="16.97" height="16.04" fill="#2f4ba2"/><rect x="1316.8" y="647.91" width="16.97" height="16.04" fill="#3356a9"/><rect x="1333.77" y="647.91" width="16.97" height="16.04" fill="#2f4ba2"/><rect x="1350.75" y="647.91" width="16.97" height="16.04" fill="#2f4ba2"/><rect x="1367.72" y="647.91" width="16.97" height="16.04" fill="#3356a9"/><rect x="1384.69" y="647.91" width="16.97" height="16.04" fill="#3356a9"/><rect x="1401.66" y="647.91" width="16.97" height="16.04" fill="#2f4ba2"/><rect x="1418.63" y="647.91" width="16.97" height="16.04" fill="#2f4ba2"/><rect x="1435.6" y="647.91" width="16.97" height="16.04" fill="#3356a9"/><rect x="1452.57" y="647.91" width="16.97" height="16.04" fill="#3d7dc7"/><rect x="1469.54" y="647.91" width="16.97" height="16.04" fill="#3d7dc7"/><rect x="1486.51" y="647.91" width="16.97" height="16.04" fill="#3d7dc7"/><rect x="1503.48" y="647.91" width="16.97" height="16.04" fill="#3d7dc7"/><rect x="1520.45" y="647.91" width="16.97" height="16.04" fill="#3d7dc7"/><rect x="1537.43" y="647.91" width="16.97" height="16.04" fill="#3d7dc7"/><rect x="1554.4" y="647.91" width="16.97" height="16.04" fill="#3d7dc7"/><rect x="1571.37" y="647.91" width="16.97" height="16.04" fill="#3d7dc7"/><rect x="1588.34" y="647.91" width="16.97" height="16.04" fill="#3d7dc7"/><rect x="1605.31" y="647.91" width="16.97" height="16.04" fill="#3d7dc7"/><rect x="1622.28" y="647.91" width="16.97" height="16.04" fill="#3d7dc7"/><rect x="1639.25" y="647.91" width="16.97" height="16.04" fill="#3d7dc7"/><rect x="1656.22" y="647.91" width="16.97" height="16.04" fill="#3d7dc7"/><rect x="1673.19" y="647.91" width="16.97" height="16.04" fill="#3d7dc7"/><rect x="1690.16" y="647.91" width="16.97" height="16.04" fill="#8c161b"/><rect x="1096.18" y="663.95" width="16.97" height="16.04" fill="#2f4ba2"/><rect x="1113.15" y="663.95" width="16.97" height="16.04" fill="#2f4ba2"/><rect x="1130.12" y="663.95" width="16.97" height="16.04" fill="#2f4ba2"/><rect x="1147.09" y="663.95" width="16.97" height="16.04" fill="#3356a9"/><rect x="1164.06" y="663.95" width="16.97" height="16.04" fill="#2f4ba2"/><rect x="1181.04" y="663.95" width="16.97" height="16.04" fill="#3356a9"/><rect x="1198.01" y="663.95" width="16.97" height="16.04" fill="#2f4ba2"/><rect x="1214.98" y="663.95" width="16.97" height="16.04" fill="#2f4ba2"/><rect x="1231.95" y="663.95" width="16.97" height="16.04" fill="#2f4ba2"/><rect x="1248.92" y="663.95" width="16.97" height="16.04" fill="#3356a9"/><rect x="1265.89" y="663.95" width="16.97" height="16.04" fill="#3356a9"/><rect x="1282.86" y="663.95" width="16.97" height="16.04" fill="#2f4ba2"/><rect x="1299.83" y="663.95" width="16.97" height="16.04" fill="#3356a9"/><rect x="1316.8" y="663.95" width="16.97" height="16.04" fill="#3356a9"/><rect x="1333.77" y="663.95" width="16.97" height="16.04" fill="#3356a9"/><rect x="1350.75" y="663.95" width="16.97" height="16.04" fill="#2f4ba2"/><rect x="1367.72" y="663.95" width="16.97" height="16.04" fill="#2f4ba2"/><rect x="1384.69" y="663.95" width="16.97" height="16.04" fill="#2f4ba2"/><rect x="1401.66" y="663.95" width="16.97" height="16.04" fill="#3356a9"/><rect x="1418.63" y="663.95" width="16.97" height="16.04" fill="#2f4ba2"/><rect x="1435.6" y="663.95" width="16.97" height="16.04" fill="#2f4ba2"/><rect x="1452.57" y="663.95" width="16.97" height="16.04" fill="#3d7dc7"/><rect x="1469.54" y="663.95" width="16.97" height="16.04" fill="#3d7dc7"/><rect x="1486.51" y="663.95" width="16.97" height="16.04" fill="#3d7dc7"/><rect x="1503.48" y="663.95" width="16.97" height="16.04" fill="#3d7dc7"/><rect x="1520.45" y="663.95" width="16.97" height="16.04" fill="#3d7dc7"/><rect x="1537.43" y="663.95" width="16.97" height="16.04" fill="#3d7dc7"/><rect x="1554.4" y="663.95" width="16.97" height="16.04" fill="#3d7dc7"/><rect x="1571.37" y="663.95" width="16.97" height="16.04" fill="#3d7dc7"/><rect x="1588.34" y="663.95" width="16.97" height="16.04" fill="#3d7dc7"/><rect x="1605.31" y="663.95" width="16.97" height="16.04" fill="#3d7dc7"/><rect x="1622.28" y="663.95" width="16.97" height="16.04" fill="#3d7dc7"/><rect x="1639.25" y="663.95" width="16.97" height="16.04" fill="#3d7dc7"/><rect x="1656.22" y="663.95" width="16.97" height="16.04" fill="#3d7dc7"/><rect x="1673.19" y="663.95" width="16.97" height="16.04" fill="#3d7dc7"/><rect x="1690.16" y="663.95" width="16.97" height="16.04" fill="#ae1c24"/><rect x="1707.14" y="663.95" width="16.97" height="16.04" fill="#8c161b"/><rect x="1096.18" y="679.99" width="16.97" height="16.04" fill="#2f4ba2"/><rect x="1113.15" y="679.99" width="16.97" height="16.04" fill="#3356a9"/><rect x="1130.12" y="679.99" width="16.97" height="16.04" fill="#3356a9"/><rect x="1147.09" y="679.99" width="16.97" height="16.04" fill="#2f4ba2"/><rect x="1164.06" y="679.99" width="16.97" height="16.04" fill="#2f4ba2"/><rect x="1181.04" y="679.99" width="16.97" height="16.04" fill="#3356a9"/><rect x="1198.01" y="679.99" width="16.97" height="16.04" fill="#3356a9"/><rect x="1214.98" y="679.99" width="16.97" height="16.04" fill="#3356a9"/><rect x="1231.95" y="679.99" width="16.97" height="16.04" fill="#2f4ba2"/><rect x="1248.92" y="679.99" width="16.97" height="16.04" fill="#2f4ba2"/><rect x="1265.89" y="679.99" width="16.97" height="16.04" fill="#3356a9"/><rect x="1282.86" y="679.99" width="16.97" height="16.04" fill="#2f4ba2"/><rect x="1299.83" y="679.99" width="16.97" height="16.04" fill="#2f4ba2"/><rect x="1316.8" y="679.99" width="16.97" height="16.04" fill="#3356a9"/><rect x="1333.77" y="679.99" width="16.97" height="16.04" fill="#3356a9"/><rect x="1350.75" y="679.99" width="16.97" height="16.04" fill="#3356a9"/><rect x="1367.72" y="679.99" width="16.97" height="16.04" fill="#2f4ba2"/><rect x="1384.69" y="679.99" width="16.97" height="16.04" fill="#3356a9"/><rect x="1401.66" y="679.99" width="16.97" height="16.04" fill="#2f4ba2"/><rect x="1418.63" y="679.99" width="16.97" height="16.04" fill="#3356a9"/><rect x="1435.6" y="679.99" width="16.97" height="16.04" fill="#2f4ba2"/><rect x="1452.57" y="679.99" width="16.97" height="16.04" fill="#3d7dc7"/><rect x="1469.54" y="679.99" width="16.97" height="16.04" fill="#3d7dc7"/><rect x="1486.51" y="679.99" width="16.97" height="16.04" fill="#3d7dc7"/><rect x="1503.48" y="679.99" width="16.97" height="16.04" fill="#3d7dc7"/><rect x="1520.45" y="679.99" width="16.97" height="16.04" fill="#3d7dc7"/><rect x="1537.43" y="679.99" width="16.97" height="16.04" fill="#3d7dc7"/><rect x="1554.4" y="679.99" width="16.97" height="16.04" fill="#3d7dc7"/><rect x="1571.37" y="679.99" width="16.97" height="16.04" fill="#3d7dc7"/><rect x="1588.34" y="679.99" width="16.97" height="16.04" fill="#3d7dc7"/><rect x="1605.31" y="679.99" width="16.97" height="16.04" fill="#3d7dc7"/><rect x="1622.28" y="679.99" width="16.97" height="16.04" fill="#3d7dc7"/><rect x="1639.25" y="679.99" width="16.97" height="16.04" fill="#3d7dc7"/><rect x="1656.22" y="679.99" width="16.97" height="16.04" fill="#3d7dc7"/><rect x="1673.19" y="679.99" width="16.97" height="16.04" fill="#3d7dc7"/><rect x="1690.16" y="679.99" width="16.97" height="16.04" fill="#fbd915"/><rect x="1707.14" y="679.99" width="16.97" height="16.04" fill="#fbd915"/><rect x="1724.11" y="679.99" width="16.97" height="16.04" fill="#8c161b"/><rect x="1096.18" y="696.03" width="16.97" height="16.04" fill="#2f4ba2"/><rect x="1113.15" y="696.03" width="16.97" height="16.04" fill="#3356a9"/><rect x="1130.12" y="696.03" width="16.97" height="16.04" fill="#3356a9"/><rect x="1147.09" y="696.03" width="16.97" height="16.04" fill="#2f4ba2"/><rect x="1164.06" y="696.03" width="16.97" height="16.04" fill="#2f4ba2"/><rect x="1181.04" y="696.03" width="16.97" height="16.04" fill="#3356a9"/><rect x="1198.01" y="696.03" width="16.97" height="16.04" fill="#2f4ba2"/><rect x="1214.98" y="696.03" width="16.97" height="16.04" fill="#2f4ba2"/><rect x="1231.95" y="696.03" width="16.97" height="16.04" fill="#2f4ba2"/><rect x="1248.92" y="696.03" width="16.97" height="16.04" fill="#2f4ba2"/><rect x="1265.89" y="696.03" width="16.97" height="16.04" fill="#2f4ba2"/><rect x="1282.86" y="696.03" width="16.97" height="16.04" fill="#2f4ba2"/><rect x="1299.83" y="696.03" width="16.97" height="16.04" fill="#2f4ba2"/><rect x="1316.8" y="696.03" width="16.97" height="16.04" fill="#3356a9"/><rect x="1333.77" y="696.03" width="16.97" height="16.04" fill="#2f4ba2"/><rect x="1350.75" y="696.03" width="16.97" height="16.04" fill="#3356a9"/><rect x="1367.72" y="696.03" width="16.97" height="16.04" fill="#2f4ba2"/><rect x="1384.69" y="696.03" width="16.97" height="16.04" fill="#2f4ba2"/><rect x="1401.66" y="696.03" width="16.97" height="16.04" fill="#2f4ba2"/><rect x="1418.63" y="696.03" width="16.97" height="16.04" fill="#2f4ba2"/><rect x="1435.6" y="696.03" width="16.97" height="16.04" fill="#2f4ba2"/><rect x="1452.57" y="696.03" width="16.97" height="16.04" fill="#3867b7"/><rect x="1469.54" y="696.03" width="16.97" height="16.04" fill="#3867b7"/><rect x="1486.51" y="696.03" width="16.97" height="16.04" fill="#3867b7"/><rect x="1503.48" y="696.03" width="16.97" height="16.04" fill="#3867b7"/><rect x="1520.45" y="696.03" width="16.97" height="16.04" fill="#3867b7"/><rect x="1537.43" y="696.03" width="16.97" height="16.04" fill="#3867b7"/><rect x="1554.4" y="696.03" width="16.97" height="16.04" fill="#3867b7"/><rect x="1571.37" y="696.03" width="16.97" height="16.04" fill="#3867b7"/><rect x="1588.34" y="696.03" width="16.97" height="16.04" fill="#3867b7"/><rect x="1605.31" y="696.03" width="16.97" height="16.04" fill="#3867b7"/><rect x="1622.28" y="696.03" width="16.97" height="16.04" fill="#3867b7"/><rect x="1639.25" y="696.03" width="16.97" height="16.04" fill="#3867b7"/><rect x="1656.22" y="696.03" width="16.97" height="16.04" fill="#3867b7"/><rect x="1673.19" y="696.03" width="16.97" height="16.04" fill="#3867b7"/><rect x="1690.16" y="696.03" width="16.97" height="16.04" fill="#3867b7"/><rect x="1707.14" y="696.03" width="16.97" height="16.04" fill="#3867b7"/><rect x="1724.11" y="696.03" width="16.97" height="16.04" fill="#3867b7"/><rect x="1741.08" y="696.03" width="16.97" height="16.04" fill="#8c161b"/><rect x="1096.18" y="712.07" width="16.97" height="16.04" fill="#3356a9"/><rect x="1113.15" y="712.07" width="16.97" height="16.04" fill="#3356a9"/><rect x="1130.12" y="712.07" width="16.97" height="16.04" fill="#2f4ba2"/><rect x="1147.09" y="712.07" width="16.97" height="16.04" fill="#2f4ba2"/><rect x="1164.06" y="712.07" width="16.97" height="16.04" fill="#3356a9"/><rect x="1181.04" y="712.07" width="16.97" height="16.04" fill="#2f4ba2"/><rect x="1198.01" y="712.07" width="16.97" height="16.04" fill="#3356a9"/><rect x="1214.98" y="712.07" width="16.97" height="16.04" fill="#2f4ba2"/><rect x="1231.95" y="712.07" width="16.97" height="16.04" fill="#2f4ba2"/><rect x="1248.92" y="712.07" width="16.97" height="16.04" fill="#3356a9"/><rect x="1265.89" y="712.07" width="16.97" height="16.04" fill="#2f4ba2"/><rect x="1282.86" y="712.07" width="16.97" height="16.04" fill="#3356a9"/><rect x="1299.83" y="712.07" width="16.97" height="16.04" fill="#3356a9"/><rect x="1316.8" y="712.07" width="16.97" height="16.04" fill="#3356a9"/><rect x="1333.77" y="712.07" width="16.97" height="16.04" fill="#2f4ba2"/><rect x="1350.75" y="712.07" width="16.97" height="16.04" fill="#3356a9"/><rect x="1367.72" y="712.07" width="16.97" height="16.04" fill="#3356a9"/><rect x="1384.69" y="712.07" width="16.97" height="16.04" fill="#3356a9"/><rect x="1401.66" y="712.07" width="16.97" height="16.04" fill="#2f4ba2"/><rect x="1418.63" y="712.07" width="16.97" height="16.04" fill="#2f4ba2"/><rect x="1435.6" y="712.07" width="16.97" height="16.04" fill="#2f4ba2"/><rect x="1452.57" y="712.07" width="16.97" height="16.04" fill="#3867b7"/><rect x="1469.54" y="712.07" width="16.97" height="16.04" fill="#3867b7"/><rect x="1486.51" y="712.07" width="16.97" height="16.04" fill="#3867b7"/><rect x="1503.48" y="712.07" width="16.97" height="16.04" fill="#3867b7"/><rect x="1520.45" y="712.07" width="16.97" height="16.04" fill="#3867b7"/><rect x="1537.43" y="712.07" width="16.97" height="16.04" fill="#3867b7"/><rect x="1554.4" y="712.07" width="16.97" height="16.04" fill="#3867b7"/><rect x="1571.37" y="712.07" width="16.97" height="16.04" fill="#3867b7"/><rect x="1588.34" y="712.07" width="16.97" height="16.04" fill="#3867b7"/><rect x="1605.31" y="712.07" width="16.97" height="16.04" fill="#3867b7"/><rect x="1622.28" y="712.07" width="16.97" height="16.04" fill="#3867b7"/><rect x="1639.25" y="712.07" width="16.97" height="16.04" fill="#3867b7"/><rect x="1656.22" y="712.07" width="16.97" height="16.04" fill="#3867b7"/><rect x="1673.19" y="712.07" width="16.97" height="16.04" fill="#3867b7"/><rect x="1690.16" y="712.07" width="16.97" height="16.04" fill="#3867b7"/><rect x="1707.14" y="712.07" width="16.97" height="16.04" fill="#3867b7"/><rect x="1724.11" y="712.07" width="16.97" height="16.04" fill="#3867b7"/><rect x="1741.08" y="712.07" width="16.97" height="16.04" fill="#ec2227"/><rect x="1758.05" y="712.07" width="16.97" height="16.04" fill="#8c161b"/><rect x="1096.18" y="728.11" width="16.97" height="16.04" fill="#2f4ba2"/><rect x="1113.15" y="728.11" width="16.97" height="16.04" fill="#2f4ba2"/><rect x="1130.12" y="728.11" width="16.97" height="16.04" fill="#3356a9"/><rect x="1147.09" y="728.11" width="16.97" height="16.04" fill="#2f4ba2"/><rect x="1164.06" y="728.11" width="16.97" height="16.04" fill="#2f4ba2"/><rect x="1181.04" y="728.11" width="16.97" height="16.04" fill="#2f4ba2"/><rect x="1198.01" y="728.11" width="16.97" height="16.04" fill="#3356a9"/><rect x="1214.98" y="728.11" width="16.97" height="16.04" fill="#3356a9"/><rect x="1231.95" y="728.11" width="16.97" height="16.04" fill="#3356a9"/><rect x="1248.92" y="728.11" width="16.97" height="16.04" fill="#2f4ba2"/><rect x="1265.89" y="728.11" width="16.97" height="16.04" fill="#2f4ba2"/><rect x="1282.86" y="728.11" width="16.97" height="16.04" fill="#2f4ba2"/><rect x="1299.83" y="728.11" width="16.97" height="16.04" fill="#2f4ba2"/><rect x="1316.8" y="728.11" width="16.97" height="16.04" fill="#2f4ba2"/><rect x="1333.77" y="728.11" width="16.97" height="16.04" fill="#2f4ba2"/><rect x="1350.75" y="728.11" width="16.97" height="16.04" fill="#2f4ba2"/><rect x="1367.72" y="728.11" width="16.97" height="16.04" fill="#3356a9"/><rect x="1384.69" y="728.11" width="16.97" height="16.04" fill="#3356a9"/><rect x="1401.66" y="728.11" width="16.97" height="16.04" fill="#3356a9"/><rect x="1418.63" y="728.11" width="16.97" height="16.04" fill="#2f4ba2"/><rect x="1435.6" y="728.11" width="16.97" height="16.04" fill="#3356a9"/><rect x="1452.57" y="728.11" width="16.97" height="16.04" fill="#3867b7"/><rect x="1469.54" y="728.11" width="16.97" height="16.04" fill="#3867b7"/><rect x="1486.51" y="728.11" width="16.97" height="16.04" fill="#3867b7"/><rect x="1503.48" y="728.11" width="16.97" height="16.04" fill="#3867b7"/><rect x="1520.45" y="728.11" width="16.97" height="16.04" fill="#3867b7"/><rect x="1537.43" y="728.11" width="16.97" height="16.04" fill="#3867b7"/><rect x="1554.4" y="728.11" width="16.97" height="16.04" fill="#3867b7"/><rect x="1571.37" y="728.11" width="16.97" height="16.04" fill="#3867b7"/><rect x="1588.34" y="728.11" width="16.97" height="16.04" fill="#3867b7"/><rect x="1605.31" y="728.11" width="16.97" height="16.04" fill="#3867b7"/><rect x="1622.28" y="728.11" width="16.97" height="16.04" fill="#3867b7"/><rect x="1639.25" y="728.11" width="16.97" height="16.04" fill="#3867b7"/><rect x="1656.22" y="728.11" width="16.97" height="16.04" fill="#3867b7"/><rect x="1673.19" y="728.11" width="16.97" height="16.04" fill="#3867b7"/><rect x="1690.16" y="728.11" width="16.97" height="16.04" fill="#3867b7"/><rect x="1707.14" y="728.11" width="16.97" height="16.04" fill="#3867b7"/><rect x="1724.11" y="728.11" width="16.97" height="16.04" fill="#3867b7"/><rect x="1741.08" y="728.11" width="16.97" height="16.04" fill="#3867b7"/><rect x="1758.05" y="728.11" width="16.97" height="16.04" fill="#3867b7"/><rect x="1775.02" y="728.11" width="16.97" height="16.04" fill="#8c161b"/><rect x="1096.18" y="744.15" width="16.97" height="16.04" fill="#2f4ba2"/><rect x="1113.15" y="744.15" width="16.97" height="16.04" fill="#2f4ba2"/><rect x="1130.12" y="744.15" width="16.97" height="16.04" fill="#2f4ba2"/><rect x="1147.09" y="744.15" width="16.97" height="16.04" fill="#2f4ba2"/><rect x="1164.06" y="744.15" width="16.97" height="16.04" fill="#2f4ba2"/><rect x="1181.04" y="744.15" width="16.97" height="16.04" fill="#3356a9"/><rect x="1198.01" y="744.15" width="16.97" height="16.04" fill="#2f4ba2"/><rect x="1214.98" y="744.15" width="16.97" height="16.04" fill="#3356a9"/><rect x="1231.95" y="744.15" width="16.97" height="16.04" fill="#2f4ba2"/><rect x="1248.92" y="744.15" width="16.97" height="16.04" fill="#2f4ba2"/><rect x="1265.89" y="744.15" width="16.97" height="16.04" fill="#2f4ba2"/><rect x="1282.86" y="744.15" width="16.97" height="16.04" fill="#2f4ba2"/><rect x="1299.83" y="744.15" width="16.97" height="16.04" fill="#2f4ba2"/><rect x="1316.8" y="744.15" width="16.97" height="16.04" fill="#2f4ba2"/><rect x="1333.77" y="744.15" width="16.97" height="16.04" fill="#2f4ba2"/><rect x="1350.75" y="744.15" width="16.97" height="16.04" fill="#2f4ba2"/><rect x="1367.72" y="744.15" width="16.97" height="16.04" fill="#3356a9"/><rect x="1384.69" y="744.15" width="16.97" height="16.04" fill="#3356a9"/><rect x="1401.66" y="744.15" width="16.97" height="16.04" fill="#3356a9"/><rect x="1418.63" y="744.15" width="16.97" height="16.04" fill="#3356a9"/><rect x="1435.6" y="744.15" width="16.97" height="16.04" fill="#3356a9"/><rect x="1452.57" y="744.15" width="16.97" height="16.04" fill="#3867b7"/><rect x="1469.54" y="744.15" width="16.97" height="16.04" fill="#3867b7"/><rect x="1486.51" y="744.15" width="16.97" height="16.04" fill="#3867b7"/><rect x="1503.48" y="744.15" width="16.97" height="16.04" fill="#3867b7"/><rect x="1520.45" y="744.15" width="16.97" height="16.04" fill="#3867b7"/><rect x="1537.43" y="744.15" width="16.97" height="16.04" fill="#3867b7"/><rect x="1554.4" y="744.15" width="16.97" height="16.04" fill="#3867b7"/><rect x="1571.37" y="744.15" width="16.97" height="16.04" fill="#3867b7"/><rect x="1588.34" y="744.15" width="16.97" height="16.04" fill="#3867b7"/><rect x="1605.31" y="744.15" width="16.97" height="16.04" fill="#3867b7"/><rect x="1622.28" y="744.15" width="16.97" height="16.04" fill="#3867b7"/><rect x="1639.25" y="744.15" width="16.97" height="16.04" fill="#3867b7"/><rect x="1656.22" y="744.15" width="16.97" height="16.04" fill="#3867b7"/><rect x="1673.19" y="744.15" width="16.97" height="16.04" fill="#3867b7"/><rect x="1690.16" y="744.15" width="16.97" height="16.04" fill="#3867b7"/><rect x="1707.14" y="744.15" width="16.97" height="16.04" fill="#3867b7"/><rect x="1724.11" y="744.15" width="16.97" height="16.04" fill="#3867b7"/><rect x="1741.08" y="744.15" width="16.97" height="16.04" fill="#3867b7"/><rect x="1758.05" y="744.15" width="16.97" height="16.04" fill="#3867b7"/><rect x="1775.02" y="744.15" width="16.97" height="16.04" fill="#8c161b"/><rect x="1791.99" y="744.15" width="16.97" height="16.04" fill="#8c161b"/><rect x="1096.18" y="760.19" width="16.97" height="16.04" fill="#3356a9"/><rect x="1113.15" y="760.19" width="16.97" height="16.04" fill="#2f4ba2"/><rect x="1130.12" y="760.19" width="16.97" height="16.04" fill="#2f4ba2"/><rect x="1147.09" y="760.19" width="16.97" height="16.04" fill="#3356a9"/><rect x="1164.06" y="760.19" width="16.97" height="16.04" fill="#2f4ba2"/><rect x="1181.04" y="760.19" width="16.97" height="16.04" fill="#3356a9"/><rect x="1198.01" y="760.19" width="16.97" height="16.04" fill="#3356a9"/><rect x="1214.98" y="760.19" width="16.97" height="16.04" fill="#2f4ba2"/><rect x="1231.95" y="760.19" width="16.97" height="16.04" fill="#3356a9"/><rect x="1248.92" y="760.19" width="16.97" height="16.04" fill="#3356a9"/><rect x="1265.89" y="760.19" width="16.97" height="16.04" fill="#3356a9"/><rect x="1282.86" y="760.19" width="16.97" height="16.04" fill="#3356a9"/><rect x="1299.83" y="760.19" width="16.97" height="16.04" fill="#3356a9"/><rect x="1316.8" y="760.19" width="16.97" height="16.04" fill="#2f4ba2"/><rect x="1333.77" y="760.19" width="16.97" height="16.04" fill="#3356a9"/><rect x="1350.75" y="760.19" width="16.97" height="16.04" fill="#3356a9"/><rect x="1367.72" y="760.19" width="16.97" height="16.04" fill="#3356a9"/><rect x="1384.69" y="760.19" width="16.97" height="16.04" fill="#3356a9"/><rect x="1401.66" y="760.19" width="16.97" height="16.04" fill="#3356a9"/><rect x="1418.63" y="760.19" width="16.97" height="16.04" fill="#3356a9"/><rect x="1435.6" y="760.19" width="16.97" height="16.04" fill="#3356a9"/><rect x="1452.57" y="760.19" width="16.97" height="16.04" fill="#3867b7"/><rect x="1469.54" y="760.19" width="16.97" height="16.04" fill="#3867b7"/><rect x="1486.51" y="760.19" width="16.97" height="16.04" fill="#3867b7"/><rect x="1503.48" y="760.19" width="16.97" height="16.04" fill="#3867b7"/><rect x="1520.45" y="760.19" width="16.97" height="16.04" fill="#3867b7"/><rect x="1537.43" y="760.19" width="16.97" height="16.04" fill="#3867b7"/><rect x="1554.4" y="760.19" width="16.97" height="16.04" fill="#3867b7"/><rect x="1571.37" y="760.19" width="16.97" height="16.04" fill="#3867b7"/><rect x="1588.34" y="760.19" width="16.97" height="16.04" fill="#3867b7"/><rect x="1605.31" y="760.19" width="16.97" height="16.04" fill="#3867b7"/><rect x="1622.28" y="760.19" width="16.97" height="16.04" fill="#3867b7"/><rect x="1639.25" y="760.19" width="16.97" height="16.04" fill="#3867b7"/><rect x="1656.22" y="760.19" width="16.97" height="16.04" fill="#3867b7"/><rect x="1673.19" y="760.19" width="16.97" height="16.04" fill="#3867b7"/><rect x="1690.16" y="760.19" width="16.97" height="16.04" fill="#3867b7"/><rect x="1707.14" y="760.19" width="16.97" height="16.04" fill="#3867b7"/><rect x="1724.11" y="760.19" width="16.97" height="16.04" fill="#3867b7"/><rect x="1741.08" y="760.19" width="16.97" height="16.04" fill="#3867b7"/><rect x="1758.05" y="760.19" width="16.97" height="16.04" fill="#3867b7"/><rect x="1775.02" y="760.19" width="16.97" height="16.04" fill="#f36f21"/><rect x="1791.99" y="760.19" width="16.97" height="16.04" fill="#f36f21"/><rect x="1808.96" y="760.19" width="16.97" height="16.04" fill="#8c161b"/><rect x="1096.18" y="776.23" width="16.97" height="16.04" fill="#3356a9"/><rect x="1113.15" y="776.23" width="16.97" height="16.04" fill="#3356a9"/><rect x="1130.12" y="776.23" width="16.97" height="16.04" fill="#2f4ba2"/><rect x="1147.09" y="776.23" width="16.97" height="16.04" fill="#2f4ba2"/><rect x="1164.06" y="776.23" width="16.97" height="16.04" fill="#2f4ba2"/><rect x="1181.04" y="776.23" width="16.97" height="16.04" fill="#2f4ba2"/><rect x="1198.01" y="776.23" width="16.97" height="16.04" fill="#2f4ba2"/><rect x="1214.98" y="776.23" width="16.97" height="16.04" fill="#3356a9"/><rect x="1231.95" y="776.23" width="16.97" height="16.04" fill="#3356a9"/><rect x="1248.92" y="776.23" width="16.97" height="16.04" fill="#3356a9"/><rect x="1265.89" y="776.23" width="16.97" height="16.04" fill="#3356a9"/><rect x="1282.86" y="776.23" width="16.97" height="16.04" fill="#3356a9"/><rect x="1299.83" y="776.23" width="16.97" height="16.04" fill="#2f4ba2"/><rect x="1316.8" y="776.23" width="16.97" height="16.04" fill="#2f4ba2"/><rect x="1333.77" y="776.23" width="16.97" height="16.04" fill="#3356a9"/><rect x="1350.75" y="776.23" width="16.97" height="16.04" fill="#3356a9"/><rect x="1367.72" y="776.23" width="16.97" height="16.04" fill="#3356a9"/><rect x="1384.69" y="776.23" width="16.97" height="16.04" fill="#3356a9"/><rect x="1401.66" y="776.23" width="16.97" height="16.04" fill="#3356a9"/><rect x="1418.63" y="776.23" width="16.97" height="16.04" fill="#2f4ba2"/><rect x="1435.6" y="776.23" width="16.97" height="16.04" fill="#3356a9"/><rect x="1452.57" y="776.23" width="16.97" height="16.04" fill="#3356a9"/><rect x="1469.54" y="776.23" width="16.97" height="16.04" fill="#3356a9"/><rect x="1486.51" y="776.23" width="16.97" height="16.04" fill="#3356a9"/><rect x="1503.48" y="776.23" width="16.97" height="16.04" fill="#3356a9"/><rect x="1520.45" y="776.23" width="16.97" height="16.04" fill="#3356a9"/><rect x="1537.43" y="776.23" width="16.97" height="16.04" fill="#3356a9"/><rect x="1554.4" y="776.23" width="16.97" height="16.04" fill="#3356a9"/><rect x="1571.37" y="776.23" width="16.97" height="16.04" fill="#3356a9"/><rect x="1588.34" y="776.23" width="16.97" height="16.04" fill="#3356a9"/><rect x="1605.31" y="776.23" width="16.97" height="16.04" fill="#3356a9"/><rect x="1622.28" y="776.23" width="16.97" height="16.04" fill="#3356a9"/><rect x="1639.25" y="776.23" width="16.97" height="16.04" fill="#3356a9"/><rect x="1656.22" y="776.23" width="16.97" height="16.04" fill="#3356a9"/><rect x="1673.19" y="776.23" width="16.97" height="16.04" fill="#3356a9"/><rect x="1690.16" y="776.23" width="16.97" height="16.04" fill="#3356a9"/><rect x="1707.14" y="776.23" width="16.97" height="16.04" fill="#3356a9"/><rect x="1724.11" y="776.23" width="16.97" height="16.04" fill="#3356a9"/><rect x="1741.08" y="776.23" width="16.97" height="16.04" fill="#3356a9"/><rect x="1758.05" y="776.23" width="16.97" height="16.04" fill="#3356a9"/><rect x="1775.02" y="776.23" width="16.97" height="16.04" fill="#3356a9"/><rect x="1791.99" y="776.23" width="16.97" height="16.04" fill="#3356a9"/><rect x="1808.96" y="776.23" width="16.97" height="16.04" fill="#3356a9"/><rect x="1825.93" y="776.23" width="16.97" height="16.04" fill="#8c161b"/><rect x="1096.18" y="792.27" width="16.97" height="16.04" fill="#2f4ba2"/><rect x="1113.15" y="792.27" width="16.97" height="16.04" fill="#2f4ba2"/><rect x="1130.12" y="792.27" width="16.97" height="16.04" fill="#2f4ba2"/><rect x="1147.09" y="792.27" width="16.97" height="16.04" fill="#3356a9"/><rect x="1164.06" y="792.27" width="16.97" height="16.04" fill="#2f4ba2"/><rect x="1181.04" y="792.27" width="16.97" height="16.04" fill="#3356a9"/><rect x="1198.01" y="792.27" width="16.97" height="16.04" fill="#3356a9"/><rect x="1214.98" y="792.27" width="16.97" height="16.04" fill="#2f4ba2"/><rect x="1231.95" y="792.27" width="16.97" height="16.04" fill="#2f4ba2"/><rect x="1248.92" y="792.27" width="16.97" height="16.04" fill="#2f4ba2"/><rect x="1265.89" y="792.27" width="16.97" height="16.04" fill="#3356a9"/><rect x="1282.86" y="792.27" width="16.97" height="16.04" fill="#3356a9"/><rect x="1299.83" y="792.27" width="16.97" height="16.04" fill="#3356a9"/><rect x="1316.8" y="792.27" width="16.97" height="16.04" fill="#3356a9"/><rect x="1333.77" y="792.27" width="16.97" height="16.04" fill="#2f4ba2"/><rect x="1350.75" y="792.27" width="16.97" height="16.04" fill="#2f4ba2"/><rect x="1367.72" y="792.27" width="16.97" height="16.04" fill="#2f4ba2"/><rect x="1384.69" y="792.27" width="16.97" height="16.04" fill="#3356a9"/><rect x="1401.66" y="792.27" width="16.97" height="16.04" fill="#2f4ba2"/><rect x="1418.63" y="792.27" width="16.97" height="16.04" fill="#3356a9"/><rect x="1435.6" y="792.27" width="16.97" height="16.04" fill="#2f4ba2"/><rect x="1452.57" y="792.27" width="16.97" height="16.04" fill="#3356a9"/><rect x="1469.54" y="792.27" width="16.97" height="16.04" fill="#3356a9"/><rect x="1486.51" y="792.27" width="16.97" height="16.04" fill="#3356a9"/><rect x="1503.48" y="792.27" width="16.97" height="16.04" fill="#3356a9"/><rect x="1520.45" y="792.27" width="16.97" height="16.04" fill="#3356a9"/><rect x="1537.43" y="792.27" width="16.97" height="16.04" fill="#3356a9"/><rect x="1554.4" y="792.27" width="16.97" height="16.04" fill="#3356a9"/><rect x="1571.37" y="792.27" width="16.97" height="16.04" fill="#3356a9"/><rect x="1588.34" y="792.27" width="16.97" height="16.04" fill="#3356a9"/><rect x="1605.31" y="792.27" width="16.97" height="16.04" fill="#3356a9"/><rect x="1622.28" y="792.27" width="16.97" height="16.04" fill="#3356a9"/><rect x="1639.25" y="792.27" width="16.97" height="16.04" fill="#3356a9"/><rect x="1656.22" y="792.27" width="16.97" height="16.04" fill="#3356a9"/><rect x="1673.19" y="792.27" width="16.97" height="16.04" fill="#3356a9"/><rect x="1690.16" y="792.27" width="16.97" height="16.04" fill="#3356a9"/><rect x="1707.14" y="792.27" width="16.97" height="16.04" fill="#3356a9"/><rect x="1724.11" y="792.27" width="16.97" height="16.04" fill="#3356a9"/><rect x="1741.08" y="792.27" width="16.97" height="16.04" fill="#3356a9"/><rect x="1758.05" y="792.27" width="16.97" height="16.04" fill="#3356a9"/><rect x="1775.02" y="792.27" width="16.97" height="16.04" fill="#3356a9"/><rect x="1791.99" y="792.27" width="16.97" height="16.04" fill="#3356a9"/><rect x="1808.96" y="792.27" width="16.97" height="16.04" fill="#3356a9"/><rect x="1825.93" y="792.27" width="16.97" height="16.04" fill="#ec2227"/><rect x="1842.9" y="792.27" width="16.97" height="16.04" fill="#8c161b"/></g>
<text transform="translate(1021.3 99.29) scale(0.93 1)" font-size="13.3">AF110190</text><text transform="translate(1021.3 115.33) scale(0.93 1)" font-size="13.3">KX857726</text><text transform="translate(1021.3 131.37) scale(0.93 1)" font-size="13.3">HM236371</text><text transform="translate(1021.3 147.41) scale(0.93 1)" font-size="13.3">EU339937</text><text transform="translate(1021.3 163.45) scale(0.93 1)" font-size="13.3">MK634539</text><text transform="translate(1021.3 179.5) scale(0.93 1)" font-size="13.3">DQ356429</text><text transform="translate(1021.3 195.54) scale(0.93 1)" font-size="13.3">FJ944020</text><text transform="translate(1021.3 211.58) scale(0.93 1)" font-size="13.3">KX096982</text><text transform="translate(1021.3 227.62) scale(0.93 1)" font-size="13.3">KX096981</text><text transform="translate(1021.3 243.66) scale(0.93 1)" font-size="13.3">KX011474</text><text transform="translate(1021.3 259.7) scale(0.93 1)" font-size="13.3">OK044473</text><text transform="translate(1021.3 275.74) scale(0.93 1)" font-size="13.3">L01636</text><text transform="translate(1021.3 291.78) scale(0.93 1)" font-size="13.3">AF173556</text><text transform="translate(1021.3 307.82) scale(0.93 1)" font-size="13.3">M91605</text><text transform="translate(1021.3 323.86) scale(0.93 1)" font-size="13.3">M88687</text><text transform="translate(1021.3 339.91) scale(0.93 1)" font-size="13.3">MN822293</text><text transform="translate(1021.3 355.95) scale(0.93 1)" font-size="13.3">MT626961</text><text transform="translate(1021.3 371.99) scale(0.93 1)" font-size="13.3">JN848771</text><text transform="translate(1021.3 388.03) scale(0.93 1)" font-size="13.3">M88180</text><text transform="translate(1021.3 404.07) scale(0.93 1)" font-size="13.3">JQ283246</text><text transform="translate(1021.3 420.11) scale(0.93 1)" font-size="13.3">MN158326</text><text transform="translate(1021.3 436.15) scale(0.93 1)" font-size="13.3">MK317962</text><text transform="translate(1021.3 452.19) scale(0.93 1)" font-size="13.3">DQ865203</text><text transform="translate(1021.3 468.23) scale(0.93 1)" font-size="13.3">AF262064</text><text transform="translate(1021.3 484.27) scale(0.93 1)" font-size="13.3">MN698283</text><text transform="translate(1021.3 500.32) scale(0.93 1)" font-size="13.3">MN602420</text><text transform="translate(1021.3 516.36) scale(0.93 1)" font-size="13.3">MN698276</text><text transform="translate(1021.3 532.4) scale(0.93 1)" font-size="13.3">MN020536</text><text transform="translate(1021.3 548.44) scale(0.93 1)" font-size="13.3">MW717969</text><text transform="translate(1021.3 564.48) scale(0.93 1)" font-size="13.3">MW717979</text><text transform="translate(1021.3 580.52) scale(0.93 1)" font-size="13.3">MF683073</text><text transform="translate(1021.3 596.56) scale(0.93 1)" font-size="13.3">JN368446</text><text transform="translate(1021.3 612.6) scale(0.93 1)" font-size="13.3">AJ627905</text><text transform="translate(1021.3 628.64) scale(0.93 1)" font-size="13.3">AM932428</text><text transform="translate(1021.3 644.68) scale(0.93 1)" font-size="13.3">AM932426</text><text transform="translate(1021.3 660.73) scale(0.93 1)" font-size="13.3">AM999982</text><text transform="translate(1021.3 676.77) scale(0.93 1)" font-size="13.3">FM208848</text><text transform="translate(1021.3 692.81) scale(0.93 1)" font-size="13.3">KP752091</text><text transform="translate(1021.3 708.85) scale(0.93 1)" font-size="13.3">DQ641691</text><text transform="translate(1021.3 724.89) scale(0.93 1)" font-size="13.3">HQ162272</text><text transform="translate(1021.3 740.93) scale(0.93 1)" font-size="13.3">KJ481205</text><text transform="translate(1021.3 756.97) scale(0.93 1)" font-size="13.3">KJ481205</text><text transform="translate(1021.3 773.01) scale(0.93 1)" font-size="13.3">MT108191</text><text transform="translate(1021.3 789.05) scale(0.93 1)" font-size="13.3">GQ472986</text><text transform="translate(1021.3 805.09) scale(0.93 1)" font-size="13.3">KT444612</text>
<text transform="translate(1103.87 877.5) rotate(-90) scale(1.1 1)" font-size="11.3">AF110190</text><text transform="translate(1120.84 877.5) rotate(-90) scale(1.1 1)" font-size="11.3">KX857726</text><text transform="translate(1137.81 877.5) rotate(-90) scale(1.1 1)" font-size="11.3">HM236371</text><text transform="translate(1154.78 877.5) rotate(-90) scale(1.1 1)" font-size="11.3">EU339937</text><text transform="translate(1171.75 877.5) rotate(-90) scale(1.1 1)" font-size="11.3">MK634539</text><text transform="translate(1188.72 877.5) rotate(-90) scale(1.1 1)" font-size="11.3">DQ356429</text><text transform="translate(1205.69 877.5) rotate(-90) scale(1.1 1)" font-size="11.3">FJ944020</text><text transform="translate(1222.66 877.5) rotate(-90) scale(1.1 1)" font-size="11.3">KX096982</text><text transform="translate(1239.63 877.5) rotate(-90) scale(1.1 1)" font-size="11.3">KX096981</text><text transform="translate(1256.6 877.5) rotate(-90) scale(1.1 1)" font-size="11.3">KX011474</text><text transform="translate(1273.58 877.5) rotate(-90) scale(1.1 1)" font-size="11.3">OK044473</text><text transform="translate(1290.55 877.5) rotate(-90) scale(1.1 1)" font-size="11.3">L01636</text><text transform="translate(1307.52 877.5) rotate(-90) scale(1.1 1)" font-size="11.3">AF173556</text><text transform="translate(1324.49 877.5) rotate(-90) scale(1.1 1)" font-size="11.3">M91605</text><text transform="translate(1341.46 877.5) rotate(-90) scale(1.1 1)" font-size="11.3">M88687</text><text transform="translate(1358.43 877.5) rotate(-90) scale(1.1 1)" font-size="11.3">MN822293</text><text transform="translate(1375.4 877.5) rotate(-90) scale(1.1 1)" font-size="11.3">MT626961</text><text transform="translate(1392.37 877.5) rotate(-90) scale(1.1 1)" font-size="11.3">JN848771</text><text transform="translate(1409.34 877.5) rotate(-90) scale(1.1 1)" font-size="11.3">M88180</text><text transform="translate(1426.31 877.5) rotate(-90) scale(1.1 1)" font-size="11.3">JQ283246</text><text transform="translate(1443.29 877.5) rotate(-90) scale(1.1 1)" font-size="11.3">MN158326</text><text transform="translate(1460.26 877.5) rotate(-90) scale(1.1 1)" font-size="11.3">MK317962</text><text transform="translate(1477.23 877.5) rotate(-90) scale(1.1 1)" font-size="11.3">DQ865203</text><text transform="translate(1494.2 877.5) rotate(-90) scale(1.1 1)" font-size="11.3">AF262064</text><text transform="translate(1511.17 877.5) rotate(-90) scale(1.1 1)" font-size="11.3">MN698283</text><text transform="translate(1528.14 877.5) rotate(-90) scale(1.1 1)" font-size="11.3">MN602420</text><text transform="translate(1545.11 877.5) rotate(-90) scale(1.1 1)" font-size="11.3">MN698276</text><text transform="translate(1562.08 877.5) rotate(-90) scale(1.1 1)" font-size="11.3">MN020536</text><text transform="translate(1579.05 877.5) rotate(-90) scale(1.1 1)" font-size="11.3">MW717969</text><text transform="translate(1596.02 877.5) rotate(-90) scale(1.1 1)" font-size="11.3">MW717979</text><text transform="translate(1613 877.5) rotate(-90) scale(1.1 1)" font-size="11.3">MF683073</text><text transform="translate(1629.97 877.5) rotate(-90) scale(1.1 1)" font-size="11.3">JN368446</text><text transform="translate(1646.94 877.5) rotate(-90) scale(1.1 1)" font-size="11.3">AJ627905</text><text transform="translate(1663.91 877.5) rotate(-90) scale(1.1 1)" font-size="11.3">AM932428</text><text transform="translate(1680.88 877.5) rotate(-90) scale(1.1 1)" font-size="11.3">AM932426</text><text transform="translate(1697.85 877.5) rotate(-90) scale(1.1 1)" font-size="11.3">AM999982</text><text transform="translate(1714.82 877.5) rotate(-90) scale(1.1 1)" font-size="11.3">FM208848</text><text transform="translate(1731.79 877.5) rotate(-90) scale(1.1 1)" font-size="11.3">KP752091</text><text transform="translate(1748.76 877.5) rotate(-90) scale(1.1 1)" font-size="11.3">DQ641691</text><text transform="translate(1765.73 877.5) rotate(-90) scale(1.1 1)" font-size="11.3">HQ162272</text><text transform="translate(1782.71 877.5) rotate(-90) scale(1.1 1)" font-size="11.3">KJ481205</text><text transform="translate(1799.68 877.5) rotate(-90) scale(1.1 1)" font-size="11.3">KJ481205</text><text transform="translate(1816.65 877.5) rotate(-90) scale(1.1 1)" font-size="11.3">MT108191</text><text transform="translate(1833.62 877.5) rotate(-90) scale(1.1 1)" font-size="11.3">GQ472986</text><text transform="translate(1850.59 877.5) rotate(-90) scale(1.1 1)" font-size="11.3">KT444612</text>
<text x="0" y="263.2" font-size="12" transform="translate(1825 0) scale(1.06 1) translate(0 0)">Pairwise identity (%)</text><g stroke="#0a0a0a" stroke-width="1.3"><rect x="1883.2" y="281.4" width="35.2" height="11.24" fill="#8b1518"/><rect x="1883.2" y="292.64" width="35.2" height="11.24" fill="#ac1c24"/><rect x="1883.2" y="303.88" width="35.2" height="11.24" fill="#d91f26"/><rect x="1883.2" y="315.12" width="35.2" height="11.24" fill="#ec2227"/><rect x="1883.2" y="326.36" width="35.2" height="11.24" fill="#ee4a25"/><rect x="1883.2" y="337.6" width="35.2" height="11.24" fill="#f36e21"/><rect x="1883.2" y="348.84" width="35.2" height="11.24" fill="#f8981d"/><rect x="1883.2" y="360.08" width="35.2" height="11.24" fill="#fdc70f"/><rect x="1883.2" y="371.32" width="35.2" height="11.24" fill="#f4e81c"/><rect x="1883.2" y="382.56" width="35.2" height="11.24" fill="#cbd62e"/><rect x="1883.2" y="393.8" width="35.2" height="11.24" fill="#a9c74c"/><rect x="1883.2" y="405.04" width="35.2" height="11.24" fill="#8bc671"/><rect x="1883.2" y="416.28" width="35.2" height="11.24" fill="#6fc4a4"/><rect x="1883.2" y="427.52" width="35.2" height="11.24" fill="#5dc4d0"/><rect x="1883.2" y="438.76" width="35.2" height="11.24" fill="#40c0eb"/><rect x="1883.2" y="450" width="35.2" height="11.24" fill="#3ca0e2"/><rect x="1883.2" y="461.24" width="35.2" height="11.24" fill="#3c7bc6"/><rect x="1883.2" y="472.48" width="35.2" height="11.24" fill="#3767b6"/><rect x="1883.2" y="483.72" width="35.2" height="11.24" fill="#3358ab"/><rect x="1883.2" y="494.96" width="35.2" height="11.24" fill="#2f4ca2"/><rect x="1883.2" y="506.2" width="35.2" height="11.24" fill="#2c4199"/><rect x="1883.2" y="517.44" width="35.2" height="11.24" fill="#29348a"/></g><line x1="1918.4" y1="287.02" x2="1925.4" y2="287.02" stroke="#111" stroke-width="2.2"/><text x="1928.1" y="293.18" font-size="12.4">100</text><line x1="1918.4" y1="309.5" x2="1925.4" y2="309.5" stroke="#111" stroke-width="2.2"/><text x="1928.1" y="315.66" font-size="12.4">96</text><line x1="1918.4" y1="331.98" x2="1925.4" y2="331.98" stroke="#111" stroke-width="2.2"/><text x="1928.1" y="338.14" font-size="12.4">92</text><line x1="1918.4" y1="354.46" x2="1925.4" y2="354.46" stroke="#111" stroke-width="2.2"/><text x="1928.1" y="360.62" font-size="12.4">88</text><line x1="1918.4" y1="376.94" x2="1925.4" y2="376.94" stroke="#111" stroke-width="2.2"/><text x="1928.1" y="383.1" font-size="12.4">84</text><line x1="1918.4" y1="399.42" x2="1925.4" y2="399.42" stroke="#111" stroke-width="2.2"/><text x="1928.1" y="405.58" font-size="12.4">80</text><line x1="1918.4" y1="421.9" x2="1925.4" y2="421.9" stroke="#111" stroke-width="2.2"/><text x="1928.1" y="428.06" font-size="12.4">75</text><line x1="1918.4" y1="444.38" x2="1925.4" y2="444.38" stroke="#111" stroke-width="2.2"/><text x="1928.1" y="450.54" font-size="12.4">71</text><line x1="1918.4" y1="466.86" x2="1925.4" y2="466.86" stroke="#111" stroke-width="2.2"/><text x="1928.1" y="473.02" font-size="12.4">67</text><line x1="1918.4" y1="489.34" x2="1925.4" y2="489.34" stroke="#111" stroke-width="2.2"/><text x="1928.1" y="495.5" font-size="12.4">63</text><line x1="1918.4" y1="511.82" x2="1925.4" y2="511.82" stroke="#111" stroke-width="2.2"/><text x="1928.1" y="517.98" font-size="12.4">59</text>
<rect x="31" y="1.7" width="59.8" height="56.5" fill="none" stroke="#3a3a3a" stroke-width="1.4"/>
<text transform="translate(59.3 40) scale(0.96 1)" font-size="29.2" font-weight="bold" text-anchor="middle" style="fill:#000;stroke:none">A</text>
<rect x="1075.8" y="0.7" width="56.3" height="57.7" fill="none" stroke="#3a3a3a" stroke-width="1.4"/>
<line x1="1075" y1="0.6" x2="1133" y2="0.6" stroke="#111" stroke-width="1.2"/>
<text transform="translate(1102.8 39.9) scale(0.92 1)" font-size="29.2" font-weight="bold" text-anchor="middle" style="fill:#000;stroke:none">B</text>
</svg></body></html>
